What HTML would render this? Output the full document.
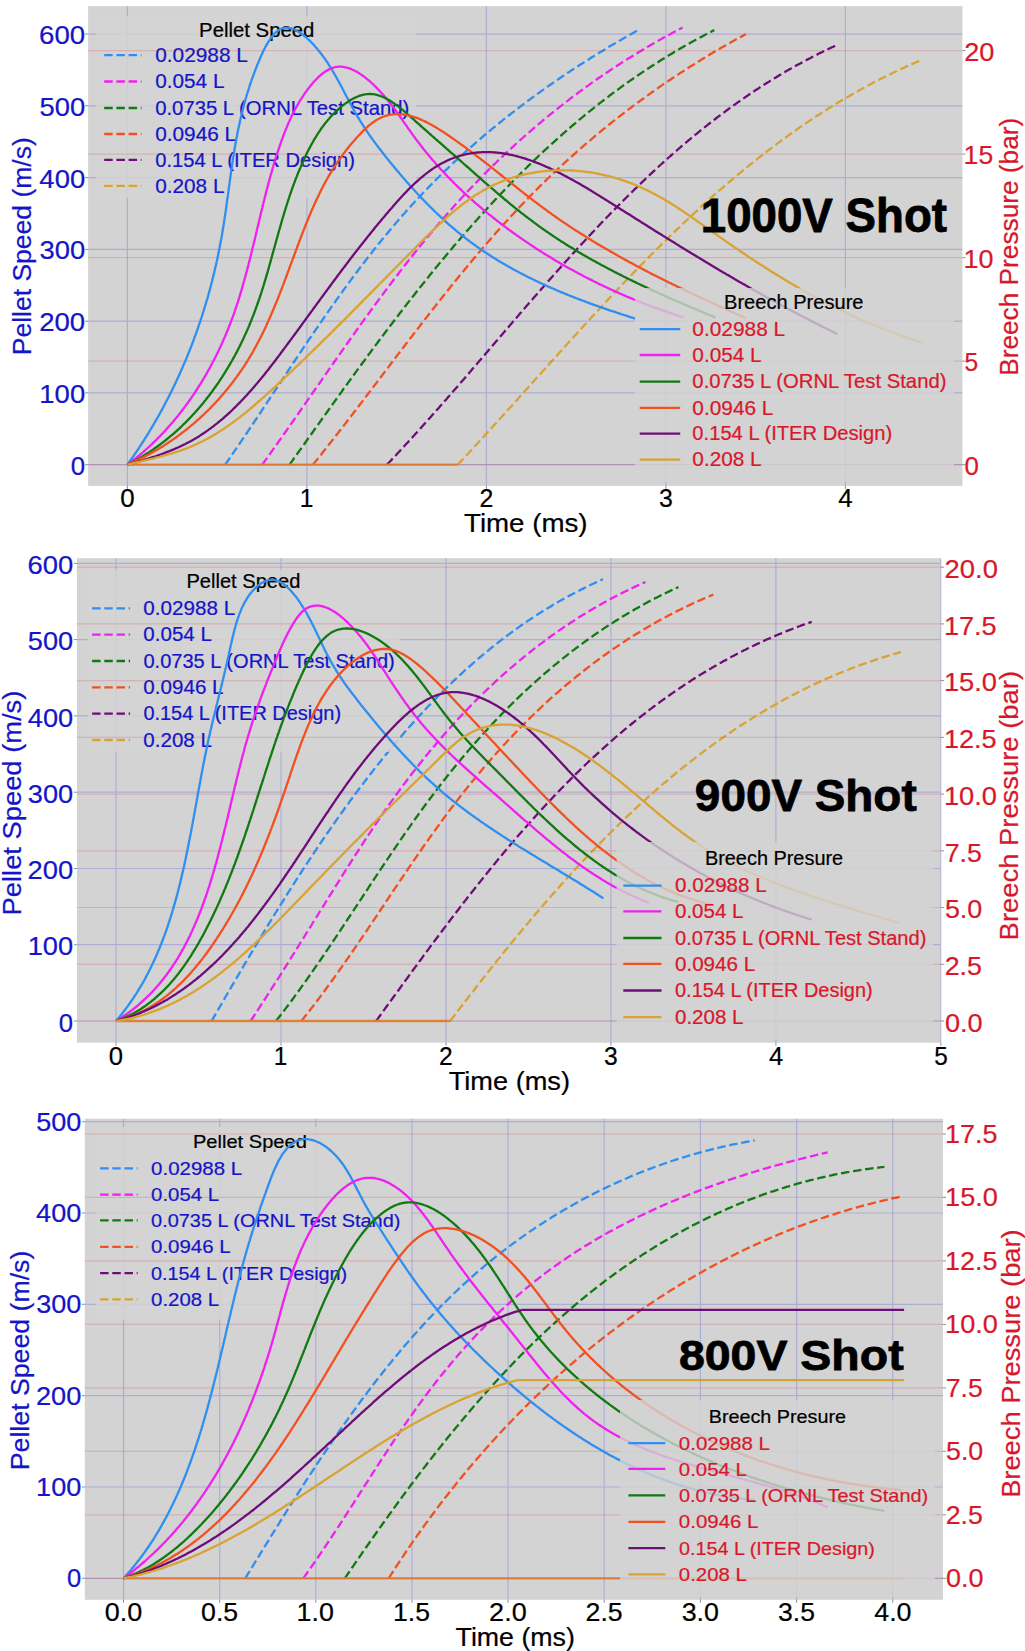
<!DOCTYPE html>
<html><head><meta charset="utf-8"><style>
html,body{margin:0;padding:0;background:#fff;}
svg{display:block;}
text{font-family:"Liberation Sans", sans-serif;}
</style></head><body>
<svg width="1025" height="1651" viewBox="0 0 1025 1651">
<rect x="0" y="0" width="1025" height="1651" fill="#ffffff"/>
<rect x="88.1" y="6.1" width="874.3" height="479.79999999999995" fill="#d3d3d3"/>
<path d="M127.4,6.1 V485.9 M306.9,6.1 V485.9 M486.4,6.1 V485.9 M665.9,6.1 V485.9 M845.4,6.1 V485.9 M88.1,464.7 H962.4 M88.1,392.9 H962.4 M88.1,321.2 H962.4 M88.1,249.4 H962.4 M88.1,177.6 H962.4 M88.1,105.8 H962.4 M88.1,34.1 H962.4" stroke="#2020e0" stroke-opacity="0.2" stroke-width="1.2" fill="none"/>
<path d="M225.1,464.7 226.0,463.5 226.8,462.2 227.7,461.0 228.5,459.8 229.4,458.5 230.2,457.3 231.1,456.1 231.9,454.8 232.8,453.6 233.6,452.4 234.5,451.1 235.3,449.9 236.2,448.6 237.0,447.4 237.9,446.2 238.7,444.9 239.6,443.7 240.4,442.4 241.3,441.2 242.1,439.9 242.9,438.7 243.8,437.5 244.6,436.2 245.5,435.0 246.3,433.7 247.2,432.5 248.0,431.2 248.8,430.0 249.7,428.7 250.5,427.5 251.3,426.2 252.2,425.0 253.0,423.7 253.9,422.5 254.7,421.2 255.5,420.0 256.4,418.7 257.2,417.5 258.0,416.2 258.9,415.0 259.7,413.7 260.5,412.5 261.4,411.2 262.2,409.9 263.0,408.7 263.9,407.4 264.7,406.2 265.5,404.9 266.4,403.7 267.2,402.4 268.0,401.2 268.9,399.9 269.7,398.6 270.5,397.4 271.4,396.1 272.2,394.9 273.0,393.6 273.8,392.4 274.7,391.1 275.5,389.9 276.3,388.6 277.2,387.3 278.0,386.1 278.8,384.8 279.7,383.6 280.5,382.3 281.3,381.1 282.2,379.8 283.0,378.5 283.8,377.3 284.7,376.0 285.5,374.8 286.3,373.5 287.2,372.3 288.0,371.0 288.8,369.8 289.7,368.5 290.5,367.2 291.3,366.0 292.2,364.7 293.0,363.5 293.8,362.2 294.7,361.0 295.5,359.7 296.3,358.5 297.2,357.2 298.0,356.0 298.8,354.7 299.7,353.5 300.5,352.2 301.4,351.0 302.2,349.7 303.0,348.4 303.9,347.2 304.7,345.9 305.6,344.7 306.4,343.5 307.2,342.2 308.1,341.0 308.9,339.7 309.8,338.5 310.6,337.2 311.5,336.0 312.3,334.7 313.2,333.5 314.0,332.2 314.9,331.0 315.7,329.7 316.6,328.5 317.4,327.3 318.3,326.0 319.1,324.8 320.0,323.5 320.8,322.3 321.7,321.1 322.5,319.8 323.4,318.6 324.2,317.3 325.1,316.1 325.9,314.9 326.8,313.6 327.7,312.4 328.5,311.2 329.4,309.9 330.3,308.7 331.1,307.5 332.0,306.3 332.9,305.0 333.7,303.8 334.6,302.6 335.5,301.3 336.3,300.1 337.2,298.9 338.1,297.7 338.9,296.4 339.8,295.2 340.7,294.0 341.6,292.8 342.5,291.6 343.3,290.3 344.2,289.1 345.1,287.9 346.0,286.7 346.9,285.5 347.7,284.3 348.6,283.1 349.5,281.9 350.4,280.6 351.3,279.4 352.2,278.2 353.1,277.0 354.0,275.8 354.9,274.6 355.8,273.4 356.7,272.2 357.6,271.0 358.5,269.8 359.4,268.6 360.3,267.4 361.2,266.2 362.1,265.0 363.0,263.8 363.9,262.7 364.8,261.5 365.8,260.3 366.7,259.1 367.6,257.9 368.5,256.7 369.4,255.5 370.3,254.4 371.3,253.2 372.2,252.0 373.1,250.8 374.1,249.6 375.0,248.5 375.9,247.3 376.9,246.1 377.8,245.0 378.7,243.8 379.7,242.6 380.6,241.5 381.5,240.3 382.5,239.1 383.4,238.0 384.4,236.8 385.3,235.7 386.3,234.5 387.2,233.4 388.2,232.2 389.2,231.0 390.1,229.9 391.1,228.8 392.0,227.6 393.0,226.5 394.0,225.3 395.0,224.2 395.9,223.0 396.9,221.9 397.9,220.8 398.9,219.6 399.8,218.5 400.8,217.4 401.8,216.3 402.8,215.1 403.8,214.0 404.8,212.9 405.8,211.8 406.8,210.6 407.8,209.5 408.8,208.4 409.8,207.3 410.8,206.2 411.8,205.1 412.8,204.0 413.8,202.9 414.8,201.8 415.8,200.7 416.8,199.6 417.9,198.5 418.9,197.4 419.9,196.3 420.9,195.2 422.0,194.1 423.0,193.0 424.0,191.9 425.1,190.9 426.1,189.8 427.2,188.7 428.2,187.6 429.3,186.6 430.3,185.5 431.4,184.4 432.4,183.3 433.5,182.3 434.5,181.2 435.6,180.2 436.6,179.1 437.7,178.0 438.8,177.0 439.8,175.9 440.9,174.9 442.0,173.8 443.1,172.8 444.1,171.7 445.2,170.7 446.3,169.7 447.4,168.6 448.5,167.6 449.5,166.5 450.6,165.5 451.7,164.5 452.8,163.4 453.9,162.4 455.0,161.4 456.1,160.4 457.2,159.3 458.3,158.3 459.4,157.3 460.5,156.3 461.6,155.3 462.8,154.3 463.9,153.3 465.0,152.3 466.1,151.3 467.2,150.2 468.3,149.2 469.5,148.2 470.6,147.2 471.7,146.3 472.9,145.3 474.0,144.3 475.1,143.3 476.2,142.3 477.4,141.3 478.5,140.3 479.7,139.3 480.8,138.4 482.0,137.4 483.1,136.4 484.2,135.4 485.4,134.5 486.5,133.5 487.7,132.5 488.9,131.6 490.0,130.6 491.2,129.6 492.3,128.7 493.5,127.7 494.7,126.8 495.8,125.8 497.0,124.9 498.2,123.9 499.3,123.0 500.5,122.0 501.7,121.1 502.9,120.1 504.0,119.2 505.2,118.3 506.4,117.3 507.6,116.4 508.8,115.5 510.0,114.5 511.1,113.6 512.3,112.7 513.5,111.8 514.7,110.8 515.9,109.9 517.1,109.0 518.3,108.1 519.5,107.2 520.7,106.3 521.9,105.3 523.1,104.4 524.3,103.5 525.5,102.6 526.7,101.7 527.9,100.8 529.2,99.9 530.4,99.0 531.6,98.1 532.8,97.3 534.0,96.4 535.2,95.5 536.5,94.6 537.7,93.7 538.9,92.8 540.1,91.9 541.4,91.1 542.6,90.2 543.8,89.3 545.0,88.4 546.3,87.6 547.5,86.7 548.7,85.8 550.0,85.0 551.2,84.1 552.5,83.3 553.7,82.4 554.9,81.5 556.2,80.7 557.4,79.8 558.7,79.0 559.9,78.1 561.2,77.3 562.4,76.4 563.7,75.6 564.9,74.8 566.2,73.9 567.4,73.1 568.7,72.3 569.9,71.4 571.2,70.6 572.5,69.8 573.7,68.9 575.0,68.1 576.3,67.3 577.5,66.5 578.8,65.6 580.1,64.8 581.3,64.0 582.6,63.2 583.9,62.4 585.1,61.6 586.4,60.8 587.7,60.0 589.0,59.2 590.2,58.4 591.5,57.6 592.8,56.8 594.1,56.0 595.4,55.2 596.6,54.4 597.9,53.6 599.2,52.8 600.5,52.0 601.8,51.2 603.1,50.5 604.4,49.7 605.6,48.9 606.9,48.1 608.2,47.4 609.5,46.6 610.8,45.8 612.1,45.0 613.4,44.3 614.7,43.5 616.0,42.8 617.3,42.0 618.6,41.2 619.9,40.5 621.2,39.7 622.5,39.0 623.8,38.2 625.1,37.5 626.4,36.7 627.7,36.0 629.0,35.2 630.3,34.5 631.6,33.8 633.0,33.0 634.3,32.3 635.6,31.6 636.9,30.8 638.2,30.1" fill="none" stroke="#2f8ff0" stroke-width="2.3" stroke-dasharray="8.5 3.7" stroke-linecap="butt" stroke-linejoin="round"/>
<path d="M262.2,464.7 263.1,463.5 264.0,462.3 264.8,461.1 265.7,459.8 266.6,458.6 267.4,457.4 268.3,456.2 269.2,455.0 270.1,453.8 270.9,452.5 271.8,451.3 272.7,450.1 273.5,448.9 274.4,447.7 275.3,446.4 276.1,445.2 277.0,444.0 277.9,442.8 278.7,441.5 279.6,440.3 280.5,439.1 281.3,437.9 282.2,436.6 283.1,435.4 283.9,434.2 284.8,433.0 285.6,431.7 286.5,430.5 287.4,429.3 288.2,428.0 289.1,426.8 290.0,425.6 290.8,424.3 291.7,423.1 292.5,421.9 293.4,420.6 294.3,419.4 295.1,418.2 296.0,416.9 296.8,415.7 297.7,414.5 298.6,413.2 299.4,412.0 300.3,410.8 301.1,409.5 302.0,408.3 302.9,407.1 303.7,405.8 304.6,404.6 305.4,403.4 306.3,402.1 307.2,400.9 308.0,399.7 308.9,398.4 309.7,397.2 310.6,395.9 311.5,394.7 312.3,393.5 313.2,392.2 314.0,391.0 314.9,389.8 315.8,388.5 316.6,387.3 317.5,386.0 318.3,384.8 319.2,383.6 320.1,382.3 320.9,381.1 321.8,379.9 322.6,378.6 323.5,377.4 324.4,376.1 325.2,374.9 326.1,373.7 326.9,372.4 327.8,371.2 328.7,370.0 329.5,368.7 330.4,367.5 331.2,366.2 332.1,365.0 333.0,363.8 333.8,362.5 334.7,361.3 335.6,360.1 336.4,358.8 337.3,357.6 338.2,356.4 339.0,355.1 339.9,353.9 340.8,352.6 341.6,351.4 342.5,350.2 343.4,348.9 344.2,347.7 345.1,346.5 346.0,345.2 346.8,344.0 347.7,342.8 348.6,341.5 349.5,340.3 350.3,339.1 351.2,337.9 352.1,336.6 352.9,335.4 353.8,334.2 354.7,332.9 355.6,331.7 356.4,330.5 357.3,329.3 358.2,328.0 359.1,326.8 360.0,325.6 360.8,324.3 361.7,323.1 362.6,321.9 363.5,320.7 364.4,319.4 365.2,318.2 366.1,317.0 367.0,315.8 367.9,314.6 368.8,313.3 369.7,312.1 370.5,310.9 371.4,309.7 372.3,308.5 373.2,307.2 374.1,306.0 375.0,304.8 375.9,303.6 376.8,302.4 377.7,301.2 378.6,300.0 379.5,298.7 380.4,297.5 381.3,296.3 382.2,295.1 383.1,293.9 384.0,292.7 384.9,291.5 385.8,290.3 386.7,289.1 387.6,287.9 388.5,286.7 389.4,285.5 390.3,284.3 391.2,283.1 392.1,281.9 393.0,280.7 393.9,279.5 394.8,278.3 395.8,277.1 396.7,275.9 397.6,274.7 398.5,273.5 399.4,272.3 400.3,271.1 401.3,269.9 402.2,268.7 403.1,267.5 404.0,266.3 405.0,265.1 405.9,264.0 406.8,262.8 407.7,261.6 408.7,260.4 409.6,259.2 410.5,258.0 411.5,256.9 412.4,255.7 413.3,254.5 414.3,253.3 415.2,252.2 416.2,251.0 417.1,249.8 418.0,248.7 419.0,247.5 419.9,246.3 420.9,245.1 421.8,244.0 422.8,242.8 423.7,241.7 424.7,240.5 425.6,239.3 426.6,238.2 427.5,237.0 428.5,235.9 429.5,234.7 430.4,233.5 431.4,232.4 432.4,231.2 433.3,230.1 434.3,228.9 435.3,227.8 436.2,226.7 437.2,225.5 438.2,224.4 439.2,223.2 440.1,222.1 441.1,221.0 442.1,219.8 443.1,218.7 444.1,217.5 445.1,216.4 446.0,215.3 447.0,214.2 448.0,213.0 449.0,211.9 450.0,210.8 451.0,209.7 452.0,208.5 453.0,207.4 454.0,206.3 455.0,205.2 456.0,204.1 457.0,203.0 458.0,201.8 459.0,200.7 460.1,199.6 461.1,198.5 462.1,197.4 463.1,196.3 464.1,195.2 465.1,194.1 466.2,193.0 467.2,191.9 468.2,190.8 469.3,189.7 470.3,188.6 471.3,187.6 472.4,186.5 473.4,185.4 474.4,184.3 475.5,183.2 476.5,182.1 477.6,181.1 478.6,180.0 479.7,178.9 480.7,177.8 481.8,176.8 482.8,175.7 483.9,174.6 484.9,173.6 486.0,172.5 487.0,171.5 488.1,170.4 489.2,169.3 490.2,168.3 491.3,167.2 492.4,166.2 493.4,165.1 494.5,164.1 495.6,163.0 496.7,162.0 497.8,160.9 498.8,159.9 499.9,158.9 501.0,157.8 502.1,156.8 503.2,155.8 504.3,154.7 505.4,153.7 506.5,152.7 507.6,151.7 508.7,150.6 509.8,149.6 510.9,148.6 512.0,147.6 513.1,146.6 514.2,145.5 515.3,144.5 516.4,143.5 517.5,142.5 518.6,141.5 519.7,140.5 520.9,139.5 522.0,138.5 523.1,137.5 524.2,136.5 525.3,135.5 526.5,134.5 527.6,133.5 528.7,132.6 529.9,131.6 531.0,130.6 532.1,129.6 533.3,128.6 534.4,127.7 535.6,126.7 536.7,125.7 537.9,124.7 539.0,123.8 540.1,122.8 541.3,121.8 542.5,120.9 543.6,119.9 544.8,119.0 545.9,118.0 547.1,117.1 548.2,116.1 549.4,115.2 550.6,114.2 551.7,113.3 552.9,112.3 554.1,111.4 555.2,110.4 556.4,109.5 557.6,108.6 558.8,107.6 560.0,106.7 561.1,105.8 562.3,104.9 563.5,103.9 564.7,103.0 565.9,102.1 567.1,101.2 568.3,100.3 569.5,99.3 570.7,98.4 571.8,97.5 573.0,96.6 574.2,95.7 575.4,94.8 576.7,93.9 577.9,93.0 579.1,92.1 580.3,91.2 581.5,90.3 582.7,89.5 583.9,88.6 585.1,87.7 586.4,86.8 587.6,85.9 588.8,85.1 590.0,84.2 591.2,83.3 592.5,82.4 593.7,81.6 594.9,80.7 596.2,79.8 597.4,79.0 598.6,78.1 599.9,77.3 601.1,76.4 602.3,75.6 603.6,74.7 604.8,73.9 606.1,73.0 607.3,72.2 608.6,71.4 609.8,70.5 611.1,69.7 612.3,68.8 613.6,68.0 614.8,67.2 616.1,66.4 617.4,65.5 618.6,64.7 619.9,63.9 621.2,63.1 622.4,62.3 623.7,61.5 625.0,60.7 626.2,59.9 627.5,59.1 628.8,58.3 630.1,57.5 631.4,56.7 632.6,55.9 633.9,55.1 635.2,54.3 636.5,53.5 637.8,52.7 639.1,51.9 640.4,51.2 641.7,50.4 643.0,49.6 644.3,48.8 645.6,48.1 646.9,47.3 648.2,46.5 649.5,45.8 650.8,45.0 652.1,44.3 653.4,43.5 654.7,42.8 656.0,42.0 657.3,41.3 658.6,40.5 660.0,39.8 661.3,39.1 662.6,38.3 663.9,37.6 665.2,36.9 666.6,36.1 667.9,35.4 669.2,34.7 670.6,34.0 671.9,33.2 673.2,32.5 674.6,31.8 675.9,31.1 677.2,30.4 678.6,29.7 679.9,29.0 681.3,28.3 682.6,27.6" fill="none" stroke="#f020f0" stroke-width="2.3" stroke-dasharray="8.5 3.7" stroke-linecap="butt" stroke-linejoin="round"/>
<path d="M289.5,464.7 290.4,463.5 291.2,462.3 292.1,461.1 293.0,459.8 293.8,458.6 294.7,457.4 295.6,456.2 296.4,455.0 297.3,453.7 298.2,452.5 299.0,451.3 299.9,450.1 300.8,448.9 301.7,447.6 302.5,446.4 303.4,445.2 304.3,444.0 305.1,442.8 306.0,441.5 306.9,440.3 307.7,439.1 308.6,437.9 309.5,436.7 310.3,435.4 311.2,434.2 312.1,433.0 313.0,431.8 313.8,430.5 314.7,429.3 315.6,428.1 316.4,426.9 317.3,425.6 318.2,424.4 319.1,423.2 319.9,422.0 320.8,420.8 321.7,419.5 322.6,418.3 323.4,417.1 324.3,415.9 325.2,414.6 326.1,413.4 326.9,412.2 327.8,411.0 328.7,409.7 329.6,408.5 330.4,407.3 331.3,406.1 332.2,404.8 333.1,403.6 333.9,402.4 334.8,401.2 335.7,400.0 336.6,398.7 337.5,397.5 338.3,396.3 339.2,395.1 340.1,393.8 341.0,392.6 341.9,391.4 342.7,390.2 343.6,388.9 344.5,387.7 345.4,386.5 346.3,385.3 347.2,384.1 348.0,382.8 348.9,381.6 349.8,380.4 350.7,379.2 351.6,378.0 352.5,376.7 353.4,375.5 354.3,374.3 355.1,373.1 356.0,371.9 356.9,370.6 357.8,369.4 358.7,368.2 359.6,367.0 360.5,365.8 361.4,364.5 362.3,363.3 363.2,362.1 364.1,360.9 365.0,359.7 365.8,358.5 366.7,357.2 367.6,356.0 368.5,354.8 369.4,353.6 370.3,352.4 371.2,351.2 372.1,349.9 373.0,348.7 373.9,347.5 374.8,346.3 375.7,345.1 376.6,343.9 377.5,342.7 378.4,341.5 379.3,340.3 380.2,339.0 381.2,337.8 382.1,336.6 383.0,335.4 383.9,334.2 384.8,333.0 385.7,331.8 386.6,330.6 387.5,329.4 388.4,328.2 389.3,327.0 390.2,325.8 391.2,324.6 392.1,323.4 393.0,322.2 393.9,321.0 394.8,319.8 395.7,318.6 396.7,317.4 397.6,316.2 398.5,315.0 399.4,313.8 400.3,312.6 401.3,311.4 402.2,310.2 403.1,309.0 404.0,307.8 405.0,306.6 405.9,305.4 406.8,304.2 407.7,303.0 408.7,301.8 409.6,300.6 410.5,299.4 411.5,298.2 412.4,297.1 413.3,295.9 414.3,294.7 415.2,293.5 416.1,292.3 417.1,291.1 418.0,289.9 418.9,288.8 419.9,287.6 420.8,286.4 421.8,285.2 422.7,284.0 423.6,282.9 424.6,281.7 425.5,280.5 426.5,279.3 427.4,278.2 428.4,277.0 429.3,275.8 430.3,274.6 431.2,273.5 432.2,272.3 433.1,271.1 434.1,269.9 435.0,268.8 436.0,267.6 436.9,266.4 437.9,265.3 438.8,264.1 439.8,263.0 440.8,261.8 441.7,260.6 442.7,259.5 443.7,258.3 444.6,257.2 445.6,256.0 446.6,254.8 447.5,253.7 448.5,252.5 449.5,251.4 450.4,250.2 451.4,249.1 452.4,247.9 453.3,246.8 454.3,245.6 455.3,244.5 456.3,243.3 457.3,242.2 458.2,241.1 459.2,239.9 460.2,238.8 461.2,237.6 462.2,236.5 463.2,235.4 464.1,234.2 465.1,233.1 466.1,231.9 467.1,230.8 468.1,229.7 469.1,228.6 470.1,227.4 471.1,226.3 472.1,225.2 473.1,224.0 474.1,222.9 475.1,221.8 476.1,220.7 477.1,219.6 478.1,218.4 479.1,217.3 480.1,216.2 481.1,215.1 482.1,214.0 483.1,212.9 484.1,211.8 485.1,210.6 486.2,209.5 487.2,208.4 488.2,207.3 489.2,206.2 490.2,205.1 491.2,204.0 492.3,202.9 493.3,201.8 494.3,200.7 495.3,199.6 496.4,198.5 497.4,197.4 498.4,196.3 499.5,195.3 500.5,194.2 501.5,193.1 502.6,192.0 503.6,190.9 504.6,189.8 505.7,188.8 506.7,187.7 507.8,186.6 508.8,185.5 509.8,184.4 510.9,183.4 511.9,182.3 513.0,181.2 514.0,180.2 515.1,179.1 516.1,178.0 517.2,177.0 518.3,175.9 519.3,174.8 520.4,173.8 521.4,172.7 522.5,171.7 523.6,170.6 524.6,169.6 525.7,168.5 526.8,167.5 527.8,166.4 528.9,165.4 530.0,164.3 531.0,163.3 532.1,162.2 533.2,161.2 534.3,160.2 535.4,159.1 536.4,158.1 537.5,157.1 538.6,156.0 539.7,155.0 540.8,154.0 541.9,153.0 543.0,151.9 544.1,150.9 545.2,149.9 546.3,148.9 547.4,147.9 548.5,146.8 549.6,145.8 550.7,144.8 551.8,143.8 552.9,142.8 554.0,141.8 555.1,140.8 556.2,139.8 557.3,138.8 558.4,137.8 559.6,136.8 560.7,135.8 561.8,134.8 562.9,133.8 564.0,132.8 565.2,131.9 566.3,130.9 567.4,129.9 568.5,128.9 569.7,127.9 570.8,127.0 571.9,126.0 573.1,125.0 574.2,124.1 575.4,123.1 576.5,122.1 577.7,121.2 578.8,120.2 579.9,119.2 581.1,118.3 582.2,117.3 583.4,116.4 584.6,115.4 585.7,114.5 586.9,113.5 588.0,112.6 589.2,111.6 590.4,110.7 591.5,109.8 592.7,108.8 593.9,107.9 595.0,106.9 596.2,106.0 597.4,105.1 598.6,104.2 599.7,103.2 600.9,102.3 602.1,101.4 603.3,100.5 604.5,99.6 605.7,98.7 606.9,97.7 608.1,96.8 609.2,95.9 610.4,95.0 611.6,94.1 612.8,93.2 614.0,92.3 615.2,91.4 616.5,90.5 617.7,89.7 618.9,88.8 620.1,87.9 621.3,87.0 622.5,86.1 623.7,85.2 625.0,84.4 626.2,83.5 627.4,82.6 628.6,81.8 629.9,80.9 631.1,80.0 632.3,79.2 633.6,78.3 634.8,77.5 636.0,76.6 637.3,75.7 638.5,74.9 639.8,74.1 641.0,73.2 642.2,72.4 643.5,71.5 644.8,70.7 646.0,69.9 647.3,69.0 648.5,68.2 649.8,67.4 651.0,66.5 652.3,65.7 653.6,64.9 654.9,64.1 656.1,63.3 657.4,62.5 658.7,61.7 660.0,60.8 661.2,60.0 662.5,59.2 663.8,58.4 665.1,57.6 666.4,56.9 667.7,56.1 669.0,55.3 670.3,54.5 671.6,53.7 672.9,52.9 674.2,52.1 675.5,51.4 676.8,50.6 678.1,49.8 679.4,49.1 680.7,48.3 682.0,47.5 683.3,46.8 684.7,46.0 686.0,45.3 687.3,44.5 688.6,43.8 690.0,43.0 691.3,42.3 692.6,41.5 694.0,40.8 695.3,40.1 696.7,39.3 698.0,38.6 699.3,37.9 700.7,37.2 702.0,36.5 703.4,35.7 704.8,35.0 706.1,34.3 707.5,33.6 708.8,32.9 710.2,32.2 711.6,31.5 712.9,30.8 714.3,30.1" fill="none" stroke="#107a10" stroke-width="2.3" stroke-dasharray="8.5 3.7" stroke-linecap="butt" stroke-linejoin="round"/>
<path d="M312.9,464.7 313.8,463.5 314.8,462.4 315.7,461.2 316.7,460.0 317.6,458.9 318.5,457.7 319.5,456.5 320.4,455.3 321.4,454.2 322.3,453.0 323.2,451.8 324.2,450.6 325.1,449.5 326.0,448.3 327.0,447.1 327.9,445.9 328.8,444.8 329.7,443.6 330.7,442.4 331.6,441.2 332.5,440.0 333.5,438.9 334.4,437.7 335.3,436.5 336.2,435.3 337.2,434.1 338.1,432.9 339.0,431.7 339.9,430.6 340.9,429.4 341.8,428.2 342.7,427.0 343.6,425.8 344.5,424.6 345.5,423.4 346.4,422.2 347.3,421.0 348.2,419.8 349.1,418.7 350.1,417.5 351.0,416.3 351.9,415.1 352.8,413.9 353.7,412.7 354.6,411.5 355.6,410.3 356.5,409.1 357.4,407.9 358.3,406.7 359.2,405.5 360.1,404.3 361.0,403.1 362.0,401.9 362.9,400.7 363.8,399.5 364.7,398.3 365.6,397.1 366.5,395.9 367.4,394.7 368.3,393.5 369.3,392.3 370.2,391.1 371.1,389.9 372.0,388.7 372.9,387.5 373.8,386.3 374.7,385.1 375.6,383.9 376.6,382.7 377.5,381.5 378.4,380.3 379.3,379.1 380.2,377.9 381.1,376.7 382.0,375.5 382.9,374.3 383.8,373.1 384.8,371.9 385.7,370.7 386.6,369.5 387.5,368.3 388.4,367.1 389.3,365.9 390.2,364.7 391.1,363.5 392.0,362.3 393.0,361.1 393.9,359.9 394.8,358.7 395.7,357.5 396.6,356.3 397.5,355.1 398.4,353.9 399.3,352.7 400.3,351.5 401.2,350.3 402.1,349.1 403.0,347.9 403.9,346.7 404.8,345.5 405.7,344.3 406.7,343.1 407.6,341.9 408.5,340.7 409.4,339.5 410.3,338.3 411.2,337.1 412.2,335.9 413.1,334.7 414.0,333.6 414.9,332.4 415.8,331.2 416.7,330.0 417.7,328.8 418.6,327.6 419.5,326.4 420.4,325.2 421.3,324.0 422.3,322.8 423.2,321.6 424.1,320.4 425.0,319.2 426.0,318.0 426.9,316.9 427.8,315.7 428.7,314.5 429.7,313.3 430.6,312.1 431.5,310.9 432.4,309.7 433.4,308.5 434.3,307.4 435.2,306.2 436.2,305.0 437.1,303.8 438.0,302.6 439.0,301.4 439.9,300.3 440.8,299.1 441.8,297.9 442.7,296.7 443.6,295.5 444.6,294.4 445.5,293.2 446.5,292.0 447.4,290.8 448.3,289.7 449.3,288.5 450.2,287.3 451.2,286.1 452.1,285.0 453.0,283.8 454.0,282.6 454.9,281.5 455.9,280.3 456.8,279.1 457.8,278.0 458.7,276.8 459.7,275.6 460.6,274.5 461.6,273.3 462.5,272.1 463.5,271.0 464.5,269.8 465.4,268.7 466.4,267.5 467.3,266.3 468.3,265.2 469.2,264.0 470.2,262.9 471.2,261.7 472.1,260.6 473.1,259.4 474.1,258.3 475.0,257.1 476.0,256.0 477.0,254.8 477.9,253.7 478.9,252.5 479.9,251.4 480.9,250.3 481.8,249.1 482.8,248.0 483.8,246.8 484.8,245.7 485.8,244.6 486.7,243.4 487.7,242.3 488.7,241.2 489.7,240.0 490.7,238.9 491.7,237.8 492.7,236.6 493.6,235.5 494.6,234.4 495.6,233.3 496.6,232.1 497.6,231.0 498.6,229.9 499.6,228.8 500.6,227.7 501.6,226.6 502.6,225.4 503.6,224.3 504.6,223.2 505.7,222.1 506.7,221.0 507.7,219.9 508.7,218.8 509.7,217.7 510.7,216.6 511.7,215.5 512.8,214.4 513.8,213.3 514.8,212.2 515.8,211.1 516.8,210.0 517.9,208.9 518.9,207.8 519.9,206.7 521.0,205.6 522.0,204.6 523.0,203.5 524.1,202.4 525.1,201.3 526.1,200.2 527.2,199.2 528.2,198.1 529.3,197.0 530.3,195.9 531.4,194.9 532.4,193.8 533.5,192.7 534.5,191.7 535.6,190.6 536.6,189.6 537.7,188.5 538.8,187.4 539.8,186.4 540.9,185.3 542.0,184.3 543.0,183.2 544.1,182.2 545.2,181.1 546.2,180.1 547.3,179.0 548.4,178.0 549.5,177.0 550.6,175.9 551.6,174.9 552.7,173.8 553.8,172.8 554.9,171.8 556.0,170.8 557.1,169.7 558.2,168.7 559.3,167.7 560.4,166.7 561.5,165.6 562.6,164.6 563.7,163.6 564.8,162.6 565.9,161.6 567.0,160.6 568.1,159.6 569.2,158.6 570.3,157.6 571.4,156.6 572.6,155.6 573.7,154.6 574.8,153.6 575.9,152.6 577.0,151.6 578.2,150.6 579.3,149.6 580.4,148.6 581.6,147.6 582.7,146.6 583.8,145.6 585.0,144.7 586.1,143.7 587.2,142.7 588.4,141.7 589.5,140.8 590.7,139.8 591.8,138.8 593.0,137.9 594.1,136.9 595.3,135.9 596.4,135.0 597.6,134.0 598.7,133.0 599.9,132.1 601.0,131.1 602.2,130.2 603.4,129.2 604.5,128.3 605.7,127.3 606.9,126.4 608.0,125.5 609.2,124.5 610.4,123.6 611.5,122.6 612.7,121.7 613.9,120.8 615.1,119.8 616.3,118.9 617.4,118.0 618.6,117.1 619.8,116.1 621.0,115.2 622.2,114.3 623.4,113.4 624.6,112.5 625.8,111.6 627.0,110.6 628.2,109.7 629.4,108.8 630.6,107.9 631.8,107.0 633.0,106.1 634.2,105.2 635.4,104.3 636.6,103.4 637.8,102.5 639.0,101.6 640.2,100.8 641.4,99.9 642.6,99.0 643.9,98.1 645.1,97.2 646.3,96.3 647.5,95.5 648.7,94.6 650.0,93.7 651.2,92.8 652.4,92.0 653.7,91.1 654.9,90.2 656.1,89.4 657.4,88.5 658.6,87.6 659.8,86.8 661.1,85.9 662.3,85.1 663.5,84.2 664.8,83.4 666.0,82.5 667.3,81.7 668.5,80.8 669.8,80.0 671.0,79.2 672.3,78.3 673.5,77.5 674.8,76.7 676.0,75.8 677.3,75.0 678.6,74.2 679.8,73.3 681.1,72.5 682.4,71.7 683.6,70.9 684.9,70.1 686.2,69.2 687.4,68.4 688.7,67.6 690.0,66.8 691.2,66.0 692.5,65.2 693.8,64.4 695.1,63.6 696.3,62.8 697.6,62.0 698.9,61.2 700.2,60.4 701.5,59.6 702.8,58.8 704.1,58.0 705.3,57.3 706.6,56.5 707.9,55.7 709.2,54.9 710.5,54.1 711.8,53.4 713.1,52.6 714.4,51.8 715.7,51.1 717.0,50.3 718.3,49.5 719.6,48.8 720.9,48.0 722.2,47.3 723.5,46.5 724.9,45.8 726.2,45.0 727.5,44.3 728.8,43.5 730.1,42.8 731.4,42.0 732.7,41.3 734.1,40.5 735.4,39.8 736.7,39.1 738.0,38.3 739.4,37.6 740.7,36.9 742.0,36.2 743.3,35.4 744.7,34.7 746.0,34.0" fill="none" stroke="#f25020" stroke-width="2.3" stroke-dasharray="8.5 3.7" stroke-linecap="butt" stroke-linejoin="round"/>
<path d="M386.9,464.7 387.9,463.6 389.0,462.5 390.0,461.5 391.0,460.4 392.0,459.3 393.0,458.2 394.1,457.1 395.1,456.0 396.1,455.0 397.1,453.9 398.1,452.8 399.2,451.7 400.2,450.6 401.2,449.5 402.2,448.4 403.2,447.3 404.2,446.2 405.2,445.1 406.2,444.0 407.3,442.9 408.3,441.8 409.3,440.7 410.3,439.6 411.3,438.5 412.3,437.4 413.3,436.3 414.3,435.2 415.3,434.1 416.3,433.0 417.3,431.9 418.3,430.8 419.3,429.7 420.3,428.5 421.3,427.4 422.3,426.3 423.3,425.2 424.3,424.1 425.3,423.0 426.3,421.9 427.3,420.7 428.3,419.6 429.3,418.5 430.3,417.4 431.3,416.3 432.3,415.1 433.3,414.0 434.3,412.9 435.3,411.8 436.3,410.6 437.3,409.5 438.3,408.4 439.3,407.3 440.3,406.1 441.3,405.0 442.2,403.9 443.2,402.8 444.2,401.6 445.2,400.5 446.2,399.4 447.2,398.2 448.2,397.1 449.2,396.0 450.2,394.8 451.2,393.7 452.1,392.6 453.1,391.4 454.1,390.3 455.1,389.2 456.1,388.0 457.1,386.9 458.1,385.7 459.0,384.6 460.0,383.5 461.0,382.3 462.0,381.2 463.0,380.1 464.0,378.9 465.0,377.8 465.9,376.6 466.9,375.5 467.9,374.3 468.9,373.2 469.9,372.1 470.9,370.9 471.8,369.8 472.8,368.6 473.8,367.5 474.8,366.3 475.8,365.2 476.8,364.1 477.7,362.9 478.7,361.8 479.7,360.6 480.7,359.5 481.7,358.3 482.6,357.2 483.6,356.0 484.6,354.9 485.6,353.8 486.6,352.6 487.6,351.5 488.5,350.3 489.5,349.2 490.5,348.0 491.5,346.9 492.5,345.7 493.4,344.6 494.4,343.4 495.4,342.3 496.4,341.1 497.4,340.0 498.4,338.8 499.3,337.7 500.3,336.5 501.3,335.4 502.3,334.3 503.3,333.1 504.3,332.0 505.2,330.8 506.2,329.7 507.2,328.5 508.2,327.4 509.2,326.2 510.2,325.1 511.1,323.9 512.1,322.8 513.1,321.6 514.1,320.5 515.1,319.3 516.1,318.2 517.1,317.1 518.0,315.9 519.0,314.8 520.0,313.6 521.0,312.5 522.0,311.3 523.0,310.2 524.0,309.0 524.9,307.9 525.9,306.8 526.9,305.6 527.9,304.5 528.9,303.3 529.9,302.2 530.9,301.1 531.9,299.9 532.9,298.8 533.9,297.6 534.8,296.5 535.8,295.4 536.8,294.2 537.8,293.1 538.8,291.9 539.8,290.8 540.8,289.7 541.8,288.5 542.8,287.4 543.8,286.3 544.8,285.1 545.8,284.0 546.8,282.9 547.8,281.7 548.8,280.6 549.8,279.5 550.8,278.3 551.8,277.2 552.8,276.1 553.8,274.9 554.8,273.8 555.8,272.7 556.8,271.5 557.8,270.4 558.8,269.3 559.8,268.2 560.8,267.0 561.8,265.9 562.8,264.8 563.8,263.7 564.8,262.5 565.8,261.4 566.8,260.3 567.9,259.2 568.9,258.1 569.9,256.9 570.9,255.8 571.9,254.7 572.9,253.6 573.9,252.5 574.9,251.4 576.0,250.3 577.0,249.1 578.0,248.0 579.0,246.9 580.0,245.8 581.0,244.7 582.1,243.6 583.1,242.5 584.1,241.4 585.1,240.3 586.2,239.2 587.2,238.1 588.2,237.0 589.2,235.9 590.3,234.8 591.3,233.7 592.3,232.6 593.4,231.5 594.4,230.4 595.4,229.3 596.4,228.2 597.5,227.1 598.5,226.0 599.5,224.9 600.6,223.8 601.6,222.7 602.7,221.7 603.7,220.6 604.7,219.5 605.8,218.4 606.8,217.3 607.9,216.2 608.9,215.2 610.0,214.1 611.0,213.0 612.1,211.9 613.1,210.9 614.2,209.8 615.2,208.7 616.3,207.6 617.3,206.6 618.4,205.5 619.4,204.4 620.5,203.4 621.5,202.3 622.6,201.2 623.6,200.2 624.7,199.1 625.8,198.1 626.8,197.0 627.9,196.0 629.0,194.9 630.0,193.8 631.1,192.8 632.2,191.7 633.2,190.7 634.3,189.6 635.4,188.6 636.5,187.6 637.5,186.5 638.6,185.5 639.7,184.4 640.8,183.4 641.9,182.4 642.9,181.3 644.0,180.3 645.1,179.3 646.2,178.2 647.3,177.2 648.4,176.2 649.5,175.2 650.5,174.1 651.6,173.1 652.7,172.1 653.8,171.1 654.9,170.1 656.0,169.0 657.1,168.0 658.2,167.0 659.3,166.0 660.4,165.0 661.5,164.0 662.6,163.0 663.8,162.0 664.9,161.0 666.0,160.0 667.1,159.0 668.2,158.0 669.3,157.0 670.4,156.0 671.6,155.0 672.7,154.0 673.8,153.1 674.9,152.1 676.0,151.1 677.2,150.1 678.3,149.1 679.4,148.2 680.6,147.2 681.7,146.2 682.8,145.2 684.0,144.3 685.1,143.3 686.2,142.4 687.4,141.4 688.5,140.4 689.7,139.5 690.8,138.5 692.0,137.6 693.1,136.6 694.3,135.7 695.4,134.7 696.6,133.8 697.7,132.8 698.9,131.9 700.1,130.9 701.2,130.0 702.4,129.1 703.5,128.1 704.7,127.2 705.9,126.3 707.1,125.4 708.2,124.4 709.4,123.5 710.6,122.6 711.8,121.7 712.9,120.8 714.1,119.9 715.3,119.0 716.5,118.0 717.7,117.1 718.9,116.2 720.1,115.3 721.2,114.4 722.4,113.5 723.6,112.7 724.8,111.8 726.0,110.9 727.2,110.0 728.4,109.1 729.7,108.2 730.9,107.3 732.1,106.5 733.3,105.6 734.5,104.7 735.7,103.9 736.9,103.0 738.2,102.1 739.4,101.3 740.6,100.4 741.8,99.6 743.1,98.7 744.3,97.9 745.5,97.0 746.8,96.2 748.0,95.3 749.2,94.5 750.5,93.6 751.7,92.8 753.0,92.0 754.2,91.1 755.5,90.3 756.7,89.5 758.0,88.7 759.2,87.9 760.5,87.0 761.7,86.2 763.0,85.4 764.3,84.6 765.5,83.8 766.8,83.0 768.1,82.2 769.4,81.4 770.6,80.6 771.9,79.8 773.2,79.0 774.5,78.2 775.8,77.5 777.0,76.7 778.3,75.9 779.6,75.1 780.9,74.4 782.2,73.6 783.5,72.8 784.8,72.1 786.1,71.3 787.4,70.6 788.7,69.8 790.1,69.0 791.4,68.3 792.7,67.6 794.0,66.8 795.3,66.1 796.6,65.3 798.0,64.6 799.3,63.9 800.6,63.2 802.0,62.4 803.3,61.7 804.6,61.0 806.0,60.3 807.3,59.6 808.7,58.9 810.0,58.2 811.4,57.5 812.7,56.8 814.1,56.1 815.4,55.4 816.8,54.7 818.1,54.0 819.5,53.3 820.9,52.6 822.3,52.0 823.6,51.3 825.0,50.6 826.4,50.0 827.8,49.3 829.1,48.6 830.5,48.0 831.9,47.3 833.3,46.7 834.7,46.0 836.1,45.4" fill="none" stroke="#6e0c78" stroke-width="2.3" stroke-dasharray="8.5 3.7" stroke-linecap="butt" stroke-linejoin="round"/>
<path d="M457.8,464.7 458.8,463.6 459.8,462.5 460.9,461.4 461.9,460.4 462.9,459.3 463.9,458.2 464.9,457.1 465.9,456.0 466.9,454.9 468.0,453.8 469.0,452.7 470.0,451.6 471.0,450.5 472.0,449.4 473.0,448.3 474.0,447.2 475.0,446.1 476.0,445.0 477.1,443.9 478.1,442.8 479.1,441.7 480.1,440.6 481.1,439.5 482.1,438.4 483.1,437.3 484.1,436.2 485.1,435.1 486.1,434.0 487.1,432.9 488.2,431.8 489.2,430.7 490.2,429.6 491.2,428.4 492.2,427.3 493.2,426.2 494.2,425.1 495.2,424.0 496.2,422.9 497.2,421.8 498.2,420.7 499.2,419.6 500.2,418.4 501.3,417.3 502.3,416.2 503.3,415.1 504.3,414.0 505.3,412.9 506.3,411.8 507.3,410.6 508.3,409.5 509.3,408.4 510.3,407.3 511.3,406.2 512.3,405.0 513.3,403.9 514.3,402.8 515.3,401.7 516.4,400.6 517.4,399.5 518.4,398.3 519.4,397.2 520.4,396.1 521.4,395.0 522.4,393.9 523.4,392.7 524.4,391.6 525.4,390.5 526.4,389.4 527.4,388.2 528.4,387.1 529.4,386.0 530.4,384.9 531.5,383.8 532.5,382.6 533.5,381.5 534.5,380.4 535.5,379.3 536.5,378.1 537.5,377.0 538.5,375.9 539.5,374.8 540.5,373.7 541.5,372.5 542.5,371.4 543.5,370.3 544.6,369.2 545.6,368.0 546.6,366.9 547.6,365.8 548.6,364.7 549.6,363.5 550.6,362.4 551.6,361.3 552.6,360.2 553.7,359.0 554.7,357.9 555.7,356.8 556.7,355.7 557.7,354.6 558.7,353.4 559.7,352.3 560.7,351.2 561.8,350.1 562.8,348.9 563.8,347.8 564.8,346.7 565.8,345.6 566.8,344.5 567.8,343.3 568.9,342.2 569.9,341.1 570.9,340.0 571.9,338.9 572.9,337.7 573.9,336.6 575.0,335.5 576.0,334.4 577.0,333.3 578.0,332.1 579.0,331.0 580.1,329.9 581.1,328.8 582.1,327.7 583.1,326.6 584.1,325.4 585.2,324.3 586.2,323.2 587.2,322.1 588.2,321.0 589.3,319.9 590.3,318.8 591.3,317.6 592.3,316.5 593.4,315.4 594.4,314.3 595.4,313.2 596.4,312.1 597.5,311.0 598.5,309.9 599.5,308.8 600.5,307.6 601.6,306.5 602.6,305.4 603.6,304.3 604.7,303.2 605.7,302.1 606.7,301.0 607.8,299.9 608.8,298.8 609.8,297.7 610.9,296.6 611.9,295.5 612.9,294.4 614.0,293.3 615.0,292.2 616.1,291.1 617.1,290.0 618.1,288.9 619.2,287.8 620.2,286.7 621.3,285.6 622.3,284.5 623.3,283.4 624.4,282.3 625.4,281.2 626.5,280.1 627.5,279.0 628.6,278.0 629.6,276.9 630.7,275.8 631.7,274.7 632.8,273.6 633.8,272.5 634.9,271.4 635.9,270.3 637.0,269.3 638.0,268.2 639.1,267.1 640.1,266.0 641.2,264.9 642.2,263.9 643.3,262.8 644.4,261.7 645.4,260.6 646.5,259.5 647.5,258.5 648.6,257.4 649.7,256.3 650.7,255.3 651.8,254.2 652.9,253.1 653.9,252.0 655.0,251.0 656.1,249.9 657.1,248.8 658.2,247.8 659.3,246.7 660.3,245.7 661.4,244.6 662.5,243.5 663.5,242.5 664.6,241.4 665.7,240.4 666.8,239.3 667.9,238.3 668.9,237.2 670.0,236.2 671.1,235.1 672.2,234.1 673.3,233.0 674.3,232.0 675.4,230.9 676.5,229.9 677.6,228.8 678.7,227.8 679.8,226.8 680.9,225.7 681.9,224.7 683.0,223.6 684.1,222.6 685.2,221.6 686.3,220.5 687.4,219.5 688.5,218.5 689.6,217.4 690.7,216.4 691.8,215.4 692.9,214.4 694.0,213.3 695.1,212.3 696.2,211.3 697.3,210.3 698.4,209.3 699.5,208.3 700.6,207.2 701.7,206.2 702.9,205.2 704.0,204.2 705.1,203.2 706.2,202.2 707.3,201.2 708.4,200.2 709.5,199.2 710.7,198.2 711.8,197.2 712.9,196.2 714.0,195.2 715.2,194.2 716.3,193.2 717.4,192.2 718.5,191.2 719.7,190.2 720.8,189.3 721.9,188.3 723.1,187.3 724.2,186.3 725.3,185.3 726.5,184.4 727.6,183.4 728.7,182.4 729.9,181.4 731.0,180.5 732.2,179.5 733.3,178.5 734.5,177.6 735.6,176.6 736.7,175.6 737.9,174.7 739.0,173.7 740.2,172.8 741.4,171.8 742.5,170.9 743.7,169.9 744.8,169.0 746.0,168.0 747.1,167.1 748.3,166.1 749.5,165.2 750.6,164.2 751.8,163.3 753.0,162.4 754.1,161.4 755.3,160.5 756.5,159.6 757.7,158.6 758.8,157.7 760.0,156.8 761.2,155.9 762.4,155.0 763.5,154.0 764.7,153.1 765.9,152.2 767.1,151.3 768.3,150.4 769.5,149.5 770.7,148.6 771.8,147.7 773.0,146.8 774.2,145.9 775.4,145.0 776.6,144.1 777.8,143.2 779.0,142.3 780.2,141.4 781.4,140.5 782.6,139.6 783.8,138.8 785.1,137.9 786.3,137.0 787.5,136.1 788.7,135.2 789.9,134.4 791.1,133.5 792.3,132.6 793.6,131.8 794.8,130.9 796.0,130.1 797.2,129.2 798.5,128.3 799.7,127.5 800.9,126.6 802.1,125.8 803.4,124.9 804.6,124.1 805.9,123.3 807.1,122.4 808.3,121.6 809.6,120.8 810.8,119.9 812.1,119.1 813.3,118.3 814.6,117.4 815.8,116.6 817.1,115.8 818.3,115.0 819.6,114.2 820.8,113.4 822.1,112.5 823.3,111.7 824.6,110.9 825.9,110.1 827.1,109.3 828.4,108.5 829.7,107.7 831.0,107.0 832.2,106.2 833.5,105.4 834.8,104.6 836.1,103.8 837.3,103.0 838.6,102.3 839.9,101.5 841.2,100.7 842.5,100.0 843.8,99.2 845.1,98.4 846.4,97.7 847.7,96.9 849.0,96.2 850.3,95.4 851.6,94.6 852.9,93.9 854.2,93.2 855.5,92.4 856.8,91.7 858.1,90.9 859.4,90.2 860.7,89.5 862.0,88.8 863.4,88.0 864.7,87.3 866.0,86.6 867.3,85.9 868.7,85.2 870.0,84.5 871.3,83.7 872.7,83.0 874.0,82.3 875.3,81.6 876.7,80.9 878.0,80.3 879.4,79.6 880.7,78.9 882.1,78.2 883.4,77.5 884.8,76.8 886.1,76.2 887.5,75.5 888.8,74.8 890.2,74.2 891.6,73.5 892.9,72.8 894.3,72.2 895.7,71.5 897.0,70.9 898.4,70.2 899.8,69.6 901.2,68.9 902.5,68.3 903.9,67.7 905.3,67.0 906.7,66.4 908.1,65.8 909.5,65.2 910.9,64.5 912.3,63.9 913.7,63.3 915.1,62.7 916.5,62.1 917.9,61.5 919.3,60.9 920.7,60.3 922.1,59.7" fill="none" stroke="#d8a332" stroke-width="2.3" stroke-dasharray="8.5 3.7" stroke-linecap="butt" stroke-linejoin="round"/>
<path d="M127.4,464.7 H457.8" stroke="#e08a3a" stroke-width="2.3" stroke-opacity="0.95" fill="none"/>
<rect x="96" y="15.7" width="320" height="182.3" rx="4" fill="#d3d3d3" fill-opacity="0.85"/>
<text x="199.07" y="36.80" font-size="19.61" fill="#000000" textLength="115.37" lengthAdjust="spacingAndGlyphs" stroke="#000000" stroke-width="0.22" >Pellet Speed</text>
<path d="M104.2,55.2 H141.5" stroke="#2f8ff0" stroke-width="2.3" stroke-dasharray="8.5 3.7" fill="none"/>
<text x="155.17" y="61.94" font-size="19.61" fill="#1414c8" textLength="92.83" lengthAdjust="spacingAndGlyphs" stroke="#1414c8" stroke-width="0.22" >0.02988 L</text>
<path d="M104.2,81.5 H141.5" stroke="#f020f0" stroke-width="2.3" stroke-dasharray="8.5 3.7" fill="none"/>
<text x="155.17" y="88.24" font-size="19.61" fill="#1414c8" textLength="69.29" lengthAdjust="spacingAndGlyphs" stroke="#1414c8" stroke-width="0.22" >0.054 L</text>
<path d="M104.2,108.0 H141.5" stroke="#107a10" stroke-width="2.3" stroke-dasharray="8.5 3.7" fill="none"/>
<text x="155.19" y="114.74" font-size="19.61" fill="#1414c8" textLength="254.10" lengthAdjust="spacingAndGlyphs" stroke="#1414c8" stroke-width="0.22" >0.0735 L (ORNL Test Stand)</text>
<path d="M104.2,134.0 H141.5" stroke="#f25020" stroke-width="2.3" stroke-dasharray="8.5 3.7" fill="none"/>
<text x="155.17" y="140.74" font-size="19.61" fill="#1414c8" textLength="81.06" lengthAdjust="spacingAndGlyphs" stroke="#1414c8" stroke-width="0.22" >0.0946 L</text>
<path d="M104.2,159.9 H141.5" stroke="#6e0c78" stroke-width="2.3" stroke-dasharray="8.5 3.7" fill="none"/>
<text x="155.19" y="166.64" font-size="19.61" fill="#1414c8" textLength="199.82" lengthAdjust="spacingAndGlyphs" stroke="#1414c8" stroke-width="0.22" >0.154 L (ITER Design)</text>
<path d="M104.2,185.8 H141.5" stroke="#d8a332" stroke-width="2.3" stroke-dasharray="8.5 3.7" fill="none"/>
<text x="155.17" y="192.54" font-size="19.61" fill="#1414c8" textLength="69.29" lengthAdjust="spacingAndGlyphs" stroke="#1414c8" stroke-width="0.22" >0.208 L</text>
<path d="M88.1,464.7 H962.4 M88.1,361.2 H962.4 M88.1,257.6 H962.4 M88.1,154.1 H962.4 M88.1,50.6 H962.4" stroke="#d01010" stroke-opacity="0.17" stroke-width="1.2" fill="none"/>
<path d="M127.4,464.7 128.3,463.5 129.1,462.2 130.0,461.0 130.9,459.8 131.8,458.5 132.6,457.3 133.5,456.1 134.3,454.8 135.2,453.6 136.0,452.3 136.9,451.1 137.7,449.8 138.5,448.6 139.4,447.3 140.2,446.0 141.0,444.8 141.8,443.5 142.7,442.2 143.5,441.0 144.3,439.7 145.1,438.4 145.9,437.2 146.7,435.9 147.5,434.6 148.3,433.3 149.0,432.0 149.8,430.8 150.6,429.5 151.4,428.2 152.1,426.9 152.9,425.6 153.7,424.3 154.4,423.0 155.2,421.7 155.9,420.4 156.7,419.1 157.4,417.8 158.2,416.5 158.9,415.2 159.6,413.9 160.4,412.5 161.1,411.2 161.8,409.9 162.5,408.6 163.2,407.3 163.9,405.9 164.6,404.6 165.3,403.3 166.0,402.0 166.7,400.6 167.4,399.3 168.1,398.0 168.8,396.6 169.5,395.3 170.1,393.9 170.8,392.6 171.5,391.3 172.1,389.9 172.8,388.6 173.5,387.2 174.1,385.9 174.8,384.5 175.4,383.2 176.0,381.8 176.7,380.4 177.3,379.1 177.9,377.7 178.6,376.4 179.2,375.0 179.8,373.6 180.4,372.3 181.0,370.9 181.6,369.5 182.2,368.1 182.8,366.8 183.4,365.4 184.0,364.0 184.6,362.6 185.2,361.2 185.8,359.9 186.3,358.5 186.9,357.1 187.5,355.7 188.0,354.3 188.6,352.9 189.2,351.5 189.7,350.1 190.3,348.7 190.8,347.4 191.4,346.0 191.9,344.6 192.4,343.2 193.0,341.8 193.5,340.3 194.0,338.9 194.5,337.5 195.0,336.1 195.6,334.7 196.1,333.3 196.6,331.9 197.1,330.5 197.6,329.1 198.1,327.7 198.6,326.2 199.0,324.8 199.5,323.4 200.0,322.0 200.5,320.6 200.9,319.1 201.4,317.7 201.9,316.3 202.3,314.9 202.8,313.4 203.2,312.0 203.7,310.6 204.1,309.1 204.6,307.7 205.0,306.3 205.5,304.8 205.9,303.4 206.3,302.0 206.7,300.5 207.2,299.1 207.6,297.6 208.0,296.2 208.4,294.7 208.8,293.3 209.2,291.9 209.6,290.4 210.0,289.0 210.4,287.5 210.8,286.1 211.1,284.6 211.5,283.2 211.9,281.7 212.3,280.3 212.6,278.8 213.0,277.3 213.4,275.9 213.7,274.4 214.1,273.0 214.4,271.5 214.8,270.1 215.1,268.6 215.4,267.1 215.8,265.7 216.1,264.2 216.4,262.7 216.8,261.3 217.1,259.8 217.4,258.3 217.7,256.9 218.0,255.4 218.3,253.9 218.6,252.5 218.9,251.0 219.2,249.5 219.5,248.0 219.8,246.6 220.1,245.1 220.4,243.6 220.6,242.1 220.9,240.7 221.2,239.2 221.4,237.7 221.7,236.2 222.0,234.7 222.2,233.3 222.5,231.8 222.7,230.3 223.0,228.8 223.2,227.3 223.4,225.9 223.7,224.4 223.9,222.9 224.1,221.4 224.4,219.9 224.6,218.4 224.8,216.9 225.0,215.5 225.2,214.0 225.5,212.5 225.7,211.0 225.9,209.5 226.1,208.0 226.3,206.5 226.5,205.0 226.7,203.6 226.9,202.1 227.1,200.6 227.3,199.1 227.6,197.6 227.8,196.1 228.0,194.6 228.2,193.1 228.4,191.7 228.6,190.2 228.8,188.7 229.0,187.2 229.2,185.7 229.4,184.2 229.6,182.7 229.8,181.2 230.0,179.7 230.2,178.3 230.4,176.8 230.6,175.3 230.8,173.8 231.0,172.3 231.2,170.8 231.5,169.3 231.7,167.8 231.9,166.4 232.1,164.9 232.3,163.4 232.5,161.9 232.8,160.4 233.0,158.9 233.2,157.5 233.5,156.0 233.7,154.5 233.9,153.0 234.2,151.5 234.4,150.1 234.7,148.6 234.9,147.1 235.2,145.6 235.4,144.1 235.7,142.7 236.0,141.2 236.2,139.7 236.5,138.2 236.8,136.8 237.1,135.3 237.4,133.8 237.6,132.3 237.9,130.9 238.2,129.4 238.5,127.9 238.9,126.4 239.2,125.0 239.5,123.5 239.8,122.0 240.1,120.5 240.5,119.0 240.8,117.6 241.2,116.1 241.5,114.6 241.9,113.1 242.3,111.6 242.6,110.2 243.0,108.7 243.4,107.2 243.8,105.7 244.2,104.2 244.6,102.7 245.0,101.2 245.4,99.7 245.8,98.2 246.3,96.8 246.7,95.3 247.2,93.8 247.6,92.3 248.1,90.8 248.6,89.3 249.1,87.8 249.5,86.3 250.0,84.7 250.5,83.2 251.1,81.7 251.6,80.2 252.1,78.7 252.7,77.2 253.2,75.7 253.8,74.1 254.3,72.6 254.9,71.1 255.5,69.6 256.1,68.0 256.7,66.5 257.3,64.9 257.9,63.4 258.6,61.9 259.2,60.3 259.9,58.8 260.5,57.2 261.2,55.7 261.9,54.2 262.6,52.6 263.3,51.1 264.0,49.7 264.8,48.2 265.5,46.8 266.3,45.4 267.1,44.0 267.9,42.6 268.7,41.3 269.5,40.1 270.3,38.8 271.1,37.7 272.0,36.5 272.9,35.5 273.8,34.4 274.7,33.5 275.6,32.6 276.5,31.8 277.5,31.0 278.4,30.3 279.4,29.7 280.4,29.1 281.4,28.7 282.5,28.3 283.5,28.0 284.6,27.8 285.7,27.7 286.8,27.7 287.9,27.8 289.1,27.9 290.2,28.2 291.4,28.5 292.5,28.8 293.7,29.3 294.9,29.8 296.1,30.4 297.3,31.0 298.4,31.7 299.6,32.5 300.8,33.3 302.0,34.1 303.2,35.0 304.4,36.0 305.6,36.9 306.8,38.0 307.9,39.0 309.1,40.1 310.3,41.2 311.4,42.4 312.5,43.5 313.6,44.7 314.7,45.9 315.8,47.2 316.9,48.4 317.9,49.7 318.9,50.9 319.9,52.2 320.9,53.5 321.9,54.8 322.9,56.1 323.8,57.4 324.8,58.7 325.7,60.0 326.6,61.3 327.5,62.7 328.4,64.0 329.2,65.4 330.1,66.7 330.9,68.1 331.8,69.5 332.6,70.8 333.4,72.2 334.2,73.6 335.0,75.0 335.8,76.4 336.6,77.8 337.4,79.2 338.1,80.6 338.9,82.0 339.7,83.4 340.4,84.8 341.2,86.2 341.9,87.6 342.6,89.0 343.4,90.4 344.1,91.8 344.8,93.2 345.6,94.6 346.3,96.0 347.0,97.3 347.8,98.7 348.5,100.1 349.2,101.5 349.9,102.9 350.7,104.2 351.4,105.6 352.1,107.0 352.9,108.3 353.6,109.7 354.4,111.0 355.1,112.3 355.9,113.7 356.6,115.0 357.4,116.3 358.2,117.6 359.0,118.9 359.7,120.2 360.5,121.4 361.3,122.7 362.1,124.0 362.9,125.2 363.7,126.5 364.5,127.7 365.4,129.0 366.2,130.2 367.0,131.4 367.8,132.7 368.7,133.9 369.5,135.1 370.4,136.3 371.2,137.5 372.1,138.7 372.9,139.9 373.8,141.1 374.7,142.3 375.6,143.5 376.4,144.6 377.3,145.8 378.2,147.0 379.1,148.1 380.0,149.3 380.9,150.5 381.8,151.6 382.7,152.8 383.6,154.0 384.5,155.1 385.4,156.3 386.3,157.4 387.2,158.6 388.2,159.7 389.1,160.9 390.0,162.0 391.0,163.2 391.9,164.3 392.8,165.5 393.8,166.6 394.7,167.7 395.7,168.9 396.6,170.0 397.6,171.2 398.6,172.3 399.5,173.5 400.5,174.6 401.5,175.7 402.4,176.9 403.4,178.0 404.4,179.1 405.4,180.3 406.4,181.4 407.3,182.5 408.3,183.6 409.3,184.8 410.3,185.9 411.3,187.0 412.3,188.1 413.4,189.2 414.4,190.3 415.4,191.5 416.4,192.6 417.4,193.7 418.5,194.8 419.5,195.9 420.5,197.0 421.6,198.1 422.6,199.1 423.7,200.2 424.7,201.3 425.8,202.4 426.8,203.5 427.9,204.5 428.9,205.6 430.0,206.7 431.1,207.8 432.1,208.8 433.2,209.9 434.3,210.9 435.4,212.0 436.5,213.0 437.6,214.1 438.7,215.1 439.8,216.1 440.9,217.2 442.0,218.2 443.1,219.2 444.2,220.2 445.3,221.2 446.5,222.3 447.6,223.3 448.7,224.3 449.8,225.3 451.0,226.2 452.1,227.2 453.3,228.2 454.4,229.2 455.6,230.2 456.7,231.1 457.9,232.1 459.1,233.0 460.2,234.0 461.4,234.9 462.6,235.9 463.8,236.8 465.0,237.7 466.1,238.7 467.3,239.6 468.5,240.5 469.7,241.4 470.9,242.3 472.2,243.2 473.4,244.1 474.6,245.0 475.8,245.8 477.0,246.7 478.3,247.6 479.5,248.4 480.7,249.3 482.0,250.1 483.2,251.0 484.5,251.8 485.7,252.7 487.0,253.5 488.2,254.3 489.5,255.1 490.8,255.9 492.0,256.7 493.3,257.5 494.6,258.3 495.8,259.1 497.1,259.9 498.4,260.7 499.7,261.5 501.0,262.2 502.3,263.0 503.6,263.8 504.9,264.5 506.2,265.3 507.5,266.0 508.8,266.8 510.1,267.5 511.4,268.2 512.7,269.0 514.1,269.7 515.4,270.4 516.7,271.1 518.0,271.8 519.4,272.5 520.7,273.2 522.0,273.9 523.4,274.6 524.7,275.3 526.1,276.0 527.4,276.7 528.7,277.4 530.1,278.0 531.5,278.7 532.8,279.3 534.2,280.0 535.5,280.7 536.9,281.3 538.2,282.0 539.6,282.6 541.0,283.2 542.3,283.9 543.7,284.5 545.1,285.1 546.5,285.7 547.8,286.4 549.2,287.0 550.6,287.6 552.0,288.2 553.4,288.8 554.8,289.4 556.1,290.0 557.5,290.6 558.9,291.2 560.3,291.8 561.7,292.3 563.1,292.9 564.5,293.5 565.9,294.1 567.3,294.6 568.7,295.2 570.1,295.8 571.5,296.3 572.9,296.9 574.3,297.4 575.7,298.0 577.1,298.5 578.5,299.1 579.9,299.6 581.4,300.1 582.8,300.7 584.2,301.2 585.6,301.7 587.0,302.3 588.4,302.8 589.8,303.3 591.2,303.8 592.7,304.3 594.1,304.8 595.5,305.3 596.9,305.8 598.3,306.4 599.8,306.9 601.2,307.3 602.6,307.8 604.0,308.3 605.4,308.8 606.9,309.3 608.3,309.8 609.7,310.3 611.1,310.8 612.5,311.2 614.0,311.7 615.4,312.2 616.8,312.7 618.2,313.1 619.7,313.6 621.1,314.1 622.5,314.5 623.9,315.0 625.4,315.4 626.8,315.9 628.2,316.4 629.6,316.8 631.0,317.3 632.5,317.7 633.9,318.2 635.3,318.6" fill="none" stroke="#2f8ff0" stroke-width="2.3" stroke-linecap="butt" stroke-linejoin="round"/>
<path d="M127.4,464.7 128.6,463.8 129.8,462.9 131.0,462.0 132.2,461.1 133.4,460.1 134.5,459.2 135.7,458.3 136.9,457.3 138.0,456.4 139.2,455.4 140.3,454.5 141.5,453.5 142.6,452.5 143.7,451.5 144.9,450.5 146.0,449.5 147.1,448.5 148.2,447.5 149.3,446.5 150.4,445.5 151.5,444.5 152.6,443.4 153.7,442.4 154.8,441.3 155.8,440.3 156.9,439.2 158.0,438.2 159.0,437.1 160.1,436.0 161.1,434.9 162.1,433.8 163.2,432.8 164.2,431.7 165.2,430.6 166.2,429.4 167.2,428.3 168.2,427.2 169.2,426.1 170.2,424.9 171.2,423.8 172.2,422.7 173.2,421.5 174.1,420.4 175.1,419.2 176.1,418.1 177.0,416.9 178.0,415.7 178.9,414.5 179.8,413.4 180.8,412.2 181.7,411.0 182.6,409.8 183.5,408.6 184.4,407.4 185.3,406.2 186.2,404.9 187.1,403.7 188.0,402.5 188.9,401.3 189.7,400.0 190.6,398.8 191.5,397.6 192.3,396.3 193.2,395.1 194.0,393.8 194.9,392.6 195.7,391.3 196.5,390.0 197.3,388.8 198.1,387.5 199.0,386.2 199.8,384.9 200.6,383.7 201.4,382.4 202.1,381.1 202.9,379.8 203.7,378.5 204.5,377.2 205.2,375.9 206.0,374.6 206.7,373.3 207.5,372.0 208.2,370.6 209.0,369.3 209.7,368.0 210.4,366.7 211.1,365.3 211.8,364.0 212.5,362.7 213.2,361.3 213.9,360.0 214.6,358.7 215.3,357.3 216.0,356.0 216.7,354.6 217.3,353.3 218.0,351.9 218.6,350.6 219.3,349.2 219.9,347.8 220.6,346.5 221.2,345.1 221.8,343.7 222.4,342.4 223.0,341.0 223.6,339.6 224.2,338.2 224.8,336.9 225.4,335.5 226.0,334.1 226.6,332.7 227.2,331.3 227.7,329.9 228.3,328.5 228.8,327.2 229.4,325.8 229.9,324.4 230.5,323.0 231.0,321.6 231.5,320.2 232.0,318.8 232.6,317.4 233.1,316.0 233.6,314.6 234.1,313.2 234.6,311.8 235.0,310.4 235.5,308.9 236.0,307.5 236.5,306.1 236.9,304.7 237.4,303.3 237.9,301.9 238.3,300.5 238.8,299.1 239.2,297.6 239.7,296.2 240.1,294.8 240.5,293.4 241.0,292.0 241.4,290.5 241.8,289.1 242.2,287.7 242.6,286.3 243.0,284.8 243.4,283.4 243.8,282.0 244.3,280.5 244.6,279.1 245.0,277.7 245.4,276.2 245.8,274.8 246.2,273.4 246.6,271.9 247.0,270.5 247.3,269.1 247.7,267.6 248.1,266.2 248.5,264.7 248.8,263.3 249.2,261.9 249.6,260.4 249.9,259.0 250.3,257.5 250.7,256.1 251.0,254.6 251.4,253.2 251.7,251.7 252.1,250.3 252.4,248.8 252.8,247.4 253.1,245.9 253.5,244.5 253.8,243.0 254.2,241.6 254.5,240.1 254.9,238.7 255.2,237.2 255.6,235.8 255.9,234.3 256.3,232.9 256.6,231.4 256.9,230.0 257.3,228.5 257.6,227.0 258.0,225.6 258.3,224.1 258.7,222.7 259.0,221.2 259.4,219.7 259.7,218.3 260.1,216.8 260.4,215.4 260.8,213.9 261.1,212.4 261.5,211.0 261.8,209.5 262.2,208.0 262.5,206.6 262.9,205.1 263.3,203.7 263.6,202.2 264.0,200.7 264.4,199.3 264.7,197.8 265.1,196.3 265.5,194.9 265.8,193.4 266.2,191.9 266.6,190.5 267.0,189.0 267.4,187.5 267.7,186.1 268.1,184.6 268.5,183.1 268.9,181.7 269.3,180.2 269.7,178.7 270.1,177.3 270.5,175.8 270.9,174.3 271.4,172.9 271.8,171.4 272.2,169.9 272.6,168.5 273.1,167.0 273.5,165.5 273.9,164.0 274.4,162.6 274.8,161.1 275.3,159.6 275.7,158.2 276.2,156.7 276.7,155.2 277.1,153.8 277.6,152.3 278.1,150.8 278.6,149.4 279.1,147.9 279.6,146.4 280.1,145.0 280.6,143.5 281.1,142.1 281.6,140.6 282.1,139.1 282.7,137.7 283.2,136.2 283.7,134.8 284.3,133.3 284.9,131.9 285.4,130.4 286.0,129.0 286.6,127.6 287.2,126.1 287.8,124.7 288.4,123.3 289.0,121.8 289.7,120.4 290.3,119.0 291.0,117.6 291.6,116.2 292.3,114.8 293.0,113.4 293.7,112.0 294.4,110.7 295.1,109.3 295.9,107.9 296.6,106.6 297.4,105.2 298.2,103.9 298.9,102.5 299.7,101.2 300.5,99.9 301.4,98.6 302.2,97.3 303.1,96.0 303.9,94.7 304.8,93.4 305.7,92.1 306.6,90.9 307.5,89.6 308.5,88.4 309.4,87.1 310.4,85.9 311.4,84.7 312.4,83.5 313.4,82.3 314.4,81.2 315.5,80.1 316.6,79.0 317.6,77.9 318.7,76.8 319.8,75.8 320.9,74.9 322.1,73.9 323.2,73.0 324.4,72.2 325.5,71.4 326.7,70.7 327.9,70.0 329.1,69.4 330.3,68.8 331.5,68.3 332.8,67.8 334.0,67.5 335.2,67.1 336.5,66.9 337.8,66.8 339.0,66.7 340.3,66.7 341.6,66.7 342.9,66.9 344.2,67.1 345.5,67.3 346.8,67.6 348.1,68.0 349.4,68.4 350.7,68.9 352.0,69.5 353.4,70.1 354.7,70.7 356.0,71.4 357.3,72.1 358.6,72.9 359.9,73.7 361.1,74.6 362.4,75.5 363.7,76.4 365.0,77.3 366.2,78.3 367.4,79.3 368.7,80.3 369.9,81.4 371.1,82.5 372.3,83.6 373.5,84.7 374.6,85.8 375.8,86.9 376.9,88.1 378.0,89.2 379.1,90.4 380.2,91.5 381.3,92.7 382.4,93.9 383.4,95.1 384.4,96.3 385.5,97.5 386.5,98.7 387.5,99.9 388.4,101.1 389.4,102.3 390.4,103.6 391.3,104.8 392.3,106.0 393.2,107.3 394.2,108.5 395.1,109.8 396.0,111.0 396.9,112.3 397.8,113.5 398.7,114.8 399.6,116.1 400.5,117.3 401.4,118.6 402.3,119.8 403.1,121.1 404.0,122.4 404.9,123.6 405.8,124.9 406.7,126.1 407.5,127.4 408.4,128.7 409.3,129.9 410.2,131.2 411.1,132.4 411.9,133.6 412.8,134.9 413.7,136.1 414.6,137.3 415.5,138.6 416.4,139.8 417.3,141.0 418.3,142.2 419.2,143.4 420.1,144.6 421.0,145.8 422.0,147.0 422.9,148.2 423.8,149.4 424.8,150.6 425.7,151.7 426.7,152.9 427.7,154.1 428.6,155.3 429.6,156.4 430.5,157.6 431.5,158.7 432.5,159.9 433.5,161.0 434.5,162.1 435.5,163.3 436.5,164.4 437.5,165.5 438.5,166.6 439.5,167.8 440.5,168.9 441.5,170.0 442.5,171.1 443.5,172.2 444.6,173.3 445.6,174.4 446.6,175.4 447.6,176.5 448.7,177.6 449.7,178.7 450.8,179.7 451.8,180.8 452.9,181.9 453.9,182.9 455.0,184.0 456.1,185.0 457.1,186.1 458.2,187.1 459.3,188.2 460.4,189.2 461.5,190.2 462.5,191.3 463.6,192.3 464.7,193.3 465.8,194.3 466.9,195.3 468.0,196.3 469.1,197.3 470.2,198.3 471.3,199.3 472.5,200.3 473.6,201.3 474.7,202.3 475.8,203.3 477.0,204.3 478.1,205.2 479.2,206.2 480.4,207.2 481.5,208.1 482.6,209.1 483.8,210.1 484.9,211.0 486.1,212.0 487.2,212.9 488.4,213.8 489.6,214.8 490.7,215.7 491.9,216.7 493.1,217.6 494.2,218.5 495.4,219.4 496.6,220.3 497.8,221.3 498.9,222.2 500.1,223.1 501.3,224.0 502.5,224.9 503.7,225.8 504.9,226.7 506.1,227.6 507.3,228.5 508.5,229.4 509.7,230.2 510.9,231.1 512.1,232.0 513.3,232.9 514.6,233.7 515.8,234.6 517.0,235.5 518.2,236.3 519.4,237.2 520.7,238.0 521.9,238.9 523.1,239.7 524.4,240.6 525.6,241.4 526.8,242.3 528.1,243.1 529.3,243.9 530.6,244.8 531.8,245.6 533.1,246.4 534.3,247.2 535.6,248.1 536.8,248.9 538.1,249.7 539.3,250.5 540.6,251.3 541.9,252.1 543.1,252.9 544.4,253.7 545.7,254.5 546.9,255.3 548.2,256.0 549.5,256.8 550.8,257.6 552.1,258.4 553.3,259.2 554.6,259.9 555.9,260.7 557.2,261.4 558.5,262.2 559.8,263.0 561.1,263.7 562.4,264.5 563.7,265.2 565.0,266.0 566.3,266.7 567.6,267.4 568.9,268.2 570.2,268.9 571.5,269.6 572.9,270.3 574.2,271.1 575.5,271.8 576.8,272.5 578.1,273.2 579.5,273.9 580.8,274.6 582.1,275.3 583.4,276.0 584.8,276.7 586.1,277.4 587.4,278.1 588.8,278.8 590.1,279.4 591.5,280.1 592.8,280.8 594.1,281.5 595.5,282.1 596.8,282.8 598.2,283.5 599.5,284.1 600.9,284.8 602.3,285.4 603.6,286.1 605.0,286.7 606.3,287.3 607.7,288.0 609.1,288.6 610.4,289.3 611.8,289.9 613.2,290.5 614.5,291.1 615.9,291.7 617.3,292.4 618.6,293.0 620.0,293.6 621.4,294.2 622.8,294.8 624.2,295.4 625.5,296.0 626.9,296.6 628.3,297.1 629.7,297.7 631.1,298.3 632.5,298.9 633.9,299.5 635.3,300.0 636.7,300.6 638.1,301.2 639.5,301.7 640.9,302.3 642.3,302.8 643.7,303.4 645.1,303.9 646.5,304.5 647.9,305.0 649.3,305.5 650.7,306.1 652.1,306.6 653.5,307.1 654.9,307.7 656.4,308.2 657.8,308.7 659.2,309.2 660.6,309.7 662.0,310.2 663.5,310.7 664.9,311.2 666.3,311.7 667.7,312.2 669.2,312.7 670.6,313.2 672.0,313.7 673.4,314.1 674.9,314.6 676.3,315.1 677.7,315.6 679.2,316.0 680.6,316.5 682.1,316.9 683.5,317.4" fill="none" stroke="#f020f0" stroke-width="2.3" stroke-linecap="butt" stroke-linejoin="round"/>
<path d="M127.4,464.7 128.7,464.0 130.1,463.3 131.4,462.6 132.8,461.9 134.1,461.2 135.4,460.4 136.7,459.7 138.0,459.0 139.3,458.2 140.6,457.4 141.9,456.7 143.2,455.9 144.5,455.1 145.8,454.3 147.0,453.5 148.3,452.7 149.6,451.9 150.8,451.0 152.1,450.2 153.3,449.4 154.5,448.5 155.7,447.6 157.0,446.8 158.2,445.9 159.4,445.0 160.6,444.1 161.8,443.2 162.9,442.3 164.1,441.4 165.3,440.5 166.5,439.5 167.6,438.6 168.8,437.6 169.9,436.7 171.1,435.7 172.2,434.8 173.3,433.8 174.5,432.8 175.6,431.8 176.7,430.8 177.8,429.8 178.9,428.8 180.0,427.8 181.1,426.8 182.1,425.8 183.2,424.7 184.3,423.7 185.4,422.6 186.4,421.6 187.5,420.5 188.5,419.4 189.5,418.4 190.6,417.3 191.6,416.2 192.6,415.1 193.6,414.0 194.6,412.9 195.6,411.8 196.6,410.7 197.6,409.6 198.6,408.4 199.6,407.3 200.5,406.2 201.5,405.0 202.4,403.9 203.4,402.7 204.3,401.5 205.3,400.4 206.2,399.2 207.1,398.0 208.1,396.8 209.0,395.7 209.9,394.5 210.8,393.3 211.7,392.1 212.6,390.9 213.4,389.6 214.3,388.4 215.2,387.2 216.1,386.0 216.9,384.7 217.8,383.5 218.6,382.3 219.4,381.0 220.3,379.8 221.1,378.5 221.9,377.3 222.7,376.0 223.6,374.7 224.4,373.5 225.2,372.2 225.9,370.9 226.7,369.6 227.5,368.3 228.3,367.0 229.1,365.7 229.8,364.4 230.6,363.1 231.3,361.8 232.1,360.5 232.8,359.2 233.5,357.9 234.3,356.6 235.0,355.3 235.7,353.9 236.4,352.6 237.1,351.3 237.8,349.9 238.5,348.6 239.2,347.2 239.8,345.9 240.5,344.6 241.2,343.2 241.8,341.8 242.5,340.5 243.1,339.1 243.8,337.8 244.4,336.4 245.0,335.0 245.6,333.7 246.3,332.3 246.9,330.9 247.5,329.5 248.1,328.2 248.7,326.8 249.3,325.4 249.8,324.0 250.4,322.6 251.0,321.2 251.5,319.8 252.1,318.4 252.6,317.0 253.2,315.6 253.7,314.2 254.3,312.8 254.8,311.4 255.3,310.0 255.8,308.6 256.3,307.2 256.8,305.8 257.3,304.4 257.8,303.0 258.3,301.6 258.8,300.2 259.3,298.8 259.8,297.3 260.2,295.9 260.7,294.5 261.2,293.1 261.6,291.7 262.1,290.2 262.5,288.8 263.0,287.4 263.4,286.0 263.9,284.5 264.3,283.1 264.7,281.7 265.2,280.2 265.6,278.8 266.0,277.4 266.4,275.9 266.9,274.5 267.3,273.1 267.7,271.6 268.1,270.2 268.5,268.8 268.9,267.3 269.3,265.9 269.7,264.4 270.1,263.0 270.5,261.6 270.9,260.1 271.3,258.7 271.7,257.2 272.1,255.8 272.5,254.4 272.9,252.9 273.3,251.5 273.7,250.0 274.1,248.6 274.5,247.1 274.9,245.7 275.3,244.2 275.7,242.8 276.1,241.3 276.5,239.9 276.9,238.5 277.3,237.0 277.7,235.6 278.1,234.1 278.5,232.7 278.9,231.2 279.3,229.8 279.8,228.3 280.2,226.9 280.6,225.4 281.0,224.0 281.4,222.5 281.8,221.1 282.2,219.7 282.7,218.2 283.1,216.8 283.5,215.3 284.0,213.9 284.4,212.4 284.8,211.0 285.3,209.6 285.7,208.1 286.2,206.7 286.6,205.2 287.1,203.8 287.5,202.3 288.0,200.9 288.5,199.5 289.0,198.0 289.4,196.6 289.9,195.2 290.4,193.7 290.9,192.3 291.4,190.9 291.9,189.4 292.4,188.0 292.9,186.6 293.4,185.1 294.0,183.7 294.5,182.3 295.0,180.8 295.6,179.4 296.1,178.0 296.7,176.6 297.2,175.1 297.8,173.7 298.4,172.3 299.0,170.9 299.6,169.5 300.2,168.1 300.8,166.6 301.4,165.2 302.0,163.8 302.6,162.4 303.3,161.0 303.9,159.6 304.5,158.2 305.2,156.8 305.9,155.4 306.5,154.0 307.2,152.6 307.9,151.2 308.6,149.8 309.3,148.4 310.1,147.1 310.8,145.7 311.5,144.3 312.3,143.0 313.1,141.6 313.8,140.3 314.6,138.9 315.4,137.6 316.2,136.3 317.0,135.0 317.9,133.7 318.7,132.4 319.6,131.1 320.4,129.8 321.3,128.5 322.2,127.3 323.1,126.1 324.1,124.8 325.0,123.6 325.9,122.4 326.9,121.2 327.9,120.0 328.9,118.9 329.9,117.7 330.9,116.6 331.9,115.5 333.0,114.4 334.1,113.3 335.1,112.2 336.2,111.1 337.4,110.1 338.5,109.1 339.6,108.1 340.8,107.1 342.0,106.1 343.2,105.2 344.4,104.3 345.6,103.4 346.9,102.5 348.1,101.6 349.4,100.8 350.7,100.0 352.0,99.3 353.3,98.6 354.6,97.9 355.9,97.3 357.2,96.7 358.5,96.2 359.9,95.7 361.2,95.3 362.5,94.9 363.9,94.6 365.2,94.4 366.5,94.2 367.9,94.1 369.2,94.0 370.5,94.0 371.9,94.1 373.2,94.2 374.5,94.4 375.8,94.7 377.1,95.0 378.4,95.4 379.7,95.8 381.0,96.3 382.3,96.8 383.6,97.3 384.9,97.9 386.2,98.6 387.5,99.3 388.8,100.0 390.0,100.7 391.3,101.5 392.6,102.4 393.9,103.2 395.1,104.1 396.4,105.0 397.6,106.0 398.9,106.9 400.1,107.9 401.4,108.9 402.6,109.9 403.8,110.9 405.1,112.0 406.3,113.0 407.5,114.1 408.7,115.1 409.9,116.2 411.2,117.3 412.4,118.3 413.6,119.4 414.8,120.5 415.9,121.6 417.1,122.6 418.3,123.7 419.5,124.7 420.7,125.8 421.8,126.8 423.0,127.8 424.2,128.9 425.3,129.9 426.5,130.9 427.6,131.9 428.8,133.0 429.9,134.0 431.1,135.0 432.2,136.0 433.3,137.0 434.5,138.0 435.6,139.0 436.7,140.0 437.9,141.0 439.0,142.0 440.1,142.9 441.2,143.9 442.4,144.9 443.5,145.9 444.6,146.9 445.7,147.9 446.8,148.8 448.0,149.8 449.1,150.8 450.2,151.8 451.3,152.8 452.4,153.7 453.5,154.7 454.6,155.7 455.7,156.7 456.8,157.6 458.0,158.6 459.1,159.6 460.2,160.6 461.3,161.5 462.4,162.5 463.5,163.5 464.6,164.5 465.7,165.5 466.9,166.5 468.0,167.4 469.1,168.4 470.2,169.4 471.3,170.4 472.5,171.4 473.6,172.4 474.7,173.4 475.8,174.4 476.9,175.4 478.1,176.3 479.2,177.3 480.3,178.3 481.5,179.3 482.6,180.3 483.7,181.3 484.8,182.3 486.0,183.3 487.1,184.3 488.3,185.3 489.4,186.2 490.5,187.2 491.7,188.2 492.8,189.2 494.0,190.2 495.1,191.2 496.2,192.2 497.4,193.1 498.5,194.1 499.7,195.1 500.8,196.1 502.0,197.0 503.2,198.0 504.3,199.0 505.5,200.0 506.6,200.9 507.8,201.9 509.0,202.9 510.1,203.8 511.3,204.8 512.5,205.7 513.6,206.7 514.8,207.6 516.0,208.6 517.2,209.5 518.4,210.5 519.5,211.4 520.7,212.3 521.9,213.3 523.1,214.2 524.3,215.1 525.5,216.1 526.7,217.0 527.9,217.9 529.1,218.8 530.3,219.7 531.5,220.6 532.7,221.5 533.9,222.4 535.1,223.3 536.3,224.2 537.5,225.1 538.7,226.0 540.0,226.9 541.2,227.7 542.4,228.6 543.6,229.5 544.9,230.3 546.1,231.2 547.3,232.0 548.6,232.9 549.8,233.7 551.0,234.6 552.3,235.4 553.5,236.2 554.8,237.1 556.0,237.9 557.3,238.7 558.5,239.5 559.8,240.4 561.0,241.2 562.3,242.0 563.6,242.8 564.8,243.6 566.1,244.4 567.4,245.2 568.6,246.0 569.9,246.8 571.2,247.5 572.5,248.3 573.7,249.1 575.0,249.9 576.3,250.6 577.6,251.4 578.9,252.2 580.1,252.9 581.4,253.7 582.7,254.5 584.0,255.2 585.3,256.0 586.6,256.7 587.9,257.4 589.2,258.2 590.5,258.9 591.8,259.7 593.1,260.4 594.4,261.1 595.7,261.8 597.0,262.6 598.4,263.3 599.7,264.0 601.0,264.7 602.3,265.4 603.6,266.1 604.9,266.8 606.3,267.5 607.6,268.2 608.9,268.9 610.2,269.6 611.6,270.3 612.9,271.0 614.2,271.7 615.5,272.4 616.9,273.1 618.2,273.8 619.5,274.4 620.9,275.1 622.2,275.8 623.6,276.5 624.9,277.1 626.2,277.8 627.6,278.5 628.9,279.1 630.3,279.8 631.6,280.4 633.0,281.1 634.3,281.7 635.7,282.4 637.0,283.0 638.4,283.7 639.7,284.3 641.1,285.0 642.4,285.6 643.8,286.3 645.2,286.9 646.5,287.5 647.9,288.2 649.2,288.8 650.6,289.4 652.0,290.1 653.3,290.7 654.7,291.3 656.1,291.9 657.4,292.6 658.8,293.2 660.2,293.8 661.6,294.4 662.9,295.0 664.3,295.7 665.7,296.3 667.1,296.9 668.4,297.5 669.8,298.1 671.2,298.7 672.6,299.3 673.9,299.9 675.3,300.5 676.7,301.1 678.1,301.7 679.5,302.3 680.8,302.9 682.2,303.5 683.6,304.1 685.0,304.7 686.4,305.3 687.8,305.9 689.2,306.5 690.5,307.1 691.9,307.7 693.3,308.3 694.7,308.9 696.1,309.4 697.5,310.0 698.9,310.6 700.3,311.2 701.7,311.8 703.1,312.4 704.4,313.0 705.8,313.5 707.2,314.1 708.6,314.7 710.0,315.3 711.4,315.9 712.8,316.4 714.2,317.0 715.6,317.6" fill="none" stroke="#107a10" stroke-width="2.3" stroke-linecap="butt" stroke-linejoin="round"/>
<path d="M127.4,464.7 128.8,464.1 130.2,463.5 131.6,462.9 132.9,462.2 134.3,461.6 135.7,461.0 137.0,460.3 138.4,459.7 139.8,459.0 141.1,458.4 142.5,457.7 143.8,457.0 145.1,456.3 146.5,455.6 147.8,454.9 149.1,454.2 150.5,453.5 151.8,452.7 153.1,452.0 154.4,451.3 155.7,450.5 157.0,449.8 158.3,449.0 159.5,448.2 160.8,447.5 162.1,446.7 163.4,445.9 164.6,445.1 165.9,444.3 167.1,443.5 168.4,442.6 169.6,441.8 170.9,441.0 172.1,440.1 173.3,439.3 174.5,438.4 175.8,437.6 177.0,436.7 178.2,435.8 179.4,434.9 180.6,434.0 181.8,433.2 182.9,432.2 184.1,431.3 185.3,430.4 186.5,429.5 187.6,428.6 188.8,427.6 189.9,426.7 191.1,425.7 192.2,424.8 193.4,423.8 194.5,422.9 195.6,421.9 196.7,420.9 197.8,419.9 199.0,418.9 200.1,417.9 201.2,416.9 202.2,415.9 203.3,414.9 204.4,413.9 205.5,412.8 206.5,411.8 207.6,410.8 208.7,409.7 209.7,408.7 210.8,407.6 211.8,406.5 212.8,405.5 213.8,404.4 214.9,403.3 215.9,402.2 216.9,401.1 217.9,400.0 218.9,398.9 219.9,397.8 220.9,396.7 221.8,395.6 222.8,394.5 223.8,393.3 224.7,392.2 225.7,391.0 226.6,389.9 227.6,388.7 228.5,387.6 229.4,386.4 230.4,385.2 231.3,384.1 232.2,382.9 233.1,381.7 234.0,380.5 234.9,379.3 235.8,378.1 236.7,376.9 237.5,375.7 238.4,374.5 239.3,373.3 240.1,372.0 241.0,370.8 241.8,369.6 242.6,368.3 243.5,367.1 244.3,365.8 245.1,364.6 245.9,363.3 246.7,362.0 247.5,360.8 248.3,359.5 249.1,358.2 249.8,356.9 250.6,355.7 251.4,354.4 252.1,353.1 252.9,351.8 253.6,350.5 254.4,349.2 255.1,347.8 255.8,346.5 256.5,345.2 257.2,343.9 257.9,342.5 258.6,341.2 259.3,339.9 260.0,338.5 260.7,337.2 261.4,335.8 262.0,334.5 262.7,333.1 263.4,331.8 264.0,330.4 264.7,329.0 265.3,327.7 266.0,326.3 266.6,324.9 267.2,323.5 267.8,322.2 268.5,320.8 269.1,319.4 269.7,318.0 270.3,316.6 270.9,315.2 271.5,313.8 272.1,312.4 272.7,311.0 273.3,309.6 273.9,308.2 274.5,306.8 275.0,305.4 275.6,304.0 276.2,302.6 276.8,301.2 277.3,299.8 277.9,298.4 278.5,296.9 279.0,295.5 279.6,294.1 280.1,292.7 280.7,291.3 281.2,289.8 281.8,288.4 282.3,287.0 282.9,285.6 283.4,284.1 284.0,282.7 284.5,281.3 285.0,279.9 285.6,278.4 286.1,277.0 286.6,275.6 287.2,274.2 287.7,272.7 288.2,271.3 288.8,269.9 289.3,268.4 289.8,267.0 290.3,265.6 290.9,264.2 291.4,262.7 291.9,261.3 292.5,259.9 293.0,258.4 293.5,257.0 294.0,255.6 294.6,254.2 295.1,252.8 295.6,251.3 296.1,249.9 296.7,248.5 297.2,247.1 297.7,245.7 298.3,244.2 298.8,242.8 299.3,241.4 299.9,240.0 300.4,238.6 300.9,237.2 301.5,235.8 302.0,234.4 302.5,233.0 303.1,231.6 303.6,230.2 304.2,228.8 304.7,227.4 305.3,226.0 305.8,224.6 306.4,223.2 307.0,221.9 307.5,220.5 308.1,219.1 308.7,217.7 309.2,216.4 309.8,215.0 310.4,213.6 310.9,212.3 311.5,210.9 312.1,209.5 312.7,208.2 313.3,206.8 313.9,205.5 314.5,204.2 315.1,202.8 315.7,201.5 316.3,200.2 316.9,198.8 317.6,197.5 318.2,196.2 318.8,194.9 319.5,193.5 320.1,192.2 320.8,190.9 321.4,189.6 322.1,188.3 322.8,187.0 323.4,185.7 324.1,184.4 324.8,183.1 325.5,181.8 326.2,180.5 327.0,179.2 327.7,178.0 328.4,176.7 329.2,175.4 329.9,174.1 330.7,172.8 331.5,171.6 332.2,170.3 333.0,169.0 333.8,167.7 334.7,166.5 335.5,165.2 336.3,163.9 337.2,162.7 338.0,161.4 338.9,160.1 339.8,158.9 340.7,157.6 341.6,156.4 342.5,155.1 343.4,153.8 344.4,152.6 345.4,151.3 346.3,150.1 347.3,148.8 348.3,147.5 349.3,146.3 350.4,145.0 351.4,143.8 352.5,142.5 353.6,141.3 354.7,140.0 355.8,138.7 356.9,137.5 358.0,136.2 359.2,135.0 360.4,133.8 361.5,132.5 362.7,131.3 363.9,130.1 365.2,129.0 366.4,127.8 367.6,126.7 368.9,125.6 370.1,124.6 371.4,123.6 372.7,122.6 374.0,121.7 375.3,120.8 376.6,120.0 377.9,119.2 379.2,118.5 380.5,117.9 381.8,117.3 383.1,116.7 384.4,116.3 385.7,115.8 387.1,115.4 388.4,115.1 389.7,114.8 391.1,114.6 392.4,114.4 393.7,114.3 395.1,114.2 396.4,114.1 397.8,114.1 399.1,114.1 400.5,114.2 401.8,114.3 403.2,114.5 404.5,114.7 405.9,114.9 407.3,115.1 408.6,115.4 410.0,115.8 411.3,116.1 412.7,116.5 414.1,117.0 415.4,117.4 416.8,117.9 418.1,118.4 419.5,119.0 420.9,119.6 422.2,120.2 423.6,120.8 424.9,121.4 426.3,122.1 427.6,122.8 429.0,123.5 430.3,124.2 431.7,124.9 433.0,125.7 434.4,126.5 435.7,127.3 437.0,128.1 438.4,128.9 439.7,129.7 441.0,130.6 442.4,131.4 443.7,132.3 445.0,133.1 446.3,134.0 447.6,134.9 448.9,135.8 450.2,136.7 451.5,137.6 452.8,138.5 454.1,139.4 455.4,140.3 456.6,141.2 457.9,142.1 459.2,143.0 460.4,143.9 461.7,144.8 463.0,145.7 464.2,146.6 465.5,147.5 466.7,148.5 467.9,149.4 469.2,150.3 470.4,151.2 471.6,152.1 472.9,153.1 474.1,154.0 475.3,154.9 476.5,155.8 477.7,156.8 479.0,157.7 480.2,158.6 481.4,159.6 482.6,160.5 483.8,161.4 485.0,162.4 486.2,163.3 487.4,164.2 488.6,165.2 489.8,166.1 490.9,167.0 492.1,168.0 493.3,168.9 494.5,169.8 495.7,170.8 496.9,171.7 498.0,172.7 499.2,173.6 500.4,174.5 501.6,175.5 502.7,176.4 503.9,177.3 505.1,178.3 506.3,179.2 507.4,180.1 508.6,181.1 509.8,182.0 511.0,182.9 512.1,183.9 513.3,184.8 514.5,185.7 515.6,186.7 516.8,187.6 518.0,188.5 519.1,189.4 520.3,190.4 521.5,191.3 522.7,192.2 523.8,193.1 525.0,194.0 526.2,195.0 527.4,195.9 528.5,196.8 529.7,197.7 530.9,198.6 532.1,199.5 533.3,200.4 534.4,201.3 535.6,202.2 536.8,203.1 538.0,204.0 539.2,204.9 540.4,205.8 541.6,206.7 542.8,207.6 544.0,208.5 545.2,209.3 546.4,210.2 547.6,211.1 548.8,212.0 550.0,212.8 551.2,213.7 552.4,214.6 553.6,215.4 554.8,216.3 556.1,217.2 557.3,218.0 558.5,218.9 559.7,219.7 561.0,220.6 562.2,221.4 563.4,222.2 564.7,223.1 565.9,223.9 567.2,224.8 568.4,225.6 569.7,226.4 570.9,227.2 572.2,228.1 573.4,228.9 574.7,229.7 575.9,230.5 577.2,231.3 578.5,232.1 579.7,232.9 581.0,233.7 582.3,234.5 583.5,235.3 584.8,236.1 586.1,236.9 587.4,237.7 588.6,238.5 589.9,239.3 591.2,240.1 592.5,240.9 593.8,241.7 595.1,242.4 596.3,243.2 597.6,244.0 598.9,244.8 600.2,245.5 601.5,246.3 602.8,247.1 604.1,247.8 605.4,248.6 606.7,249.3 608.0,250.1 609.3,250.8 610.6,251.6 612.0,252.3 613.3,253.1 614.6,253.8 615.9,254.6 617.2,255.3 618.5,256.1 619.8,256.8 621.2,257.5 622.5,258.3 623.8,259.0 625.1,259.7 626.5,260.4 627.8,261.2 629.1,261.9 630.4,262.6 631.8,263.3 633.1,264.0 634.4,264.8 635.8,265.5 637.1,266.2 638.4,266.9 639.8,267.6 641.1,268.3 642.5,269.0 643.8,269.7 645.1,270.4 646.5,271.1 647.8,271.8 649.2,272.5 650.5,273.2 651.8,273.9 653.2,274.6 654.5,275.2 655.9,275.9 657.2,276.6 658.6,277.3 659.9,278.0 661.3,278.6 662.6,279.3 664.0,280.0 665.3,280.7 666.7,281.3 668.0,282.0 669.4,282.7 670.8,283.3 672.1,284.0 673.5,284.7 674.8,285.3 676.2,286.0 677.5,286.7 678.9,287.3 680.3,288.0 681.6,288.6 683.0,289.3 684.3,289.9 685.7,290.6 687.1,291.2 688.4,291.9 689.8,292.5 691.1,293.2 692.5,293.8 693.9,294.5 695.2,295.1 696.6,295.7 697.9,296.4 699.3,297.0 700.7,297.6 702.0,298.3 703.4,298.9 704.7,299.5 706.1,300.2 707.5,300.8 708.8,301.4 710.2,302.1 711.6,302.7 712.9,303.3 714.3,303.9 715.6,304.6 717.0,305.2 718.4,305.8 719.7,306.4 721.1,307.0 722.4,307.7 723.8,308.3 725.2,308.9 726.5,309.5 727.9,310.1 729.2,310.7 730.6,311.3 732.0,311.9 733.3,312.6 734.7,313.2 736.0,313.8 737.4,314.4 738.7,315.0 740.1,315.6 741.4,316.2 742.8,316.8 744.1,317.4 745.5,318.0" fill="none" stroke="#f25020" stroke-width="2.3" stroke-linecap="butt" stroke-linejoin="round"/>
<path d="M127.4,464.7 128.8,464.3 130.3,463.9 131.7,463.5 133.2,463.1 134.6,462.7 136.0,462.3 137.5,461.8 138.9,461.4 140.4,461.0 141.8,460.6 143.3,460.1 144.7,459.7 146.2,459.2 147.6,458.8 149.0,458.3 150.5,457.9 151.9,457.4 153.3,456.9 154.8,456.5 156.2,456.0 157.6,455.5 159.1,455.0 160.5,454.5 161.9,454.0 163.3,453.5 164.7,452.9 166.1,452.4 167.5,451.8 168.9,451.3 170.3,450.7 171.7,450.2 173.1,449.6 174.5,449.0 175.9,448.4 177.3,447.8 178.6,447.2 180.0,446.6 181.3,445.9 182.7,445.3 184.0,444.6 185.4,444.0 186.7,443.3 188.0,442.6 189.3,441.9 190.6,441.2 191.9,440.5 193.2,439.7 194.5,439.0 195.8,438.2 197.1,437.5 198.3,436.7 199.6,435.9 200.8,435.1 202.1,434.3 203.3,433.5 204.6,432.6 205.8,431.8 207.0,430.9 208.2,430.1 209.4,429.2 210.6,428.3 211.8,427.4 213.0,426.6 214.2,425.6 215.3,424.7 216.5,423.8 217.7,422.9 218.8,421.9 220.0,421.0 221.1,420.0 222.3,419.1 223.4,418.1 224.5,417.1 225.6,416.1 226.8,415.1 227.9,414.1 229.0,413.1 230.1,412.1 231.2,411.0 232.3,410.0 233.3,409.0 234.4,407.9 235.5,406.9 236.6,405.8 237.6,404.7 238.7,403.7 239.7,402.6 240.8,401.5 241.8,400.4 242.9,399.3 243.9,398.2 244.9,397.1 246.0,396.0 247.0,394.9 248.0,393.7 249.0,392.6 250.0,391.5 251.1,390.3 252.1,389.2 253.1,388.1 254.0,386.9 255.0,385.7 256.0,384.6 257.0,383.4 258.0,382.3 259.0,381.1 259.9,379.9 260.9,378.7 261.9,377.6 262.8,376.4 263.8,375.2 264.8,374.0 265.7,372.8 266.7,371.6 267.6,370.4 268.6,369.2 269.5,368.0 270.4,366.8 271.4,365.6 272.3,364.4 273.2,363.2 274.2,362.0 275.1,360.8 276.0,359.5 276.9,358.3 277.9,357.1 278.8,355.9 279.7,354.7 280.6,353.5 281.5,352.2 282.4,351.0 283.3,349.8 284.2,348.6 285.1,347.4 286.0,346.2 286.9,344.9 287.8,343.7 288.7,342.5 289.6,341.3 290.5,340.1 291.4,338.9 292.3,337.6 293.2,336.4 294.1,335.2 295.0,334.0 295.9,332.8 296.8,331.6 297.6,330.4 298.5,329.2 299.4,328.0 300.3,326.7 301.2,325.5 302.0,324.3 302.9,323.1 303.8,321.9 304.7,320.7 305.6,319.5 306.4,318.3 307.3,317.1 308.2,315.9 309.1,314.7 309.9,313.5 310.8,312.3 311.7,311.1 312.6,309.9 313.4,308.7 314.3,307.5 315.2,306.3 316.1,305.1 316.9,303.9 317.8,302.7 318.7,301.5 319.6,300.3 320.4,299.1 321.3,297.9 322.2,296.7 323.1,295.5 323.9,294.3 324.8,293.1 325.7,291.9 326.6,290.8 327.4,289.6 328.3,288.4 329.2,287.2 330.1,286.0 331.0,284.8 331.8,283.6 332.7,282.4 333.6,281.2 334.5,280.0 335.4,278.8 336.3,277.7 337.1,276.5 338.0,275.3 338.9,274.1 339.8,272.9 340.7,271.7 341.6,270.5 342.5,269.3 343.4,268.1 344.3,267.0 345.2,265.8 346.1,264.6 347.0,263.4 347.9,262.2 348.8,261.0 349.7,259.8 350.6,258.6 351.5,257.5 352.4,256.3 353.3,255.1 354.2,253.9 355.1,252.7 356.1,251.5 357.0,250.3 357.9,249.2 358.8,248.0 359.8,246.8 360.7,245.6 361.6,244.4 362.6,243.2 363.5,242.0 364.4,240.9 365.4,239.7 366.3,238.5 367.3,237.3 368.2,236.1 369.2,234.9 370.1,233.8 371.1,232.6 372.0,231.4 373.0,230.2 374.0,229.0 374.9,227.8 375.9,226.6 376.9,225.5 377.8,224.3 378.8,223.1 379.8,221.9 380.8,220.7 381.8,219.5 382.8,218.3 383.8,217.2 384.8,216.0 385.8,214.8 386.8,213.6 387.8,212.4 388.8,211.2 389.8,210.0 390.8,208.9 391.9,207.7 392.9,206.5 393.9,205.3 395.0,204.1 396.0,202.9 397.0,201.8 398.1,200.6 399.1,199.4 400.2,198.3 401.3,197.1 402.3,195.9 403.4,194.8 404.5,193.6 405.6,192.5 406.7,191.4 407.7,190.3 408.8,189.1 409.9,188.0 411.1,186.9 412.2,185.9 413.3,184.8 414.4,183.7 415.6,182.7 416.7,181.6 417.8,180.6 419.0,179.6 420.2,178.5 421.3,177.6 422.5,176.6 423.7,175.6 424.9,174.6 426.1,173.7 427.3,172.8 428.5,171.9 429.7,171.0 430.9,170.1 432.1,169.3 433.4,168.4 434.6,167.6 435.9,166.8 437.1,166.0 438.4,165.3 439.7,164.5 441.0,163.8 442.3,163.1 443.6,162.4 444.9,161.7 446.2,161.1 447.5,160.5 448.8,159.9 450.2,159.3 451.5,158.8 452.9,158.2 454.2,157.7 455.6,157.2 456.9,156.8 458.3,156.3 459.7,155.9 461.1,155.5 462.4,155.1 463.8,154.8 465.2,154.5 466.6,154.2 467.9,153.9 469.3,153.6 470.7,153.4 472.1,153.1 473.5,152.9 474.9,152.8 476.2,152.6 477.6,152.5 479.0,152.4 480.4,152.3 481.8,152.2 483.2,152.1 484.6,152.1 486.0,152.1 487.4,152.1 488.8,152.1 490.2,152.1 491.6,152.2 493.0,152.3 494.4,152.4 495.8,152.5 497.2,152.6 498.6,152.8 500.0,152.9 501.4,153.1 502.8,153.3 504.2,153.5 505.6,153.8 507.0,154.0 508.4,154.3 509.8,154.6 511.2,154.9 512.6,155.2 514.0,155.5 515.4,155.9 516.8,156.2 518.2,156.6 519.6,157.0 521.0,157.4 522.4,157.8 523.8,158.2 525.2,158.6 526.6,159.1 528.0,159.6 529.4,160.0 530.8,160.5 532.2,161.0 533.6,161.6 535.0,162.1 536.4,162.6 537.8,163.2 539.2,163.7 540.6,164.3 542.0,164.9 543.4,165.5 544.8,166.1 546.2,166.7 547.6,167.3 549.0,167.9 550.4,168.6 551.8,169.2 553.2,169.9 554.6,170.6 556.0,171.2 557.4,171.9 558.7,172.6 560.1,173.3 561.5,174.0 562.9,174.7 564.3,175.5 565.7,176.2 567.1,176.9 568.4,177.7 569.8,178.4 571.2,179.2 572.6,179.9 574.0,180.7 575.3,181.5 576.7,182.3 578.1,183.0 579.5,183.8 580.8,184.6 582.2,185.4 583.6,186.2 584.9,187.0 586.3,187.8 587.6,188.6 589.0,189.5 590.4,190.3 591.7,191.1 593.1,191.9 594.4,192.7 595.8,193.6 597.1,194.4 598.5,195.2 599.8,196.1 601.2,196.9 602.5,197.7 603.8,198.6 605.2,199.4 606.5,200.2 607.9,201.1 609.2,201.9 610.5,202.7 611.8,203.6 613.2,204.4 614.5,205.2 615.8,206.1 617.1,206.9 618.4,207.7 619.7,208.6 621.1,209.4 622.4,210.2 623.7,211.0 625.0,211.9 626.3,212.7 627.6,213.5 628.9,214.3 630.2,215.1 631.5,215.9 632.7,216.8 634.0,217.6 635.3,218.4 636.6,219.2 637.9,220.0 639.2,220.8 640.4,221.6 641.7,222.4 643.0,223.2 644.3,224.0 645.5,224.8 646.8,225.6 648.1,226.4 649.4,227.2 650.6,228.0 651.9,228.8 653.1,229.6 654.4,230.4 655.7,231.2 656.9,231.9 658.2,232.7 659.4,233.5 660.7,234.3 662.0,235.1 663.2,235.9 664.5,236.6 665.7,237.4 667.0,238.2 668.2,239.0 669.5,239.8 670.7,240.5 672.0,241.3 673.2,242.1 674.5,242.8 675.7,243.6 676.9,244.4 678.2,245.1 679.4,245.9 680.7,246.7 681.9,247.4 683.2,248.2 684.4,249.0 685.6,249.7 686.9,250.5 688.1,251.3 689.4,252.0 690.6,252.8 691.8,253.5 693.1,254.3 694.3,255.0 695.6,255.8 696.8,256.5 698.0,257.3 699.3,258.0 700.5,258.8 701.8,259.5 703.0,260.3 704.2,261.0 705.5,261.8 706.7,262.5 708.0,263.3 709.2,264.0 710.5,264.8 711.7,265.5 712.9,266.3 714.2,267.0 715.4,267.7 716.7,268.5 717.9,269.2 719.2,270.0 720.4,270.7 721.7,271.4 722.9,272.2 724.1,272.9 725.4,273.6 726.6,274.4 727.9,275.1 729.1,275.8 730.4,276.6 731.7,277.3 732.9,278.0 734.2,278.8 735.4,279.5 736.7,280.2 737.9,280.9 739.2,281.7 740.5,282.4 741.7,283.1 743.0,283.9 744.3,284.6 745.5,285.3 746.8,286.0 748.1,286.8 749.3,287.5 750.6,288.2 751.9,288.9 753.2,289.7 754.5,290.4 755.7,291.1 757.0,291.8 758.3,292.5 759.6,293.3 760.9,294.0 762.2,294.7 763.5,295.4 764.8,296.1 766.1,296.9 767.4,297.6 768.7,298.3 770.0,299.0 771.3,299.7 772.6,300.4 773.9,301.2 775.2,301.9 776.5,302.6 777.8,303.3 779.1,304.0 780.5,304.7 781.8,305.5 783.1,306.2 784.4,306.9 785.8,307.6 787.1,308.3 788.5,309.0 789.8,309.7 791.1,310.5 792.5,311.2 793.8,311.9 795.2,312.6 796.5,313.3 797.9,314.0 799.3,314.7 800.6,315.5 802.0,316.2 803.4,316.9 804.7,317.6 806.1,318.3 807.5,319.0 808.9,319.7 810.3,320.4 811.7,321.2 813.0,321.9 814.4,322.6 815.8,323.3 817.3,324.0 818.7,324.7 820.1,325.4 821.5,326.1 822.9,326.9 824.3,327.6 825.8,328.3 827.2,329.0 828.6,329.7 830.1,330.4 831.5,331.1 832.9,331.9 834.4,332.6 835.8,333.3 837.3,334.0" fill="none" stroke="#6e0c78" stroke-width="2.3" stroke-linecap="butt" stroke-linejoin="round"/>
<path d="M127.4,464.7 128.8,464.3 130.3,464.0 131.8,463.6 133.2,463.2 134.7,462.9 136.1,462.5 137.6,462.2 139.1,461.8 140.5,461.5 142.0,461.1 143.5,460.7 144.9,460.4 146.4,460.0 147.9,459.7 149.3,459.3 150.8,459.0 152.3,458.6 153.7,458.3 155.2,457.9 156.6,457.5 158.1,457.1 159.6,456.8 161.0,456.4 162.5,456.0 163.9,455.6 165.4,455.2 166.8,454.8 168.3,454.4 169.7,454.0 171.2,453.6 172.6,453.1 174.0,452.7 175.5,452.2 176.9,451.8 178.3,451.3 179.7,450.8 181.1,450.3 182.6,449.9 184.0,449.3 185.4,448.8 186.8,448.3 188.1,447.8 189.5,447.2 190.9,446.6 192.3,446.1 193.6,445.5 195.0,444.9 196.4,444.3 197.7,443.6 199.0,443.0 200.4,442.3 201.7,441.7 203.0,441.0 204.4,440.3 205.7,439.6 207.0,438.9 208.3,438.2 209.6,437.5 210.9,436.8 212.2,436.0 213.5,435.3 214.8,434.5 216.0,433.7 217.3,432.9 218.6,432.1 219.8,431.3 221.1,430.5 222.3,429.7 223.6,428.9 224.8,428.1 226.1,427.2 227.3,426.4 228.6,425.5 229.8,424.6 231.0,423.8 232.2,422.9 233.4,422.0 234.6,421.1 235.9,420.2 237.1,419.3 238.3,418.4 239.5,417.5 240.7,416.5 241.8,415.6 243.0,414.7 244.2,413.7 245.4,412.8 246.6,411.8 247.7,410.9 248.9,409.9 250.1,408.9 251.2,408.0 252.4,407.0 253.5,406.0 254.7,405.0 255.9,404.0 257.0,403.0 258.1,402.0 259.3,401.0 260.4,400.0 261.6,399.0 262.7,398.0 263.8,397.0 265.0,396.0 266.1,395.0 267.2,394.0 268.3,392.9 269.5,391.9 270.6,390.9 271.7,389.9 272.8,388.8 273.9,387.8 275.0,386.8 276.1,385.8 277.2,384.7 278.3,383.7 279.4,382.7 280.5,381.6 281.6,380.6 282.7,379.6 283.8,378.6 284.9,377.5 286.0,376.5 287.1,375.5 288.2,374.4 289.3,373.4 290.4,372.4 291.5,371.3 292.6,370.3 293.6,369.3 294.7,368.2 295.8,367.2 296.9,366.2 298.0,365.1 299.0,364.1 300.1,363.1 301.2,362.1 302.3,361.0 303.3,360.0 304.4,359.0 305.5,357.9 306.5,356.9 307.6,355.9 308.7,354.8 309.7,353.8 310.8,352.7 311.9,351.7 312.9,350.7 314.0,349.6 315.0,348.6 316.1,347.6 317.2,346.5 318.2,345.5 319.3,344.5 320.3,343.4 321.4,342.4 322.4,341.3 323.5,340.3 324.5,339.3 325.6,338.2 326.7,337.2 327.7,336.2 328.8,335.1 329.8,334.1 330.9,333.0 331.9,332.0 333.0,330.9 334.0,329.9 335.0,328.9 336.1,327.8 337.1,326.8 338.2,325.7 339.2,324.7 340.3,323.6 341.3,322.6 342.4,321.6 343.4,320.5 344.5,319.5 345.5,318.4 346.6,317.4 347.6,316.3 348.6,315.3 349.7,314.2 350.7,313.2 351.8,312.1 352.8,311.1 353.9,310.0 354.9,309.0 356.0,307.9 357.0,306.9 358.0,305.8 359.1,304.8 360.1,303.7 361.2,302.6 362.2,301.6 363.3,300.5 364.3,299.5 365.4,298.4 366.4,297.4 367.5,296.3 368.5,295.2 369.5,294.2 370.6,293.1 371.6,292.1 372.7,291.0 373.7,289.9 374.8,288.9 375.8,287.8 376.9,286.7 377.9,285.7 379.0,284.6 380.0,283.5 381.1,282.5 382.2,281.4 383.2,280.3 384.3,279.3 385.3,278.2 386.4,277.1 387.4,276.1 388.5,275.0 389.5,273.9 390.6,272.8 391.7,271.8 392.7,270.7 393.8,269.6 394.9,268.5 395.9,267.5 397.0,266.4 398.1,265.3 399.1,264.2 400.2,263.1 401.3,262.1 402.3,261.0 403.4,259.9 404.5,258.8 405.5,257.7 406.6,256.6 407.7,255.5 408.8,254.4 409.9,253.4 410.9,252.3 412.0,251.2 413.1,250.1 414.2,249.0 415.3,247.9 416.4,246.8 417.4,245.7 418.5,244.6 419.6,243.5 420.7,242.4 421.8,241.3 422.9,240.2 424.0,239.1 425.1,238.0 426.2,236.9 427.3,235.8 428.4,234.8 429.5,233.7 430.6,232.6 431.8,231.5 432.9,230.4 434.0,229.3 435.1,228.3 436.2,227.2 437.4,226.1 438.5,225.1 439.6,224.0 440.8,222.9 441.9,221.9 443.1,220.8 444.2,219.8 445.4,218.8 446.5,217.7 447.7,216.7 448.8,215.7 450.0,214.7 451.1,213.7 452.3,212.7 453.5,211.7 454.7,210.7 455.9,209.7 457.0,208.7 458.2,207.8 459.4,206.8 460.6,205.9 461.8,204.9 463.0,204.0 464.2,203.1 465.5,202.2 466.7,201.3 467.9,200.4 469.1,199.5 470.4,198.7 471.6,197.8 472.9,197.0 474.1,196.1 475.4,195.3 476.6,194.5 477.9,193.7 479.2,192.9 480.4,192.1 481.7,191.4 483.0,190.6 484.3,189.9 485.6,189.2 486.9,188.4 488.2,187.8 489.5,187.1 490.8,186.4 492.2,185.7 493.5,185.1 494.8,184.5 496.2,183.9 497.5,183.3 498.9,182.7 500.2,182.1 501.6,181.6 503.0,181.0 504.3,180.5 505.7,180.0 507.1,179.5 508.5,179.0 509.9,178.5 511.3,178.1 512.7,177.6 514.1,177.2 515.5,176.8 516.9,176.4 518.3,176.0 519.7,175.6 521.2,175.2 522.6,174.9 524.0,174.5 525.5,174.2 526.9,173.9 528.3,173.6 529.8,173.3 531.2,173.0 532.7,172.8 534.1,172.5 535.6,172.3 537.0,172.1 538.5,171.9 539.9,171.7 541.4,171.5 542.9,171.3 544.3,171.2 545.8,171.0 547.3,170.9 548.8,170.8 550.2,170.7 551.7,170.6 553.2,170.5 554.7,170.4 556.1,170.3 557.6,170.3 559.1,170.3 560.6,170.3 562.1,170.2 563.5,170.3 565.0,170.3 566.5,170.3 568.0,170.3 569.5,170.4 571.0,170.5 572.5,170.5 573.9,170.6 575.4,170.7 576.9,170.9 578.4,171.0 579.9,171.1 581.4,171.3 582.9,171.4 584.3,171.6 585.8,171.8 587.3,172.0 588.8,172.2 590.3,172.4 591.7,172.6 593.2,172.9 594.7,173.1 596.2,173.4 597.6,173.7 599.1,174.0 600.6,174.3 602.1,174.6 603.5,174.9 605.0,175.3 606.4,175.6 607.9,176.0 609.4,176.3 610.8,176.7 612.3,177.1 613.7,177.5 615.2,177.9 616.6,178.4 618.0,178.8 619.5,179.2 620.9,179.7 622.3,180.2 623.8,180.6 625.2,181.1 626.6,181.6 628.0,182.1 629.4,182.7 630.9,183.2 632.3,183.7 633.7,184.3 635.1,184.9 636.4,185.4 637.8,186.0 639.2,186.6 640.6,187.2 642.0,187.9 643.3,188.5 644.7,189.1 646.1,189.8 647.4,190.4 648.8,191.1 650.1,191.8 651.5,192.5 652.8,193.2 654.1,193.9 655.5,194.6 656.8,195.3 658.1,196.0 659.4,196.8 660.8,197.5 662.1,198.2 663.4,199.0 664.7,199.8 666.0,200.5 667.3,201.3 668.6,202.1 669.9,202.9 671.2,203.7 672.5,204.5 673.7,205.3 675.0,206.1 676.3,206.9 677.6,207.8 678.8,208.6 680.1,209.4 681.4,210.3 682.7,211.1 683.9,212.0 685.2,212.8 686.4,213.7 687.7,214.5 689.0,215.4 690.2,216.2 691.5,217.1 692.7,218.0 694.0,218.8 695.2,219.7 696.5,220.6 697.7,221.5 699.0,222.3 700.2,223.2 701.5,224.1 702.7,225.0 703.9,225.8 705.2,226.7 706.4,227.6 707.7,228.5 708.9,229.4 710.2,230.3 711.4,231.1 712.6,232.0 713.9,232.9 715.1,233.8 716.4,234.6 717.6,235.5 718.8,236.4 720.1,237.3 721.3,238.1 722.6,239.0 723.8,239.9 725.0,240.7 726.3,241.6 727.5,242.4 728.8,243.3 730.0,244.2 731.2,245.0 732.5,245.9 733.7,246.7 735.0,247.6 736.2,248.4 737.5,249.3 738.7,250.1 739.9,251.0 741.2,251.8 742.4,252.6 743.7,253.5 744.9,254.3 746.2,255.1 747.4,256.0 748.7,256.8 749.9,257.6 751.2,258.5 752.4,259.3 753.7,260.1 754.9,260.9 756.2,261.7 757.4,262.5 758.7,263.4 759.9,264.2 761.2,265.0 762.5,265.8 763.7,266.6 765.0,267.4 766.2,268.2 767.5,269.0 768.8,269.8 770.0,270.6 771.3,271.4 772.5,272.2 773.8,273.0 775.1,273.7 776.3,274.5 777.6,275.3 778.9,276.1 780.1,276.9 781.4,277.6 782.7,278.4 784.0,279.2 785.2,279.9 786.5,280.7 787.8,281.5 789.1,282.2 790.3,283.0 791.6,283.7 792.9,284.5 794.2,285.2 795.5,286.0 796.8,286.7 798.1,287.5 799.3,288.2 800.6,289.0 801.9,289.7 803.2,290.4 804.5,291.2 805.8,291.9 807.1,292.6 808.4,293.3 809.7,294.0 811.0,294.8 812.3,295.5 813.6,296.2 814.9,296.9 816.2,297.6 817.5,298.3 818.8,299.0 820.2,299.7 821.5,300.4 822.8,301.1 824.1,301.8 825.4,302.5 826.7,303.2 828.1,303.8 829.4,304.5 830.7,305.2 832.0,305.9 833.4,306.5 834.7,307.2 836.0,307.9 837.4,308.5 838.7,309.2 840.0,309.9 841.4,310.5 842.7,311.2 844.1,311.8 845.4,312.5 846.8,313.1 848.1,313.7 849.5,314.4 850.8,315.0 852.2,315.6 853.6,316.3 854.9,316.9 856.3,317.5 857.6,318.1 859.0,318.7 860.4,319.4 861.8,320.0 863.1,320.6 864.5,321.2 865.9,321.8 867.3,322.4 868.7,323.0 870.0,323.5 871.4,324.1 872.8,324.7 874.2,325.3 875.6,325.9 877.0,326.4 878.4,327.0 879.8,327.6 881.2,328.1 882.6,328.7 884.1,329.3 885.5,329.8 886.9,330.4 888.3,330.9 889.7,331.5 891.2,332.0 892.6,332.5 894.0,333.1 895.4,333.6 896.9,334.1 898.3,334.7 899.8,335.2 901.2,335.7 902.6,336.2 904.1,336.7 905.5,337.2 907.0,337.7 908.5,338.2 909.9,338.7 911.4,339.2 912.9,339.7 914.3,340.2 915.8,340.7 917.3,341.1 918.7,341.6 920.2,342.1 921.7,342.5 923.2,343.0" fill="none" stroke="#d8a332" stroke-width="2.3" stroke-linecap="butt" stroke-linejoin="round"/>
<rect x="635" y="288" width="319" height="194" rx="4" fill="#d3d3d3" fill-opacity="0.8"/>
<text x="723.99" y="309.00" font-size="19.61" fill="#000000" textLength="139.57" lengthAdjust="spacingAndGlyphs" stroke="#000000" stroke-width="0.22" >Breech Presure</text>
<path d="M639.7,329.1 H680.2" stroke="#2f8ff0" stroke-width="2.3" fill="none"/>
<text x="692.37" y="335.84" font-size="19.61" fill="#d8182a" textLength="92.83" lengthAdjust="spacingAndGlyphs" stroke="#d8182a" stroke-width="0.22" >0.02988 L</text>
<path d="M639.7,355.0 H680.2" stroke="#f020f0" stroke-width="2.3" fill="none"/>
<text x="692.37" y="361.74" font-size="19.61" fill="#d8182a" textLength="69.29" lengthAdjust="spacingAndGlyphs" stroke="#d8182a" stroke-width="0.22" >0.054 L</text>
<path d="M639.7,381.6 H680.2" stroke="#107a10" stroke-width="2.3" fill="none"/>
<text x="692.39" y="388.34" font-size="19.61" fill="#d8182a" textLength="254.10" lengthAdjust="spacingAndGlyphs" stroke="#d8182a" stroke-width="0.22" >0.0735 L (ORNL Test Stand)</text>
<path d="M639.7,407.8 H680.2" stroke="#f25020" stroke-width="2.3" fill="none"/>
<text x="692.37" y="414.54" font-size="19.61" fill="#d8182a" textLength="81.06" lengthAdjust="spacingAndGlyphs" stroke="#d8182a" stroke-width="0.22" >0.0946 L</text>
<path d="M639.7,433.7 H680.2" stroke="#6e0c78" stroke-width="2.3" fill="none"/>
<text x="692.39" y="440.44" font-size="19.61" fill="#d8182a" textLength="199.82" lengthAdjust="spacingAndGlyphs" stroke="#d8182a" stroke-width="0.22" >0.154 L (ITER Design)</text>
<path d="M639.7,459.6 H680.2" stroke="#d8a332" stroke-width="2.3" fill="none"/>
<text x="692.37" y="466.34" font-size="19.61" fill="#d8182a" textLength="69.29" lengthAdjust="spacingAndGlyphs" stroke="#d8182a" stroke-width="0.22" >0.208 L</text>
<text x="700.76" y="232.10" font-size="47.20" fill="#000000" textLength="246.26" lengthAdjust="spacingAndGlyphs" stroke="#000000" stroke-width="0.8" font-weight="bold" >1000V Shot</text>
<path d="M127.4,485.9 v3 M306.9,485.9 v3 M486.4,485.9 v3 M665.9,485.9 v3 M845.4,485.9 v3 M88.1,464.7 h-3 M88.1,392.9 h-3 M88.1,321.2 h-3 M88.1,249.4 h-3 M88.1,177.6 h-3 M88.1,105.8 h-3 M88.1,34.1 h-3 M962.4,464.7 h3 M962.4,361.2 h3 M962.4,257.6 h3 M962.4,154.1 h3 M962.4,50.6 h3" stroke="#8c8c9c" stroke-width="1" fill="none"/>
<text x="120.15" y="507.20" font-size="26.08" fill="#000000" textLength="14.39" lengthAdjust="spacingAndGlyphs" stroke="#000000" stroke-width="0.22" >0</text>
<text x="299.70" y="507.20" font-size="26.08" fill="#000000" textLength="13.68" lengthAdjust="spacingAndGlyphs" stroke="#000000" stroke-width="0.22" >1</text>
<text x="479.50" y="507.20" font-size="26.08" fill="#000000" textLength="13.83" lengthAdjust="spacingAndGlyphs" stroke="#000000" stroke-width="0.22" >2</text>
<text x="659.00" y="507.20" font-size="26.08" fill="#000000" textLength="13.83" lengthAdjust="spacingAndGlyphs" stroke="#000000" stroke-width="0.22" >3</text>
<text x="838.36" y="507.20" font-size="26.08" fill="#000000" textLength="14.36" lengthAdjust="spacingAndGlyphs" stroke="#000000" stroke-width="0.22" >4</text>
<text x="70.64" y="474.67" font-size="26.08" fill="#1414c8" textLength="14.39" lengthAdjust="spacingAndGlyphs" stroke="#1414c8" stroke-width="0.22" >0</text>
<text x="39.36" y="402.90" font-size="26.08" fill="#1414c8" textLength="45.80" lengthAdjust="spacingAndGlyphs" stroke="#1414c8" stroke-width="0.22" >100</text>
<text x="39.18" y="331.13" font-size="26.08" fill="#1414c8" textLength="45.98" lengthAdjust="spacingAndGlyphs" stroke="#1414c8" stroke-width="0.22" >200</text>
<text x="39.46" y="259.36" font-size="26.08" fill="#1414c8" textLength="45.69" lengthAdjust="spacingAndGlyphs" stroke="#1414c8" stroke-width="0.22" >300</text>
<text x="39.39" y="187.59" font-size="26.08" fill="#1414c8" textLength="45.76" lengthAdjust="spacingAndGlyphs" stroke="#1414c8" stroke-width="0.22" >400</text>
<text x="39.46" y="115.82" font-size="26.08" fill="#1414c8" textLength="45.69" lengthAdjust="spacingAndGlyphs" stroke="#1414c8" stroke-width="0.22" >500</text>
<text x="39.05" y="44.05" font-size="26.08" fill="#1414c8" textLength="46.11" lengthAdjust="spacingAndGlyphs" stroke="#1414c8" stroke-width="0.22" >600</text>
<text x="964.56" y="474.67" font-size="26.08" fill="#d8182a" textLength="14.39" lengthAdjust="spacingAndGlyphs" stroke="#d8182a" stroke-width="0.22" >0</text>
<text x="964.62" y="371.14" font-size="26.08" fill="#d8182a" textLength="13.68" lengthAdjust="spacingAndGlyphs" stroke="#d8182a" stroke-width="0.22" >5</text>
<text x="963.58" y="267.62" font-size="26.08" fill="#d8182a" textLength="29.96" lengthAdjust="spacingAndGlyphs" stroke="#d8182a" stroke-width="0.22" >10</text>
<text x="963.61" y="164.09" font-size="26.08" fill="#d8182a" textLength="29.56" lengthAdjust="spacingAndGlyphs" stroke="#d8182a" stroke-width="0.22" >15</text>
<text x="964.24" y="60.57" font-size="26.08" fill="#d8182a" textLength="30.17" lengthAdjust="spacingAndGlyphs" stroke="#d8182a" stroke-width="0.22" >20</text>
<text x="464.05" y="532.00" font-size="25.86" fill="#000000" textLength="123.47" lengthAdjust="spacingAndGlyphs" stroke="#000000" stroke-width="0.22" >Time (ms)</text>
<text transform="translate(31.00,353.20) rotate(-90)" x="-2.12" y="0" font-size="25.86" fill="#1414c8" textLength="218.14" lengthAdjust="spacingAndGlyphs" stroke="#1414c8" stroke-width="0.22">Pellet Speed (m/s)</text>
<text transform="translate(1017.50,373.70) rotate(-90)" x="-2.10" y="0" font-size="25.86" fill="#d8182a" textLength="258.03" lengthAdjust="spacingAndGlyphs" stroke="#d8182a" stroke-width="0.22">Breech Pressure (bar)</text>
<rect x="76.9" y="558.2" width="864.0" height="484.5" fill="#d3d3d3"/>
<path d="M116.0,558.2 V1042.7 M281.0,558.2 V1042.7 M446.0,558.2 V1042.7 M610.9,558.2 V1042.7 M775.9,558.2 V1042.7 M940.9,558.2 V1042.7 M76.9,1021.0 H940.9 M76.9,944.7 H940.9 M76.9,868.5 H940.9 M76.9,792.2 H940.9 M76.9,715.9 H940.9 M76.9,639.6 H940.9 M76.9,563.4 H940.9" stroke="#2020e0" stroke-opacity="0.2" stroke-width="1.2" fill="none"/>
<path d="M211.6,1021.0 212.3,1019.7 213.1,1018.4 213.8,1017.1 214.6,1015.9 215.3,1014.6 216.0,1013.3 216.8,1012.0 217.5,1010.7 218.3,1009.4 219.0,1008.1 219.8,1006.8 220.5,1005.6 221.3,1004.3 222.0,1003.0 222.8,1001.7 223.5,1000.4 224.3,999.1 225.0,997.8 225.7,996.5 226.5,995.2 227.2,994.0 228.0,992.7 228.7,991.4 229.5,990.1 230.3,988.8 231.0,987.5 231.8,986.2 232.5,984.9 233.3,983.6 234.0,982.3 234.8,981.0 235.5,979.8 236.3,978.5 237.0,977.2 237.8,975.9 238.6,974.6 239.3,973.3 240.1,972.0 240.8,970.7 241.6,969.4 242.4,968.1 243.1,966.8 243.9,965.5 244.6,964.2 245.4,963.0 246.2,961.7 246.9,960.4 247.7,959.1 248.5,957.8 249.2,956.5 250.0,955.2 250.8,953.9 251.5,952.6 252.3,951.3 253.1,950.0 253.8,948.7 254.6,947.4 255.4,946.2 256.2,944.9 256.9,943.6 257.7,942.3 258.5,941.0 259.3,939.7 260.0,938.4 260.8,937.1 261.6,935.8 262.4,934.5 263.1,933.2 263.9,932.0 264.7,930.7 265.5,929.4 266.3,928.1 267.1,926.8 267.8,925.5 268.6,924.2 269.4,922.9 270.2,921.7 271.0,920.4 271.8,919.1 272.6,917.8 273.3,916.5 274.1,915.2 274.9,913.9 275.7,912.6 276.5,911.4 277.3,910.1 278.1,908.8 278.9,907.5 279.7,906.2 280.5,904.9 281.3,903.7 282.1,902.4 282.9,901.1 283.7,899.8 284.5,898.5 285.3,897.3 286.1,896.0 286.9,894.7 287.7,893.4 288.5,892.1 289.3,890.9 290.1,889.6 290.9,888.3 291.8,887.0 292.6,885.8 293.4,884.5 294.2,883.2 295.0,881.9 295.8,880.7 296.6,879.4 297.5,878.1 298.3,876.8 299.1,875.6 299.9,874.3 300.7,873.0 301.6,871.8 302.4,870.5 303.2,869.2 304.0,868.0 304.9,866.7 305.7,865.4 306.5,864.2 307.3,862.9 308.2,861.6 309.0,860.4 309.8,859.1 310.7,857.8 311.5,856.6 312.3,855.3 313.2,854.1 314.0,852.8 314.9,851.5 315.7,850.3 316.5,849.0 317.4,847.8 318.2,846.5 319.1,845.3 319.9,844.0 320.8,842.8 321.6,841.5 322.5,840.2 323.3,839.0 324.2,837.7 325.0,836.5 325.9,835.3 326.7,834.0 327.6,832.8 328.5,831.5 329.3,830.3 330.2,829.0 331.0,827.8 331.9,826.5 332.8,825.3 333.6,824.1 334.5,822.8 335.4,821.6 336.2,820.4 337.1,819.1 338.0,817.9 338.9,816.7 339.7,815.4 340.6,814.2 341.5,813.0 342.4,811.7 343.3,810.5 344.1,809.3 345.0,808.0 345.9,806.8 346.8,805.6 347.7,804.4 348.6,803.2 349.5,801.9 350.3,800.7 351.2,799.5 352.1,798.3 353.0,797.1 353.9,795.9 354.8,794.6 355.7,793.4 356.6,792.2 357.5,791.0 358.4,789.8 359.3,788.6 360.2,787.4 361.1,786.2 362.1,785.0 363.0,783.8 363.9,782.6 364.8,781.4 365.7,780.2 366.6,779.0 367.5,777.8 368.5,776.6 369.4,775.4 370.3,774.2 371.2,773.0 372.2,771.8 373.1,770.6 374.0,769.4 374.9,768.3 375.9,767.1 376.8,765.9 377.8,764.7 378.7,763.5 379.6,762.4 380.6,761.2 381.5,760.0 382.5,758.8 383.4,757.7 384.3,756.5 385.3,755.3 386.2,754.2 387.2,753.0 388.2,751.8 389.1,750.7 390.1,749.5 391.0,748.4 392.0,747.2 392.9,746.0 393.9,744.9 394.9,743.7 395.8,742.6 396.8,741.4 397.8,740.3 398.8,739.2 399.7,738.0 400.7,736.9 401.7,735.7 402.7,734.6 403.6,733.5 404.6,732.3 405.6,731.2 406.6,730.1 407.6,728.9 408.6,727.8 409.6,726.7 410.6,725.6 411.6,724.4 412.6,723.3 413.6,722.2 414.6,721.1 415.6,720.0 416.6,718.9 417.6,717.8 418.6,716.7 419.6,715.6 420.6,714.5 421.7,713.4 422.7,712.3 423.7,711.2 424.7,710.1 425.7,709.0 426.8,707.9 427.8,706.8 428.8,705.7 429.9,704.6 430.9,703.6 431.9,702.5 433.0,701.4 434.0,700.3 435.1,699.3 436.1,698.2 437.1,697.1 438.2,696.1 439.2,695.0 440.3,693.9 441.4,692.9 442.4,691.8 443.5,690.8 444.5,689.7 445.6,688.7 446.7,687.6 447.7,686.6 448.8,685.6 449.9,684.5 451.0,683.5 452.0,682.4 453.1,681.4 454.2,680.4 455.3,679.4 456.4,678.3 457.5,677.3 458.6,676.3 459.6,675.3 460.7,674.3 461.8,673.3 462.9,672.3 464.0,671.2 465.1,670.2 466.3,669.2 467.4,668.3 468.5,667.3 469.6,666.3 470.7,665.3 471.8,664.3 473.0,663.3 474.1,662.3 475.2,661.3 476.3,660.4 477.5,659.4 478.6,658.4 479.7,657.5 480.9,656.5 482.0,655.5 483.2,654.6 484.3,653.6 485.5,652.7 486.6,651.7 487.8,650.8 488.9,649.8 490.1,648.9 491.2,648.0 492.4,647.0 493.6,646.1 494.7,645.2 495.9,644.2 497.1,643.3 498.3,642.4 499.4,641.5 500.6,640.6 501.8,639.7 503.0,638.7 504.2,637.8 505.4,636.9 506.6,636.0 507.8,635.1 509.0,634.3 510.2,633.4 511.4,632.5 512.6,631.6 513.8,630.7 515.0,629.8 516.2,629.0 517.5,628.1 518.7,627.2 519.9,626.4 521.1,625.5 522.4,624.7 523.6,623.8 524.8,623.0 526.1,622.1 527.3,621.3 528.6,620.4 529.8,619.6 531.1,618.8 532.3,617.9 533.6,617.1 534.8,616.3 536.1,615.5 537.4,614.6 538.6,613.8 539.9,613.0 541.2,612.2 542.4,611.4 543.7,610.6 545.0,609.8 546.3,609.0 547.6,608.2 548.9,607.5 550.2,606.7 551.5,605.9 552.8,605.1 554.1,604.4 555.4,603.6 556.7,602.8 558.0,602.1 559.3,601.3 560.6,600.6 561.9,599.8 563.3,599.1 564.6,598.3 565.9,597.6 567.2,596.9 568.6,596.1 569.9,595.4 571.3,594.7 572.6,594.0 574.0,593.3 575.3,592.6 576.7,591.9 578.0,591.2 579.4,590.5 580.7,589.8 582.1,589.1 583.5,588.4 584.9,587.7 586.2,587.0 587.6,586.3 589.0,585.7 590.4,585.0 591.8,584.3 593.2,583.7 594.6,583.0 596.0,582.4 597.4,581.7 598.8,581.1 600.2,580.5 601.6,579.8 603.0,579.2" fill="none" stroke="#2f8ff0" stroke-width="2.3" stroke-dasharray="8.5 3.7" stroke-linecap="butt" stroke-linejoin="round"/>
<path d="M250.6,1021.0 251.4,1019.7 252.3,1018.5 253.1,1017.2 253.9,1016.0 254.7,1014.7 255.6,1013.5 256.4,1012.2 257.2,1011.0 258.0,1009.7 258.9,1008.4 259.7,1007.2 260.5,1005.9 261.3,1004.7 262.1,1003.4 263.0,1002.1 263.8,1000.9 264.6,999.6 265.4,998.3 266.2,997.1 267.0,995.8 267.8,994.6 268.7,993.3 269.5,992.0 270.3,990.8 271.1,989.5 271.9,988.2 272.7,987.0 273.5,985.7 274.3,984.4 275.1,983.2 275.9,981.9 276.8,980.6 277.6,979.3 278.4,978.1 279.2,976.8 280.0,975.5 280.8,974.3 281.6,973.0 282.4,971.7 283.2,970.5 284.0,969.2 284.8,967.9 285.6,966.6 286.4,965.4 287.2,964.1 288.0,962.8 288.8,961.5 289.6,960.3 290.4,959.0 291.2,957.7 292.0,956.4 292.8,955.2 293.6,953.9 294.4,952.6 295.2,951.3 296.0,950.1 296.8,948.8 297.6,947.5 298.4,946.2 299.1,945.0 299.9,943.7 300.7,942.4 301.5,941.1 302.3,939.9 303.1,938.6 303.9,937.3 304.7,936.0 305.5,934.7 306.3,933.5 307.1,932.2 307.9,930.9 308.7,929.6 309.5,928.4 310.3,927.1 311.1,925.8 311.9,924.5 312.6,923.2 313.4,922.0 314.2,920.7 315.0,919.4 315.8,918.1 316.6,916.8 317.4,915.6 318.2,914.3 319.0,913.0 319.8,911.7 320.6,910.5 321.4,909.2 322.2,907.9 323.0,906.6 323.8,905.3 324.6,904.1 325.3,902.8 326.1,901.5 326.9,900.2 327.7,899.0 328.5,897.7 329.3,896.4 330.1,895.1 330.9,893.8 331.7,892.6 332.5,891.3 333.3,890.0 334.1,888.7 334.9,887.5 335.7,886.2 336.5,884.9 337.3,883.6 338.1,882.3 338.9,881.1 339.7,879.8 340.5,878.5 341.3,877.2 342.1,876.0 342.9,874.7 343.7,873.4 344.5,872.1 345.3,870.9 346.1,869.6 346.9,868.3 347.7,867.1 348.5,865.8 349.3,864.5 350.2,863.2 351.0,862.0 351.8,860.7 352.6,859.4 353.4,858.2 354.2,856.9 355.0,855.6 355.8,854.4 356.6,853.1 357.5,851.8 358.3,850.6 359.1,849.3 359.9,848.0 360.7,846.8 361.6,845.5 362.4,844.2 363.2,843.0 364.0,841.7 364.8,840.5 365.7,839.2 366.5,837.9 367.3,836.7 368.2,835.4 369.0,834.2 369.8,832.9 370.7,831.7 371.5,830.4 372.3,829.1 373.2,827.9 374.0,826.6 374.8,825.4 375.7,824.1 376.5,822.9 377.4,821.7 378.2,820.4 379.1,819.2 379.9,817.9 380.8,816.7 381.6,815.4 382.5,814.2 383.3,813.0 384.2,811.7 385.1,810.5 385.9,809.2 386.8,808.0 387.6,806.8 388.5,805.5 389.4,804.3 390.2,803.1 391.1,801.9 392.0,800.6 392.9,799.4 393.7,798.2 394.6,797.0 395.5,795.7 396.4,794.5 397.3,793.3 398.2,792.1 399.0,790.9 399.9,789.7 400.8,788.4 401.7,787.2 402.6,786.0 403.5,784.8 404.4,783.6 405.3,782.4 406.2,781.2 407.1,780.0 408.1,778.8 409.0,777.6 409.9,776.4 410.8,775.2 411.7,774.0 412.6,772.8 413.6,771.6 414.5,770.4 415.4,769.2 416.3,768.1 417.3,766.9 418.2,765.7 419.1,764.5 420.1,763.3 421.0,762.2 422.0,761.0 422.9,759.8 423.8,758.6 424.8,757.5 425.7,756.3 426.7,755.1 427.6,754.0 428.6,752.8 429.6,751.6 430.5,750.5 431.5,749.3 432.4,748.2 433.4,747.0 434.4,745.9 435.4,744.7 436.3,743.6 437.3,742.4 438.3,741.3 439.3,740.1 440.2,739.0 441.2,737.9 442.2,736.7 443.2,735.6 444.2,734.5 445.2,733.3 446.2,732.2 447.2,731.1 448.2,730.0 449.2,728.8 450.2,727.7 451.2,726.6 452.2,725.5 453.2,724.4 454.2,723.3 455.2,722.1 456.2,721.0 457.3,719.9 458.3,718.8 459.3,717.7 460.3,716.6 461.4,715.5 462.4,714.4 463.4,713.4 464.5,712.3 465.5,711.2 466.5,710.1 467.6,709.0 468.6,707.9 469.7,706.9 470.7,705.8 471.8,704.7 472.8,703.6 473.9,702.6 474.9,701.5 476.0,700.4 477.0,699.4 478.1,698.3 479.2,697.3 480.2,696.2 481.3,695.2 482.4,694.1 483.5,693.1 484.5,692.0 485.6,691.0 486.7,689.9 487.8,688.9 488.9,687.9 490.0,686.8 491.1,685.8 492.2,684.8 493.3,683.8 494.4,682.7 495.5,681.7 496.6,680.7 497.7,679.7 498.8,678.7 499.9,677.7 501.0,676.7 502.1,675.7 503.2,674.7 504.3,673.7 505.5,672.7 506.6,671.7 507.7,670.7 508.9,669.7 510.0,668.7 511.1,667.7 512.3,666.8 513.4,665.8 514.5,664.8 515.7,663.9 516.8,662.9 518.0,661.9 519.1,661.0 520.3,660.0 521.4,659.0 522.6,658.1 523.7,657.1 524.9,656.2 526.1,655.3 527.2,654.3 528.4,653.4 529.6,652.4 530.8,651.5 531.9,650.6 533.1,649.7 534.3,648.7 535.5,647.8 536.7,646.9 537.9,646.0 539.1,645.1 540.3,644.2 541.5,643.3 542.7,642.4 543.9,641.5 545.1,640.6 546.3,639.7 547.5,638.8 548.7,637.9 549.9,637.0 551.1,636.1 552.3,635.3 553.6,634.4 554.8,633.5 556.0,632.7 557.2,631.8 558.5,630.9 559.7,630.1 560.9,629.2 562.2,628.4 563.4,627.5 564.7,626.7 565.9,625.9 567.2,625.0 568.4,624.2 569.7,623.4 570.9,622.5 572.2,621.7 573.5,620.9 574.7,620.1 576.0,619.3 577.3,618.4 578.5,617.6 579.8,616.8 581.1,616.0 582.4,615.2 583.6,614.5 584.9,613.7 586.2,612.9 587.5,612.1 588.8,611.3 590.1,610.5 591.4,609.8 592.7,609.0 594.0,608.2 595.3,607.5 596.6,606.7 597.9,606.0 599.2,605.2 600.6,604.5 601.9,603.7 603.2,603.0 604.5,602.3 605.9,601.5 607.2,600.8 608.5,600.1 609.9,599.4 611.2,598.6 612.5,597.9 613.9,597.2 615.2,596.5 616.6,595.8 617.9,595.1 619.3,594.4 620.6,593.7 622.0,593.1 623.3,592.4 624.7,591.7 626.1,591.0 627.5,590.4 628.8,589.7 630.2,589.0 631.6,588.4 633.0,587.7 634.3,587.1 635.7,586.4 637.1,585.8 638.5,585.1 639.9,584.5 641.3,583.9 642.7,583.2 644.1,582.6 645.5,582.0" fill="none" stroke="#f020f0" stroke-width="2.3" stroke-dasharray="8.5 3.7" stroke-linecap="butt" stroke-linejoin="round"/>
<path d="M276.0,1021.0 276.9,1019.8 277.9,1018.6 278.8,1017.4 279.7,1016.3 280.6,1015.1 281.5,1013.9 282.4,1012.7 283.3,1011.5 284.3,1010.3 285.2,1009.1 286.1,1007.9 287.0,1006.7 287.9,1005.5 288.8,1004.3 289.7,1003.1 290.6,1001.9 291.5,1000.7 292.4,999.5 293.3,998.3 294.1,997.1 295.0,995.9 295.9,994.6 296.8,993.4 297.7,992.2 298.6,991.0 299.5,989.8 300.3,988.6 301.2,987.3 302.1,986.1 303.0,984.9 303.8,983.7 304.7,982.5 305.6,981.2 306.5,980.0 307.3,978.8 308.2,977.5 309.1,976.3 309.9,975.1 310.8,973.9 311.6,972.6 312.5,971.4 313.4,970.2 314.2,968.9 315.1,967.7 315.9,966.4 316.8,965.2 317.6,964.0 318.5,962.7 319.4,961.5 320.2,960.3 321.1,959.0 321.9,957.8 322.8,956.5 323.6,955.3 324.5,954.0 325.3,952.8 326.1,951.5 327.0,950.3 327.8,949.1 328.7,947.8 329.5,946.6 330.4,945.3 331.2,944.1 332.0,942.8 332.9,941.6 333.7,940.3 334.6,939.1 335.4,937.8 336.2,936.6 337.1,935.3 337.9,934.0 338.7,932.8 339.6,931.5 340.4,930.3 341.2,929.0 342.1,927.8 342.9,926.5 343.7,925.3 344.6,924.0 345.4,922.7 346.2,921.5 347.1,920.2 347.9,919.0 348.7,917.7 349.6,916.5 350.4,915.2 351.2,913.9 352.0,912.7 352.9,911.4 353.7,910.2 354.5,908.9 355.4,907.6 356.2,906.4 357.0,905.1 357.8,903.9 358.7,902.6 359.5,901.4 360.3,900.1 361.2,898.8 362.0,897.6 362.8,896.3 363.6,895.1 364.5,893.8 365.3,892.5 366.1,891.3 367.0,890.0 367.8,888.8 368.6,887.5 369.4,886.2 370.3,885.0 371.1,883.7 371.9,882.5 372.8,881.2 373.6,880.0 374.4,878.7 375.3,877.4 376.1,876.2 376.9,874.9 377.8,873.7 378.6,872.4 379.4,871.2 380.3,869.9 381.1,868.6 381.9,867.4 382.8,866.1 383.6,864.9 384.5,863.6 385.3,862.4 386.1,861.1 387.0,859.9 387.8,858.6 388.7,857.4 389.5,856.1 390.3,854.9 391.2,853.6 392.0,852.4 392.9,851.1 393.7,849.9 394.6,848.6 395.4,847.4 396.3,846.1 397.1,844.9 398.0,843.7 398.8,842.4 399.7,841.2 400.5,839.9 401.4,838.7 402.2,837.4 403.1,836.2 403.9,835.0 404.8,833.7 405.7,832.5 406.5,831.3 407.4,830.0 408.2,828.8 409.1,827.6 410.0,826.3 410.8,825.1 411.7,823.9 412.6,822.6 413.5,821.4 414.3,820.2 415.2,818.9 416.1,817.7 417.0,816.5 417.8,815.3 418.7,814.1 419.6,812.8 420.5,811.6 421.4,810.4 422.2,809.2 423.1,808.0 424.0,806.7 424.9,805.5 425.8,804.3 426.7,803.1 427.6,801.9 428.5,800.7 429.4,799.5 430.3,798.3 431.2,797.1 432.1,795.9 433.0,794.7 433.9,793.5 434.8,792.3 435.7,791.1 436.6,789.9 437.5,788.7 438.5,787.5 439.4,786.3 440.3,785.1 441.2,783.9 442.2,782.7 443.1,781.5 444.0,780.3 444.9,779.2 445.9,778.0 446.8,776.8 447.7,775.6 448.7,774.4 449.6,773.3 450.6,772.1 451.5,770.9 452.4,769.7 453.4,768.6 454.3,767.4 455.3,766.2 456.2,765.1 457.2,763.9 458.2,762.8 459.1,761.6 460.1,760.4 461.0,759.3 462.0,758.1 463.0,757.0 463.9,755.8 464.9,754.7 465.9,753.5 466.9,752.4 467.8,751.2 468.8,750.1 469.8,749.0 470.8,747.8 471.8,746.7 472.8,745.5 473.7,744.4 474.7,743.3 475.7,742.2 476.7,741.0 477.7,739.9 478.7,738.8 479.7,737.7 480.7,736.5 481.7,735.4 482.7,734.3 483.8,733.2 484.8,732.1 485.8,731.0 486.8,729.9 487.8,728.8 488.8,727.7 489.9,726.6 490.9,725.5 491.9,724.4 492.9,723.3 494.0,722.2 495.0,721.1 496.0,720.0 497.1,718.9 498.1,717.8 499.2,716.7 500.2,715.7 501.2,714.6 502.3,713.5 503.3,712.4 504.4,711.4 505.5,710.3 506.5,709.2 507.6,708.2 508.6,707.1 509.7,706.0 510.8,705.0 511.8,703.9 512.9,702.9 514.0,701.8 515.0,700.8 516.1,699.7 517.2,698.7 518.3,697.7 519.3,696.6 520.4,695.6 521.5,694.5 522.6,693.5 523.7,692.5 524.8,691.5 525.9,690.4 527.0,689.4 528.1,688.4 529.2,687.4 530.3,686.4 531.4,685.4 532.5,684.3 533.6,683.3 534.7,682.3 535.8,681.3 537.0,680.3 538.1,679.3 539.2,678.4 540.3,677.4 541.5,676.4 542.6,675.4 543.7,674.4 544.8,673.4 546.0,672.4 547.1,671.5 548.3,670.5 549.4,669.5 550.5,668.6 551.7,667.6 552.8,666.6 554.0,665.7 555.1,664.7 556.3,663.8 557.5,662.8 558.6,661.9 559.8,660.9 560.9,660.0 562.1,659.1 563.3,658.1 564.5,657.2 565.6,656.3 566.8,655.3 568.0,654.4 569.2,653.5 570.4,652.6 571.5,651.7 572.7,650.7 573.9,649.8 575.1,648.9 576.3,648.0 577.5,647.1 578.7,646.2 579.9,645.3 581.1,644.4 582.3,643.6 583.5,642.7 584.7,641.8 586.0,640.9 587.2,640.0 588.4,639.2 589.6,638.3 590.8,637.4 592.1,636.6 593.3,635.7 594.5,634.8 595.7,634.0 597.0,633.1 598.2,632.3 599.5,631.4 600.7,630.6 602.0,629.8 603.2,628.9 604.4,628.1 605.7,627.3 607.0,626.4 608.2,625.6 609.5,624.8 610.7,624.0 612.0,623.2 613.3,622.4 614.5,621.6 615.8,620.8 617.1,620.0 618.4,619.2 619.6,618.4 620.9,617.6 622.2,616.8 623.5,616.0 624.8,615.2 626.1,614.5 627.4,613.7 628.7,612.9 630.0,612.2 631.3,611.4 632.6,610.7 633.9,609.9 635.2,609.1 636.5,608.4 637.8,607.7 639.1,606.9 640.4,606.2 641.8,605.5 643.1,604.7 644.4,604.0 645.7,603.3 647.1,602.6 648.4,601.8 649.7,601.1 651.1,600.4 652.4,599.7 653.8,599.0 655.1,598.3 656.5,597.6 657.8,597.0 659.2,596.3 660.5,595.6 661.9,594.9 663.2,594.2 664.6,593.6 666.0,592.9 667.3,592.2 668.7,591.6 670.1,590.9 671.5,590.3 672.9,589.6 674.2,589.0 675.6,588.4 677.0,587.7 678.4,587.1" fill="none" stroke="#107a10" stroke-width="2.3" stroke-dasharray="8.5 3.7" stroke-linecap="butt" stroke-linejoin="round"/>
<path d="M301.4,1021.0 302.3,1019.8 303.3,1018.7 304.2,1017.5 305.1,1016.3 306.0,1015.2 307.0,1014.0 307.9,1012.8 308.8,1011.6 309.7,1010.5 310.6,1009.3 311.5,1008.1 312.5,1006.9 313.4,1005.7 314.3,1004.6 315.2,1003.4 316.1,1002.2 317.0,1001.0 317.9,999.8 318.8,998.6 319.7,997.4 320.6,996.2 321.5,995.0 322.4,993.8 323.3,992.6 324.2,991.4 325.0,990.2 325.9,989.0 326.8,987.8 327.7,986.6 328.6,985.4 329.5,984.2 330.3,982.9 331.2,981.7 332.1,980.5 333.0,979.3 333.8,978.1 334.7,976.9 335.6,975.6 336.5,974.4 337.3,973.2 338.2,972.0 339.1,970.7 339.9,969.5 340.8,968.3 341.7,967.1 342.5,965.8 343.4,964.6 344.3,963.4 345.1,962.1 346.0,960.9 346.8,959.7 347.7,958.4 348.6,957.2 349.4,956.0 350.3,954.7 351.1,953.5 352.0,952.3 352.8,951.0 353.7,949.8 354.5,948.5 355.4,947.3 356.2,946.0 357.1,944.8 357.9,943.6 358.8,942.3 359.6,941.1 360.5,939.8 361.3,938.6 362.2,937.3 363.0,936.1 363.8,934.8 364.7,933.6 365.5,932.3 366.4,931.1 367.2,929.8 368.1,928.6 368.9,927.3 369.7,926.1 370.6,924.8 371.4,923.6 372.3,922.3 373.1,921.1 373.9,919.8 374.8,918.6 375.6,917.3 376.5,916.1 377.3,914.8 378.1,913.5 379.0,912.3 379.8,911.0 380.7,909.8 381.5,908.5 382.3,907.3 383.2,906.0 384.0,904.8 384.9,903.5 385.7,902.2 386.5,901.0 387.4,899.7 388.2,898.5 389.0,897.2 389.9,896.0 390.7,894.7 391.6,893.5 392.4,892.2 393.2,890.9 394.1,889.7 394.9,888.4 395.8,887.2 396.6,885.9 397.5,884.7 398.3,883.4 399.1,882.2 400.0,880.9 400.8,879.7 401.7,878.4 402.5,877.2 403.4,875.9 404.2,874.7 405.1,873.4 405.9,872.2 406.7,870.9 407.6,869.7 408.4,868.4 409.3,867.2 410.1,865.9 411.0,864.7 411.8,863.4 412.7,862.2 413.5,860.9 414.4,859.7 415.3,858.4 416.1,857.2 417.0,856.0 417.8,854.7 418.7,853.5 419.5,852.2 420.4,851.0 421.3,849.7 422.1,848.5 423.0,847.3 423.8,846.0 424.7,844.8 425.6,843.6 426.4,842.3 427.3,841.1 428.2,839.9 429.1,838.6 429.9,837.4 430.8,836.2 431.7,835.0 432.5,833.7 433.4,832.5 434.3,831.3 435.2,830.1 436.1,828.8 436.9,827.6 437.8,826.4 438.7,825.2 439.6,824.0 440.5,822.7 441.4,821.5 442.3,820.3 443.1,819.1 444.0,817.9 444.9,816.7 445.8,815.5 446.7,814.3 447.6,813.1 448.5,811.9 449.4,810.6 450.3,809.4 451.2,808.2 452.1,807.0 453.1,805.9 454.0,804.7 454.9,803.5 455.8,802.3 456.7,801.1 457.6,799.9 458.6,798.7 459.5,797.5 460.4,796.3 461.3,795.2 462.3,794.0 463.2,792.8 464.1,791.6 465.0,790.4 466.0,789.3 466.9,788.1 467.9,786.9 468.8,785.8 469.7,784.6 470.7,783.4 471.6,782.3 472.6,781.1 473.5,779.9 474.5,778.8 475.4,777.6 476.4,776.5 477.3,775.3 478.3,774.2 479.3,773.0 480.2,771.9 481.2,770.7 482.2,769.6 483.1,768.4 484.1,767.3 485.1,766.2 486.1,765.0 487.0,763.9 488.0,762.8 489.0,761.6 490.0,760.5 491.0,759.4 491.9,758.2 492.9,757.1 493.9,756.0 494.9,754.9 495.9,753.8 496.9,752.7 497.9,751.5 498.9,750.4 499.9,749.3 500.9,748.2 501.9,747.1 502.9,746.0 503.9,744.9 505.0,743.8 506.0,742.7 507.0,741.6 508.0,740.5 509.0,739.4 510.1,738.3 511.1,737.3 512.1,736.2 513.1,735.1 514.2,734.0 515.2,732.9 516.2,731.9 517.3,730.8 518.3,729.7 519.4,728.7 520.4,727.6 521.5,726.5 522.5,725.5 523.6,724.4 524.6,723.4 525.7,722.3 526.7,721.2 527.8,720.2 528.8,719.1 529.9,718.1 531.0,717.1 532.0,716.0 533.1,715.0 534.2,713.9 535.2,712.9 536.3,711.9 537.4,710.9 538.5,709.8 539.6,708.8 540.7,707.8 541.7,706.8 542.8,705.7 543.9,704.7 545.0,703.7 546.1,702.7 547.2,701.7 548.3,700.7 549.4,699.7 550.5,698.7 551.6,697.7 552.7,696.7 553.8,695.7 555.0,694.7 556.1,693.7 557.2,692.8 558.3,691.8 559.4,690.8 560.6,689.8 561.7,688.9 562.8,687.9 564.0,686.9 565.1,685.9 566.2,685.0 567.4,684.0 568.5,683.1 569.7,682.1 570.8,681.2 571.9,680.2 573.1,679.3 574.3,678.3 575.4,677.4 576.6,676.4 577.7,675.5 578.9,674.6 580.1,673.6 581.2,672.7 582.4,671.8 583.6,670.9 584.7,670.0 585.9,669.0 587.1,668.1 588.3,667.2 589.5,666.3 590.6,665.4 591.8,664.5 593.0,663.6 594.2,662.7 595.4,661.8 596.6,660.9 597.8,660.0 599.0,659.1 600.2,658.3 601.4,657.4 602.6,656.5 603.8,655.6 605.1,654.8 606.3,653.9 607.5,653.0 608.7,652.2 609.9,651.3 611.2,650.5 612.4,649.6 613.6,648.8 614.9,647.9 616.1,647.1 617.3,646.2 618.6,645.4 619.8,644.6 621.1,643.7 622.3,642.9 623.6,642.1 624.8,641.3 626.1,640.4 627.3,639.6 628.6,638.8 629.9,638.0 631.1,637.2 632.4,636.4 633.7,635.6 635.0,634.8 636.2,634.0 637.5,633.2 638.8,632.4 640.1,631.7 641.4,630.9 642.7,630.1 644.0,629.3 645.3,628.6 646.5,627.8 647.9,627.0 649.2,626.3 650.5,625.5 651.8,624.8 653.1,624.0 654.4,623.3 655.7,622.5 657.0,621.8 658.3,621.1 659.7,620.3 661.0,619.6 662.3,618.9 663.7,618.1 665.0,617.4 666.3,616.7 667.7,616.0 669.0,615.3 670.4,614.6 671.7,613.9 673.1,613.2 674.4,612.5 675.8,611.8 677.1,611.1 678.5,610.4 679.9,609.7 681.2,609.1 682.6,608.4 684.0,607.7 685.3,607.1 686.7,606.4 688.1,605.7 689.5,605.1 690.9,604.4 692.2,603.8 693.6,603.1 695.0,602.5 696.4,601.9 697.8,601.2 699.2,600.6 700.6,600.0 702.0,599.4 703.5,598.7 704.9,598.1 706.3,597.5 707.7,596.9 709.1,596.3 710.6,595.7 712.0,595.1 713.4,594.5" fill="none" stroke="#f25020" stroke-width="2.3" stroke-dasharray="8.5 3.7" stroke-linecap="butt" stroke-linejoin="round"/>
<path d="M376.1,1021.0 377.0,1019.8 377.9,1018.6 378.7,1017.4 379.6,1016.2 380.5,1015.0 381.4,1013.8 382.2,1012.5 383.1,1011.3 384.0,1010.1 384.9,1008.9 385.7,1007.7 386.6,1006.5 387.5,1005.3 388.4,1004.1 389.3,1002.8 390.1,1001.6 391.0,1000.4 391.9,999.2 392.8,998.0 393.7,996.8 394.5,995.6 395.4,994.4 396.3,993.1 397.2,991.9 398.1,990.7 399.0,989.5 399.8,988.3 400.7,987.1 401.6,985.8 402.5,984.6 403.4,983.4 404.3,982.2 405.1,981.0 406.0,979.8 406.9,978.6 407.8,977.3 408.7,976.1 409.6,974.9 410.5,973.7 411.4,972.5 412.2,971.3 413.1,970.0 414.0,968.8 414.9,967.6 415.8,966.4 416.7,965.2 417.6,964.0 418.5,962.7 419.4,961.5 420.3,960.3 421.2,959.1 422.1,957.9 422.9,956.7 423.8,955.4 424.7,954.2 425.6,953.0 426.5,951.8 427.4,950.6 428.3,949.4 429.2,948.2 430.1,946.9 431.0,945.7 431.9,944.5 432.8,943.3 433.7,942.1 434.6,940.9 435.5,939.7 436.4,938.5 437.4,937.2 438.3,936.0 439.2,934.8 440.1,933.6 441.0,932.4 441.9,931.2 442.8,930.0 443.7,928.8 444.6,927.6 445.5,926.4 446.4,925.1 447.4,923.9 448.3,922.7 449.2,921.5 450.1,920.3 451.0,919.1 451.9,917.9 452.8,916.7 453.8,915.5 454.7,914.3 455.6,913.1 456.5,911.9 457.4,910.7 458.4,909.5 459.3,908.3 460.2,907.1 461.1,905.9 462.1,904.7 463.0,903.5 463.9,902.3 464.8,901.1 465.8,899.9 466.7,898.7 467.6,897.5 468.6,896.3 469.5,895.1 470.4,893.9 471.4,892.7 472.3,891.6 473.2,890.4 474.2,889.2 475.1,888.0 476.1,886.8 477.0,885.6 477.9,884.4 478.9,883.2 479.8,882.1 480.8,880.9 481.7,879.7 482.7,878.5 483.6,877.3 484.6,876.1 485.5,875.0 486.5,873.8 487.4,872.6 488.4,871.4 489.3,870.3 490.3,869.1 491.2,867.9 492.2,866.7 493.1,865.6 494.1,864.4 495.1,863.2 496.0,862.0 497.0,860.9 497.9,859.7 498.9,858.5 499.9,857.4 500.8,856.2 501.8,855.1 502.8,853.9 503.7,852.7 504.7,851.6 505.7,850.4 506.7,849.3 507.6,848.1 508.6,847.0 509.6,845.8 510.6,844.6 511.5,843.5 512.5,842.3 513.5,841.2 514.5,840.1 515.5,838.9 516.5,837.8 517.4,836.6 518.4,835.5 519.4,834.3 520.4,833.2 521.4,832.1 522.4,830.9 523.4,829.8 524.4,828.7 525.4,827.5 526.4,826.4 527.4,825.3 528.4,824.1 529.4,823.0 530.4,821.9 531.4,820.8 532.4,819.6 533.4,818.5 534.4,817.4 535.4,816.3 536.4,815.2 537.4,814.0 538.5,812.9 539.5,811.8 540.5,810.7 541.5,809.6 542.5,808.5 543.5,807.4 544.6,806.3 545.6,805.2 546.6,804.1 547.6,803.0 548.7,801.9 549.7,800.8 550.7,799.7 551.8,798.6 552.8,797.5 553.8,796.4 554.9,795.3 555.9,794.2 557.0,793.1 558.0,792.1 559.0,791.0 560.1,789.9 561.1,788.8 562.2,787.7 563.2,786.7 564.3,785.6 565.3,784.5 566.4,783.5 567.4,782.4 568.5,781.3 569.6,780.3 570.6,779.2 571.7,778.1 572.7,777.1 573.8,776.0 574.9,775.0 575.9,773.9 577.0,772.9 578.1,771.8 579.2,770.8 580.2,769.7 581.3,768.7 582.4,767.6 583.5,766.6 584.5,765.6 585.6,764.5 586.7,763.5 587.8,762.5 588.9,761.4 590.0,760.4 591.1,759.4 592.2,758.4 593.3,757.4 594.4,756.3 595.5,755.3 596.6,754.3 597.7,753.3 598.8,752.3 599.9,751.3 601.0,750.3 602.1,749.3 603.2,748.3 604.3,747.3 605.4,746.3 606.5,745.3 607.7,744.3 608.8,743.3 609.9,742.3 611.0,741.3 612.1,740.3 613.3,739.4 614.4,738.4 615.5,737.4 616.7,736.4 617.8,735.5 618.9,734.5 620.1,733.5 621.2,732.6 622.3,731.6 623.5,730.6 624.6,729.7 625.8,728.7 626.9,727.8 628.1,726.8 629.2,725.9 630.4,724.9 631.5,724.0 632.7,723.0 633.9,722.1 635.0,721.2 636.2,720.2 637.4,719.3 638.5,718.4 639.7,717.4 640.9,716.5 642.0,715.6 643.2,714.7 644.4,713.8 645.6,712.8 646.7,711.9 647.9,711.0 649.1,710.1 650.3,709.2 651.5,708.3 652.7,707.4 653.9,706.5 655.1,705.6 656.3,704.7 657.5,703.9 658.7,703.0 659.9,702.1 661.1,701.2 662.3,700.3 663.5,699.5 664.7,698.6 665.9,697.7 667.1,696.9 668.4,696.0 669.6,695.1 670.8,694.3 672.0,693.4 673.2,692.6 674.5,691.7 675.7,690.9 676.9,690.0 678.2,689.2 679.4,688.4 680.6,687.5 681.9,686.7 683.1,685.9 684.4,685.0 685.6,684.2 686.9,683.4 688.1,682.6 689.4,681.8 690.6,680.9 691.9,680.1 693.1,679.3 694.4,678.5 695.7,677.7 696.9,676.9 698.2,676.1 699.5,675.3 700.7,674.6 702.0,673.8 703.3,673.0 704.6,672.2 705.9,671.4 707.1,670.7 708.4,669.9 709.7,669.1 711.0,668.4 712.3,667.6 713.6,666.9 714.9,666.1 716.2,665.4 717.5,664.6 718.8,663.9 720.1,663.1 721.4,662.4 722.7,661.6 724.0,660.9 725.4,660.2 726.7,659.5 728.0,658.7 729.3,658.0 730.7,657.3 732.0,656.6 733.3,655.9 734.6,655.2 736.0,654.5 737.3,653.8 738.7,653.1 740.0,652.4 741.3,651.7 742.7,651.0 744.0,650.3 745.4,649.7 746.7,649.0 748.1,648.3 749.5,647.7 750.8,647.0 752.2,646.3 753.5,645.7 754.9,645.0 756.3,644.4 757.7,643.7 759.0,643.1 760.4,642.4 761.8,641.8 763.2,641.2 764.6,640.5 765.9,639.9 767.3,639.3 768.7,638.7 770.1,638.1 771.5,637.4 772.9,636.8 774.3,636.2 775.7,635.6 777.1,635.0 778.6,634.4 780.0,633.8 781.4,633.3 782.8,632.7 784.2,632.1 785.6,631.5 787.1,630.9 788.5,630.4 789.9,629.8 791.4,629.3 792.8,628.7 794.2,628.1 795.7,627.6 797.1,627.1 798.6,626.5 800.0,626.0 801.5,625.4 802.9,624.9 804.4,624.4 805.8,623.9 807.3,623.3 808.8,622.8 810.2,622.3 811.7,621.8" fill="none" stroke="#6e0c78" stroke-width="2.3" stroke-dasharray="8.5 3.7" stroke-linecap="butt" stroke-linejoin="round"/>
<path d="M450.2,1021.0 451.1,1019.8 452.0,1018.6 452.9,1017.4 453.8,1016.3 454.7,1015.1 455.6,1013.9 456.5,1012.7 457.4,1011.5 458.3,1010.3 459.3,1009.1 460.2,1008.0 461.1,1006.8 462.0,1005.6 462.9,1004.4 463.8,1003.2 464.7,1002.0 465.6,1000.8 466.5,999.7 467.5,998.5 468.4,997.3 469.3,996.1 470.2,994.9 471.1,993.7 472.1,992.5 473.0,991.4 473.9,990.2 474.8,989.0 475.7,987.8 476.7,986.6 477.6,985.4 478.5,984.3 479.4,983.1 480.4,981.9 481.3,980.7 482.2,979.5 483.1,978.3 484.1,977.2 485.0,976.0 485.9,974.8 486.9,973.6 487.8,972.4 488.7,971.2 489.7,970.1 490.6,968.9 491.5,967.7 492.5,966.5 493.4,965.3 494.4,964.2 495.3,963.0 496.2,961.8 497.2,960.6 498.1,959.4 499.1,958.3 500.0,957.1 501.0,955.9 501.9,954.7 502.9,953.6 503.8,952.4 504.7,951.2 505.7,950.0 506.6,948.9 507.6,947.7 508.6,946.5 509.5,945.4 510.5,944.2 511.4,943.0 512.4,941.8 513.3,940.7 514.3,939.5 515.3,938.3 516.2,937.2 517.2,936.0 518.1,934.8 519.1,933.7 520.1,932.5 521.0,931.3 522.0,930.2 523.0,929.0 523.9,927.8 524.9,926.7 525.9,925.5 526.8,924.4 527.8,923.2 528.8,922.0 529.8,920.9 530.7,919.7 531.7,918.6 532.7,917.4 533.7,916.3 534.7,915.1 535.6,914.0 536.6,912.8 537.6,911.7 538.6,910.5 539.6,909.4 540.6,908.2 541.6,907.1 542.5,905.9 543.5,904.8 544.5,903.6 545.5,902.5 546.5,901.3 547.5,900.2 548.5,899.0 549.5,897.9 550.5,896.8 551.5,895.6 552.5,894.5 553.5,893.3 554.5,892.2 555.5,891.1 556.5,889.9 557.5,888.8 558.5,887.7 559.5,886.6 560.5,885.4 561.5,884.3 562.6,883.2 563.6,882.0 564.6,880.9 565.6,879.8 566.6,878.7 567.6,877.5 568.7,876.4 569.7,875.3 570.7,874.2 571.7,873.1 572.7,872.0 573.8,870.8 574.8,869.7 575.8,868.6 576.8,867.5 577.9,866.4 578.9,865.3 579.9,864.2 581.0,863.1 582.0,862.0 583.0,860.9 584.1,859.8 585.1,858.7 586.2,857.6 587.2,856.5 588.2,855.4 589.3,854.3 590.3,853.2 591.4,852.1 592.4,851.0 593.5,849.9 594.5,848.8 595.6,847.8 596.6,846.7 597.7,845.6 598.7,844.5 599.8,843.4 600.8,842.3 601.9,841.3 603.0,840.2 604.0,839.1 605.1,838.0 606.2,837.0 607.2,835.9 608.3,834.8 609.4,833.8 610.4,832.7 611.5,831.6 612.6,830.6 613.6,829.5 614.7,828.5 615.8,827.4 616.9,826.4 618.0,825.3 619.0,824.3 620.1,823.2 621.2,822.2 622.3,821.1 623.4,820.1 624.5,819.0 625.6,818.0 626.6,816.9 627.7,815.9 628.8,814.9 629.9,813.8 631.0,812.8 632.1,811.8 633.2,810.7 634.3,809.7 635.4,808.7 636.5,807.7 637.6,806.6 638.7,805.6 639.8,804.6 641.0,803.6 642.1,802.6 643.2,801.6 644.3,800.6 645.4,799.6 646.5,798.5 647.6,797.5 648.8,796.5 649.9,795.5 651.0,794.5 652.1,793.5 653.3,792.6 654.4,791.6 655.5,790.6 656.6,789.6 657.8,788.6 658.9,787.6 660.0,786.6 661.2,785.7 662.3,784.7 663.5,783.7 664.6,782.7 665.7,781.8 666.9,780.8 668.0,779.8 669.2,778.9 670.3,777.9 671.5,776.9 672.6,776.0 673.8,775.0 675.0,774.1 676.1,773.1 677.3,772.2 678.4,771.2 679.6,770.3 680.8,769.3 681.9,768.4 683.1,767.5 684.3,766.5 685.4,765.6 686.6,764.7 687.8,763.7 688.9,762.8 690.1,761.9 691.3,761.0 692.5,760.0 693.7,759.1 694.8,758.2 696.0,757.3 697.2,756.4 698.4,755.5 699.6,754.6 700.8,753.7 702.0,752.8 703.2,751.9 704.4,751.0 705.6,750.1 706.8,749.2 708.0,748.3 709.2,747.4 710.4,746.5 711.6,745.7 712.8,744.8 714.0,743.9 715.2,743.0 716.4,742.2 717.7,741.3 718.9,740.4 720.1,739.6 721.3,738.7 722.5,737.8 723.8,737.0 725.0,736.1 726.2,735.3 727.4,734.4 728.7,733.6 729.9,732.8 731.1,731.9 732.4,731.1 733.6,730.3 734.9,729.4 736.1,728.6 737.4,727.8 738.6,727.0 739.8,726.1 741.1,725.3 742.3,724.5 743.6,723.7 744.9,722.9 746.1,722.1 747.4,721.3 748.6,720.5 749.9,719.7 751.2,718.9 752.4,718.1 753.7,717.3 755.0,716.5 756.2,715.8 757.5,715.0 758.8,714.2 760.1,713.4 761.3,712.7 762.6,711.9 763.9,711.1 765.2,710.4 766.5,709.6 767.8,708.8 769.1,708.1 770.4,707.3 771.7,706.6 772.9,705.9 774.2,705.1 775.5,704.4 776.8,703.6 778.2,702.9 779.5,702.2 780.8,701.5 782.1,700.7 783.4,700.0 784.7,699.3 786.0,698.6 787.3,697.9 788.7,697.2 790.0,696.5 791.3,695.8 792.6,695.1 794.0,694.4 795.3,693.7 796.6,693.0 798.0,692.3 799.3,691.7 800.6,691.0 802.0,690.3 803.3,689.6 804.7,689.0 806.0,688.3 807.3,687.7 808.7,687.0 810.1,686.3 811.4,685.7 812.8,685.0 814.1,684.4 815.5,683.8 816.8,683.1 818.2,682.5 819.6,681.9 820.9,681.2 822.3,680.6 823.7,680.0 825.1,679.4 826.4,678.8 827.8,678.2 829.2,677.6 830.6,677.0 832.0,676.4 833.4,675.8 834.7,675.2 836.1,674.6 837.5,674.0 838.9,673.4 840.3,672.8 841.7,672.3 843.1,671.7 844.5,671.1 845.9,670.6 847.3,670.0 848.8,669.5 850.2,668.9 851.6,668.4 853.0,667.8 854.4,667.3 855.8,666.7 857.3,666.2 858.7,665.7 860.1,665.2 861.5,664.6 863.0,664.1 864.4,663.6 865.9,663.1 867.3,662.6 868.7,662.1 870.2,661.6 871.6,661.1 873.1,660.6 874.5,660.1 876.0,659.6 877.4,659.1 878.9,658.7 880.3,658.2 881.8,657.7 883.3,657.3 884.7,656.8 886.2,656.3 887.7,655.9 889.1,655.4 890.6,655.0 892.1,654.6 893.6,654.1 895.1,653.7 896.5,653.3 898.0,652.8 899.5,652.4 901.0,652.0" fill="none" stroke="#d8a332" stroke-width="2.3" stroke-dasharray="8.5 3.7" stroke-linecap="butt" stroke-linejoin="round"/>
<path d="M116.0,1021.0 H450.2" stroke="#e08a3a" stroke-width="2.3" stroke-opacity="0.95" fill="none"/>
<rect x="88" y="570" width="311.5" height="182" rx="4" fill="#d3d3d3" fill-opacity="0.85"/>
<text x="186.49" y="588.10" font-size="19.40" fill="#000000" textLength="113.83" lengthAdjust="spacingAndGlyphs" stroke="#000000" stroke-width="0.22" >Pellet Speed</text>
<path d="M92.1,608.3 H130.1" stroke="#2f8ff0" stroke-width="2.3" stroke-dasharray="8.5 3.7" fill="none"/>
<text x="143.37" y="614.97" font-size="19.40" fill="#1414c8" textLength="91.82" lengthAdjust="spacingAndGlyphs" stroke="#1414c8" stroke-width="0.22" >0.02988 L</text>
<path d="M92.1,634.7 H130.1" stroke="#f020f0" stroke-width="2.3" stroke-dasharray="8.5 3.7" fill="none"/>
<text x="143.38" y="641.37" font-size="19.40" fill="#1414c8" textLength="68.54" lengthAdjust="spacingAndGlyphs" stroke="#1414c8" stroke-width="0.22" >0.054 L</text>
<path d="M92.1,661.0 H130.1" stroke="#107a10" stroke-width="2.3" stroke-dasharray="8.5 3.7" fill="none"/>
<text x="143.40" y="667.67" font-size="19.40" fill="#1414c8" textLength="251.36" lengthAdjust="spacingAndGlyphs" stroke="#1414c8" stroke-width="0.22" >0.0735 L (ORNL Test Stand)</text>
<path d="M92.1,687.4 H130.1" stroke="#f25020" stroke-width="2.3" stroke-dasharray="8.5 3.7" fill="none"/>
<text x="143.38" y="694.07" font-size="19.40" fill="#1414c8" textLength="80.19" lengthAdjust="spacingAndGlyphs" stroke="#1414c8" stroke-width="0.22" >0.0946 L</text>
<path d="M92.1,713.7 H130.1" stroke="#6e0c78" stroke-width="2.3" stroke-dasharray="8.5 3.7" fill="none"/>
<text x="143.40" y="720.37" font-size="19.40" fill="#1414c8" textLength="197.66" lengthAdjust="spacingAndGlyphs" stroke="#1414c8" stroke-width="0.22" >0.154 L (ITER Design)</text>
<path d="M92.1,740.0 H130.1" stroke="#d8a332" stroke-width="2.3" stroke-dasharray="8.5 3.7" fill="none"/>
<text x="143.38" y="746.67" font-size="19.40" fill="#1414c8" textLength="68.54" lengthAdjust="spacingAndGlyphs" stroke="#1414c8" stroke-width="0.22" >0.208 L</text>
<path d="M76.9,1021.0 H940.9 M76.9,964.3 H940.9 M76.9,907.5 H940.9 M76.9,850.8 H940.9 M76.9,794.1 H940.9 M76.9,737.4 H940.9 M76.9,680.6 H940.9 M76.9,623.9 H940.9 M76.9,567.2 H940.9" stroke="#d01010" stroke-opacity="0.17" stroke-width="1.2" fill="none"/>
<path d="M116.0,1021.0 117.0,1019.8 118.0,1018.7 118.9,1017.5 119.9,1016.4 120.8,1015.2 121.8,1014.0 122.7,1012.8 123.6,1011.6 124.5,1010.5 125.4,1009.3 126.3,1008.1 127.2,1006.9 128.1,1005.6 129.0,1004.4 129.8,1003.2 130.7,1002.0 131.5,1000.7 132.4,999.5 133.2,998.3 134.0,997.0 134.9,995.8 135.7,994.5 136.5,993.3 137.3,992.0 138.0,990.7 138.8,989.5 139.6,988.2 140.4,986.9 141.1,985.6 141.9,984.3 142.6,983.1 143.3,981.8 144.1,980.5 144.8,979.2 145.5,977.9 146.2,976.5 146.9,975.2 147.6,973.9 148.3,972.6 148.9,971.3 149.6,969.9 150.3,968.6 150.9,967.3 151.6,965.9 152.2,964.6 152.9,963.2 153.5,961.9 154.1,960.5 154.7,959.2 155.4,957.8 156.0,956.4 156.6,955.1 157.2,953.7 157.7,952.3 158.3,950.9 158.9,949.6 159.5,948.2 160.0,946.8 160.6,945.4 161.2,944.0 161.7,942.6 162.2,941.2 162.8,939.8 163.3,938.4 163.8,937.0 164.4,935.6 164.9,934.2 165.4,932.8 165.9,931.3 166.4,929.9 166.9,928.5 167.4,927.1 167.9,925.6 168.3,924.2 168.8,922.8 169.3,921.4 169.7,919.9 170.2,918.5 170.7,917.0 171.1,915.6 171.6,914.1 172.0,912.7 172.4,911.2 172.9,909.8 173.3,908.3 173.7,906.9 174.1,905.4 174.6,904.0 175.0,902.5 175.4,901.0 175.8,899.6 176.2,898.1 176.6,896.6 177.0,895.2 177.4,893.7 177.8,892.2 178.1,890.7 178.5,889.3 178.9,887.8 179.3,886.3 179.6,884.8 180.0,883.4 180.4,881.9 180.7,880.4 181.1,878.9 181.4,877.4 181.8,875.9 182.1,874.4 182.5,872.9 182.8,871.5 183.2,870.0 183.5,868.5 183.8,867.0 184.2,865.5 184.5,864.0 184.8,862.5 185.1,861.0 185.5,859.5 185.8,858.0 186.1,856.5 186.4,855.0 186.7,853.5 187.0,852.0 187.3,850.5 187.6,849.0 187.9,847.5 188.2,846.0 188.5,844.5 188.8,843.0 189.1,841.5 189.4,840.0 189.7,838.5 190.0,837.0 190.3,835.5 190.6,834.0 190.9,832.5 191.2,831.0 191.4,829.5 191.7,828.0 192.0,826.5 192.3,825.0 192.6,823.5 192.8,822.0 193.1,820.5 193.4,819.0 193.7,817.5 193.9,816.0 194.2,814.5 194.5,813.0 194.8,811.5 195.0,810.0 195.3,808.5 195.6,807.0 195.8,805.5 196.1,804.0 196.4,802.5 196.7,801.0 196.9,799.5 197.2,798.0 197.5,796.5 197.7,795.0 198.0,793.6 198.3,792.1 198.5,790.6 198.8,789.1 199.1,787.6 199.4,786.1 199.6,784.7 199.9,783.2 200.2,781.7 200.4,780.2 200.7,778.7 201.0,777.3 201.3,775.8 201.5,774.3 201.8,772.9 202.1,771.4 202.4,769.9 202.6,768.5 202.9,767.0 203.2,765.5 203.5,764.1 203.8,762.6 204.1,761.2 204.3,759.7 204.6,758.3 204.9,756.8 205.2,755.4 205.5,753.9 205.8,752.5 206.1,751.1 206.4,749.6 206.7,748.2 207.0,746.7 207.3,745.3 207.6,743.9 207.9,742.5 208.2,741.0 208.5,739.6 208.8,738.2 209.1,736.8 209.5,735.4 209.8,734.0 210.1,732.5 210.4,731.1 210.7,729.7 211.1,728.3 211.4,726.9 211.7,725.5 212.1,724.1 212.4,722.7 212.7,721.3 213.1,719.9 213.4,718.5 213.7,717.1 214.1,715.7 214.4,714.3 214.8,712.9 215.1,711.5 215.5,710.1 215.8,708.7 216.1,707.3 216.5,705.9 216.8,704.4 217.2,703.0 217.5,701.6 217.9,700.2 218.2,698.8 218.6,697.4 219.0,695.9 219.3,694.5 219.7,693.1 220.0,691.6 220.4,690.2 220.7,688.8 221.1,687.3 221.4,685.9 221.8,684.4 222.1,683.0 222.5,681.5 222.9,680.0 223.2,678.6 223.6,677.1 223.9,675.6 224.3,674.1 224.6,672.6 225.0,671.1 225.3,669.6 225.7,668.1 226.1,666.6 226.4,665.1 226.8,663.5 227.1,662.0 227.5,660.5 227.8,658.9 228.2,657.4 228.5,655.8 228.9,654.2 229.2,652.6 229.6,651.1 229.9,649.5 230.2,647.9 230.6,646.3 231.0,644.7 231.3,643.0 231.7,641.4 232.0,639.8 232.4,638.2 232.8,636.6 233.2,635.0 233.6,633.4 234.0,631.8 234.4,630.2 234.8,628.6 235.2,627.0 235.7,625.4 236.1,623.8 236.6,622.2 237.1,620.7 237.6,619.1 238.1,617.6 238.7,616.1 239.2,614.5 239.8,613.0 240.4,611.6 241.0,610.1 241.6,608.6 242.3,607.2 242.9,605.8 243.6,604.4 244.3,603.0 245.1,601.6 245.9,600.3 246.7,599.0 247.5,597.7 248.3,596.4 249.2,595.1 250.1,593.9 251.0,592.7 252.0,591.6 253.0,590.5 254.0,589.4 255.0,588.3 256.1,587.3 257.1,586.4 258.2,585.5 259.3,584.6 260.4,583.8 261.6,583.1 262.7,582.5 263.8,581.9 265.0,581.3 266.1,580.9 267.3,580.5 268.5,580.2 269.6,580.0 270.8,579.9 271.9,579.8 273.1,579.9 274.3,580.0 275.4,580.3 276.5,580.6 277.7,581.0 278.8,581.4 280.0,582.0 281.1,582.6 282.2,583.2 283.3,584.0 284.4,584.8 285.5,585.6 286.6,586.5 287.6,587.5 288.7,588.5 289.7,589.6 290.8,590.7 291.8,591.8 292.8,593.0 293.8,594.2 294.8,595.4 295.8,596.6 296.8,597.9 297.7,599.2 298.6,600.5 299.6,601.9 300.5,603.2 301.3,604.6 302.2,605.9 303.1,607.3 303.9,608.7 304.7,610.1 305.6,611.4 306.4,612.8 307.2,614.2 307.9,615.6 308.7,617.1 309.5,618.5 310.2,619.9 311.0,621.3 311.7,622.7 312.4,624.2 313.1,625.6 313.9,627.0 314.6,628.5 315.3,629.9 316.0,631.4 316.6,632.8 317.3,634.2 318.0,635.7 318.7,637.1 319.4,638.5 320.1,640.0 320.7,641.4 321.4,642.8 322.1,644.2 322.8,645.7 323.5,647.1 324.1,648.5 324.8,649.9 325.5,651.3 326.2,652.7 326.9,654.0 327.6,655.4 328.3,656.8 329.0,658.1 329.8,659.5 330.5,660.8 331.2,662.2 332.0,663.5 332.7,664.8 333.5,666.1 334.3,667.4 335.0,668.7 335.8,670.0 336.6,671.2 337.4,672.5 338.2,673.8 339.0,675.0 339.8,676.3 340.7,677.5 341.5,678.7 342.3,679.9 343.2,681.2 344.0,682.4 344.9,683.6 345.7,684.8 346.6,686.0 347.5,687.2 348.3,688.4 349.2,689.5 350.1,690.7 351.0,691.9 351.9,693.1 352.8,694.2 353.7,695.4 354.6,696.6 355.5,697.7 356.4,698.9 357.3,700.1 358.2,701.2 359.1,702.4 360.0,703.6 360.9,704.7 361.9,705.9 362.8,707.0 363.7,708.2 364.7,709.4 365.6,710.5 366.5,711.7 367.5,712.8 368.4,714.0 369.3,715.1 370.3,716.3 371.2,717.5 372.2,718.6 373.1,719.8 374.1,720.9 375.0,722.1 376.0,723.2 376.9,724.4 377.9,725.6 378.9,726.7 379.8,727.9 380.8,729.0 381.8,730.2 382.8,731.3 383.7,732.5 384.7,733.6 385.7,734.7 386.7,735.9 387.7,737.0 388.7,738.2 389.6,739.3 390.6,740.4 391.6,741.6 392.6,742.7 393.6,743.8 394.6,745.0 395.7,746.1 396.7,747.2 397.7,748.3 398.7,749.5 399.7,750.6 400.7,751.7 401.8,752.8 402.8,753.9 403.8,755.0 404.9,756.1 405.9,757.2 406.9,758.3 408.0,759.4 409.0,760.5 410.1,761.6 411.1,762.7 412.2,763.8 413.2,764.9 414.3,766.0 415.4,767.0 416.4,768.1 417.5,769.2 418.6,770.2 419.6,771.3 420.7,772.4 421.8,773.4 422.9,774.5 424.0,775.5 425.1,776.5 426.2,777.6 427.3,778.6 428.4,779.6 429.5,780.7 430.6,781.7 431.7,782.7 432.8,783.7 433.9,784.7 435.0,785.7 436.2,786.7 437.3,787.7 438.4,788.7 439.6,789.7 440.7,790.7 441.8,791.7 443.0,792.6 444.1,793.6 445.3,794.6 446.4,795.5 447.6,796.5 448.8,797.4 449.9,798.4 451.1,799.3 452.3,800.3 453.4,801.2 454.6,802.1 455.8,803.0 457.0,804.0 458.2,804.9 459.3,805.8 460.5,806.7 461.7,807.6 462.9,808.5 464.1,809.4 465.3,810.3 466.5,811.2 467.7,812.1 468.9,813.0 470.1,813.9 471.4,814.8 472.6,815.7 473.8,816.5 475.0,817.4 476.2,818.3 477.5,819.1 478.7,820.0 479.9,820.9 481.1,821.7 482.4,822.6 483.6,823.4 484.8,824.3 486.1,825.1 487.3,826.0 488.6,826.8 489.8,827.6 491.1,828.5 492.3,829.3 493.5,830.1 494.8,831.0 496.1,831.8 497.3,832.6 498.6,833.4 499.8,834.3 501.1,835.1 502.3,835.9 503.6,836.7 504.9,837.5 506.1,838.3 507.4,839.2 508.7,840.0 509.9,840.8 511.2,841.6 512.5,842.4 513.7,843.2 515.0,844.0 516.3,844.8 517.6,845.6 518.8,846.4 520.1,847.2 521.4,848.0 522.7,848.7 523.9,849.5 525.2,850.3 526.5,851.1 527.8,851.9 529.1,852.7 530.4,853.5 531.6,854.3 532.9,855.0 534.2,855.8 535.5,856.6 536.8,857.4 538.1,858.2 539.3,858.9 540.6,859.7 541.9,860.5 543.2,861.3 544.5,862.1 545.8,862.8 547.1,863.6 548.4,864.4 549.7,865.2 550.9,866.0 552.2,866.7 553.5,867.5 554.8,868.3 556.1,869.1 557.4,869.8 558.7,870.6 560.0,871.4 561.2,872.2 562.5,872.9 563.8,873.7 565.1,874.5 566.4,875.3 567.7,876.1 569.0,876.8 570.3,877.6 571.5,878.4 572.8,879.2 574.1,880.0 575.4,880.8 576.7,881.5 578.0,882.3 579.2,883.1 580.5,883.9 581.8,884.7 583.1,885.5 584.4,886.3 585.6,887.1 586.9,887.9 588.2,888.7 589.5,889.4 590.7,890.2 592.0,891.0 593.3,891.8 594.5,892.6 595.8,893.4 597.1,894.3 598.3,895.1 599.6,895.9 600.9,896.7 602.1,897.5 603.4,898.3" fill="none" stroke="#2f8ff0" stroke-width="2.3" stroke-linecap="butt" stroke-linejoin="round"/>
<path d="M116.0,1021.0 117.3,1020.2 118.6,1019.4 119.9,1018.6 121.2,1017.7 122.5,1016.9 123.8,1016.0 125.0,1015.2 126.3,1014.3 127.5,1013.4 128.7,1012.5 130.0,1011.7 131.2,1010.7 132.4,1009.8 133.5,1008.9 134.7,1008.0 135.9,1007.0 137.0,1006.1 138.2,1005.1 139.3,1004.2 140.4,1003.2 141.5,1002.2 142.6,1001.2 143.7,1000.2 144.8,999.2 145.9,998.2 146.9,997.2 148.0,996.2 149.0,995.1 150.1,994.1 151.1,993.0 152.1,992.0 153.1,990.9 154.1,989.8 155.1,988.8 156.0,987.7 157.0,986.6 158.0,985.5 158.9,984.4 159.9,983.2 160.8,982.1 161.7,981.0 162.6,979.8 163.5,978.7 164.4,977.6 165.3,976.4 166.2,975.2 167.1,974.1 167.9,972.9 168.8,971.7 169.6,970.5 170.5,969.3 171.3,968.1 172.1,966.9 172.9,965.7 173.7,964.5 174.5,963.2 175.3,962.0 176.1,960.8 176.9,959.5 177.7,958.3 178.4,957.0 179.2,955.7 179.9,954.5 180.7,953.2 181.4,951.9 182.1,950.6 182.8,949.4 183.6,948.1 184.3,946.8 185.0,945.5 185.6,944.1 186.3,942.8 187.0,941.5 187.7,940.2 188.3,938.9 189.0,937.5 189.7,936.2 190.3,934.8 190.9,933.5 191.6,932.1 192.2,930.8 192.8,929.4 193.4,928.0 194.0,926.7 194.6,925.3 195.2,923.9 195.8,922.5 196.4,921.2 197.0,919.8 197.6,918.4 198.1,917.0 198.7,915.6 199.3,914.2 199.8,912.7 200.4,911.3 200.9,909.9 201.5,908.5 202.0,907.1 202.5,905.6 203.0,904.2 203.6,902.8 204.1,901.3 204.6,899.9 205.1,898.5 205.6,897.0 206.1,895.6 206.6,894.1 207.1,892.7 207.6,891.2 208.0,889.7 208.5,888.3 209.0,886.8 209.5,885.3 209.9,883.9 210.4,882.4 210.8,880.9 211.3,879.5 211.7,878.0 212.2,876.5 212.6,875.0 213.1,873.5 213.5,872.0 213.9,870.5 214.4,869.1 214.8,867.6 215.2,866.1 215.6,864.6 216.1,863.1 216.5,861.6 216.9,860.1 217.3,858.6 217.7,857.1 218.1,855.6 218.5,854.1 218.9,852.5 219.3,851.0 219.7,849.5 220.1,848.0 220.5,846.5 220.9,845.0 221.2,843.5 221.6,842.0 222.0,840.5 222.4,838.9 222.8,837.4 223.1,835.9 223.5,834.4 223.9,832.9 224.3,831.4 224.6,829.8 225.0,828.3 225.4,826.8 225.7,825.3 226.1,823.8 226.5,822.3 226.8,820.7 227.2,819.2 227.6,817.7 227.9,816.2 228.3,814.7 228.6,813.2 229.0,811.7 229.3,810.1 229.7,808.6 230.1,807.1 230.4,805.6 230.8,804.1 231.1,802.6 231.5,801.1 231.8,799.6 232.2,798.1 232.6,796.5 232.9,795.0 233.3,793.5 233.6,792.0 234.0,790.5 234.3,789.0 234.7,787.5 235.0,786.0 235.4,784.6 235.8,783.1 236.1,781.6 236.5,780.1 236.8,778.6 237.2,777.1 237.6,775.6 237.9,774.1 238.3,772.7 238.7,771.2 239.0,769.7 239.4,768.2 239.8,766.8 240.1,765.3 240.5,763.8 240.9,762.4 241.3,760.9 241.6,759.5 242.0,758.0 242.4,756.5 242.8,755.1 243.2,753.7 243.6,752.2 244.0,750.8 244.3,749.3 244.7,747.9 245.1,746.5 245.5,745.0 245.9,743.6 246.3,742.2 246.8,740.8 247.2,739.4 247.6,738.0 248.0,736.6 248.4,735.2 248.8,733.8 249.3,732.4 249.7,731.0 250.1,729.6 250.5,728.2 251.0,726.8 251.4,725.4 251.8,724.0 252.3,722.7 252.7,721.3 253.2,719.9 253.6,718.6 254.1,717.2 254.5,715.8 255.0,714.5 255.5,713.1 255.9,711.7 256.4,710.4 256.9,709.0 257.3,707.7 257.8,706.3 258.3,705.0 258.8,703.6 259.3,702.3 259.7,700.9 260.2,699.6 260.7,698.2 261.2,696.9 261.7,695.5 262.2,694.2 262.7,692.8 263.2,691.5 263.7,690.2 264.2,688.8 264.8,687.5 265.3,686.1 265.8,684.8 266.3,683.4 266.8,682.1 267.4,680.7 267.9,679.4 268.4,678.0 269.0,676.7 269.5,675.3 270.0,674.0 270.6,672.6 271.1,671.3 271.7,669.9 272.2,668.6 272.8,667.2 273.3,665.9 273.9,664.5 274.5,663.1 275.0,661.8 275.6,660.4 276.2,659.0 276.7,657.7 277.3,656.3 277.9,654.9 278.5,653.5 279.1,652.1 279.7,650.8 280.2,649.4 280.9,648.0 281.5,646.6 282.1,645.2 282.7,643.8 283.4,642.3 284.0,640.9 284.7,639.5 285.4,638.0 286.1,636.6 286.9,635.1 287.6,633.6 288.4,632.1 289.2,630.7 290.0,629.1 290.9,627.6 291.8,626.1 292.7,624.5 293.6,623.0 294.6,621.5 295.6,619.9 296.6,618.5 297.6,617.0 298.7,615.6 299.8,614.3 300.9,613.1 302.0,611.9 303.1,610.9 304.3,609.9 305.4,609.1 306.6,608.3 307.8,607.7 309.0,607.1 310.2,606.7 311.4,606.3 312.7,606.0 313.9,605.8 315.2,605.6 316.4,605.6 317.7,605.6 319.0,605.7 320.2,605.9 321.5,606.1 322.8,606.4 324.1,606.8 325.4,607.2 326.7,607.7 328.0,608.3 329.3,608.9 330.5,609.5 331.8,610.2 333.1,611.0 334.4,611.8 335.7,612.6 336.9,613.5 338.2,614.4 339.5,615.4 340.7,616.4 341.9,617.4 343.2,618.4 344.4,619.5 345.6,620.6 346.8,621.7 348.0,622.8 349.1,624.0 350.3,625.1 351.4,626.3 352.6,627.5 353.7,628.7 354.8,629.9 355.8,631.1 356.9,632.3 357.9,633.5 358.9,634.7 359.9,635.9 360.9,637.1 361.9,638.3 362.8,639.5 363.8,640.7 364.7,641.9 365.6,643.1 366.5,644.3 367.4,645.5 368.3,646.7 369.1,647.9 370.0,649.2 370.8,650.4 371.7,651.6 372.5,652.8 373.3,654.0 374.2,655.2 375.0,656.5 375.8,657.7 376.6,658.9 377.4,660.1 378.2,661.4 379.0,662.6 379.8,663.8 380.5,665.1 381.3,666.3 382.1,667.5 382.9,668.8 383.7,670.0 384.5,671.3 385.3,672.5 386.1,673.8 386.9,675.0 387.7,676.3 388.5,677.5 389.3,678.8 390.1,680.0 390.9,681.3 391.7,682.5 392.5,683.8 393.4,685.1 394.2,686.3 395.0,687.6 395.9,688.8 396.7,690.1 397.6,691.3 398.4,692.6 399.3,693.8 400.1,695.1 401.0,696.3 401.8,697.6 402.7,698.8 403.6,700.1 404.5,701.3 405.3,702.6 406.2,703.8 407.1,705.0 408.0,706.2 408.9,707.5 409.8,708.7 410.7,709.9 411.6,711.1 412.6,712.3 413.5,713.5 414.4,714.7 415.3,715.9 416.3,717.1 417.2,718.3 418.2,719.5 419.1,720.6 420.1,721.8 421.0,723.0 422.0,724.1 423.0,725.3 424.0,726.4 425.0,727.5 425.9,728.7 426.9,729.8 427.9,730.9 428.9,732.0 429.9,733.1 430.9,734.2 432.0,735.3 433.0,736.4 434.0,737.5 435.0,738.6 436.1,739.7 437.1,740.8 438.1,741.9 439.2,742.9 440.2,744.0 441.3,745.1 442.3,746.1 443.4,747.2 444.4,748.2 445.5,749.3 446.6,750.3 447.6,751.4 448.7,752.4 449.8,753.5 450.8,754.5 451.9,755.5 453.0,756.6 454.1,757.6 455.2,758.6 456.3,759.6 457.4,760.7 458.5,761.7 459.5,762.7 460.6,763.7 461.7,764.7 462.8,765.7 464.0,766.7 465.1,767.7 466.2,768.7 467.3,769.7 468.4,770.7 469.5,771.7 470.6,772.7 471.7,773.7 472.9,774.7 474.0,775.7 475.1,776.7 476.2,777.7 477.3,778.7 478.5,779.7 479.6,780.7 480.7,781.6 481.8,782.6 483.0,783.6 484.1,784.6 485.2,785.6 486.3,786.6 487.5,787.6 488.6,788.5 489.7,789.5 490.9,790.5 492.0,791.5 493.1,792.5 494.2,793.5 495.4,794.5 496.5,795.4 497.6,796.4 498.8,797.4 499.9,798.4 501.0,799.4 502.1,800.4 503.3,801.4 504.4,802.4 505.5,803.4 506.7,804.4 507.8,805.4 508.9,806.4 510.0,807.4 511.2,808.3 512.3,809.3 513.4,810.3 514.5,811.3 515.7,812.3 516.8,813.3 517.9,814.3 519.1,815.3 520.2,816.3 521.3,817.3 522.5,818.3 523.6,819.3 524.7,820.3 525.8,821.2 527.0,822.2 528.1,823.2 529.3,824.2 530.4,825.2 531.5,826.2 532.7,827.2 533.8,828.1 534.9,829.1 536.1,830.1 537.2,831.1 538.4,832.0 539.5,833.0 540.7,834.0 541.8,835.0 543.0,835.9 544.1,836.9 545.3,837.9 546.4,838.8 547.6,839.8 548.7,840.7 549.9,841.7 551.0,842.6 552.2,843.6 553.4,844.5 554.5,845.5 555.7,846.4 556.9,847.3 558.0,848.3 559.2,849.2 560.4,850.1 561.5,851.1 562.7,852.0 563.9,852.9 565.1,853.8 566.3,854.7 567.5,855.6 568.6,856.6 569.8,857.5 571.0,858.4 572.2,859.2 573.4,860.1 574.6,861.0 575.8,861.9 577.0,862.8 578.3,863.7 579.5,864.5 580.7,865.4 581.9,866.3 583.1,867.1 584.3,868.0 585.6,868.8 586.8,869.7 588.0,870.5 589.3,871.3 590.5,872.2 591.7,873.0 593.0,873.8 594.2,874.6 595.5,875.4 596.8,876.2 598.0,877.0 599.3,877.8 600.5,878.6 601.8,879.4 603.1,880.2 604.4,880.9 605.6,881.7 606.9,882.5 608.2,883.2 609.5,884.0 610.8,884.7 612.1,885.4 613.4,886.2 614.7,886.9 616.0,887.6 617.3,888.3 618.6,889.0 620.0,889.7 621.3,890.4 622.6,891.1 624.0,891.8 625.3,892.4 626.7,893.1 628.0,893.7 629.4,894.4 630.7,895.0 632.1,895.7 633.4,896.3 634.8,896.9 636.2,897.5 637.6,898.1 639.0,898.7 640.3,899.3 641.7,899.9 643.1,900.5 644.6,901.0 646.0,901.6 647.4,902.2 648.8,902.7" fill="none" stroke="#f020f0" stroke-width="2.3" stroke-linecap="butt" stroke-linejoin="round"/>
<path d="M116.0,1021.0 117.5,1020.5 118.9,1019.9 120.3,1019.4 121.8,1018.8 123.2,1018.2 124.6,1017.6 126.0,1017.0 127.3,1016.4 128.7,1015.7 130.0,1015.1 131.4,1014.4 132.7,1013.7 134.0,1013.0 135.3,1012.2 136.6,1011.5 137.9,1010.7 139.2,1009.9 140.4,1009.2 141.7,1008.4 142.9,1007.5 144.1,1006.7 145.4,1005.9 146.6,1005.0 147.8,1004.1 148.9,1003.2 150.1,1002.3 151.3,1001.4 152.4,1000.5 153.6,999.6 154.7,998.6 155.8,997.7 156.9,996.7 158.0,995.7 159.1,994.7 160.2,993.7 161.3,992.7 162.4,991.7 163.4,990.6 164.5,989.6 165.5,988.5 166.5,987.4 167.6,986.4 168.6,985.3 169.6,984.2 170.6,983.1 171.5,981.9 172.5,980.8 173.5,979.7 174.4,978.5 175.4,977.4 176.3,976.2 177.3,975.0 178.2,973.9 179.1,972.7 180.0,971.5 180.9,970.3 181.8,969.1 182.7,967.8 183.6,966.6 184.5,965.4 185.3,964.1 186.2,962.9 187.1,961.6 187.9,960.4 188.7,959.1 189.6,957.8 190.4,956.6 191.2,955.3 192.0,954.0 192.8,952.7 193.6,951.4 194.4,950.1 195.2,948.8 196.0,947.5 196.8,946.2 197.5,944.9 198.3,943.6 199.1,942.2 199.8,940.9 200.5,939.6 201.3,938.2 202.0,936.9 202.8,935.6 203.5,934.2 204.2,932.9 204.9,931.5 205.6,930.2 206.3,928.8 207.0,927.5 207.7,926.1 208.4,924.8 209.1,923.4 209.8,922.0 210.5,920.7 211.1,919.3 211.8,917.9 212.5,916.6 213.1,915.2 213.8,913.8 214.4,912.5 215.1,911.1 215.7,909.7 216.4,908.3 217.0,907.0 217.6,905.6 218.3,904.2 218.9,902.8 219.5,901.4 220.1,900.1 220.7,898.7 221.3,897.3 221.9,895.9 222.5,894.5 223.1,893.1 223.7,891.7 224.3,890.3 224.9,888.9 225.5,887.5 226.0,886.1 226.6,884.7 227.2,883.3 227.8,881.9 228.3,880.5 228.9,879.1 229.4,877.7 230.0,876.3 230.5,874.9 231.1,873.5 231.6,872.1 232.2,870.7 232.7,869.3 233.3,867.9 233.8,866.5 234.3,865.1 234.9,863.6 235.4,862.2 235.9,860.8 236.4,859.4 237.0,858.0 237.5,856.6 238.0,855.2 238.5,853.7 239.0,852.3 239.5,850.9 240.0,849.5 240.5,848.1 241.0,846.7 241.5,845.2 242.0,843.8 242.5,842.4 243.0,841.0 243.5,839.6 244.0,838.1 244.5,836.7 245.0,835.3 245.4,833.9 245.9,832.4 246.4,831.0 246.9,829.6 247.4,828.2 247.8,826.8 248.3,825.3 248.8,823.9 249.2,822.5 249.7,821.1 250.2,819.6 250.6,818.2 251.1,816.8 251.6,815.4 252.0,814.0 252.5,812.5 253.0,811.1 253.4,809.7 253.9,808.3 254.3,806.9 254.8,805.4 255.3,804.0 255.7,802.6 256.2,801.2 256.6,799.8 257.1,798.3 257.5,796.9 258.0,795.5 258.4,794.1 258.9,792.7 259.3,791.3 259.8,789.9 260.2,788.4 260.7,787.0 261.1,785.6 261.6,784.2 262.1,782.8 262.5,781.4 263.0,780.0 263.4,778.6 263.9,777.1 264.3,775.7 264.8,774.3 265.2,772.9 265.7,771.5 266.1,770.1 266.6,768.7 267.0,767.3 267.5,765.9 267.9,764.5 268.4,763.1 268.8,761.7 269.3,760.3 269.7,758.9 270.2,757.5 270.7,756.1 271.1,754.8 271.6,753.4 272.0,752.0 272.5,750.6 273.0,749.2 273.4,747.8 273.9,746.4 274.3,745.0 274.8,743.7 275.3,742.3 275.7,740.9 276.2,739.5 276.7,738.2 277.2,736.8 277.6,735.4 278.1,734.0 278.6,732.7 279.1,731.3 279.5,729.9 280.0,728.6 280.5,727.2 281.0,725.8 281.5,724.4 282.0,723.1 282.5,721.7 283.0,720.3 283.5,718.9 284.0,717.6 284.5,716.2 285.1,714.8 285.6,713.4 286.1,712.0 286.7,710.6 287.2,709.2 287.8,707.8 288.3,706.4 288.9,704.9 289.4,703.5 290.0,702.1 290.6,700.6 291.2,699.2 291.8,697.7 292.4,696.3 293.0,694.8 293.6,693.3 294.2,691.8 294.8,690.3 295.5,688.8 296.1,687.3 296.8,685.8 297.4,684.2 298.1,682.7 298.8,681.1 299.5,679.6 300.2,678.0 300.9,676.4 301.6,674.8 302.4,673.2 303.1,671.6 303.9,670.1 304.6,668.5 305.4,666.9 306.2,665.3 307.0,663.7 307.8,662.2 308.6,660.6 309.4,659.1 310.3,657.6 311.1,656.1 312.0,654.6 312.9,653.1 313.8,651.7 314.7,650.3 315.6,648.9 316.5,647.6 317.5,646.2 318.4,645.0 319.4,643.7 320.4,642.5 321.4,641.3 322.4,640.2 323.4,639.1 324.5,638.1 325.5,637.1 326.6,636.1 327.7,635.2 328.8,634.4 329.9,633.6 331.0,632.8 332.2,632.1 333.4,631.5 334.5,631.0 335.7,630.5 336.9,630.0 338.2,629.7 339.4,629.3 340.6,629.1 341.9,628.8 343.2,628.7 344.5,628.6 345.7,628.5 347.0,628.5 348.4,628.5 349.7,628.6 351.0,628.8 352.3,628.9 353.6,629.2 355.0,629.4 356.3,629.7 357.7,630.1 359.0,630.4 360.3,630.9 361.7,631.3 363.0,631.8 364.4,632.3 365.7,632.9 367.1,633.5 368.4,634.1 369.7,634.8 371.1,635.5 372.4,636.2 373.7,636.9 375.0,637.7 376.3,638.4 377.6,639.3 378.9,640.1 380.2,640.9 381.5,641.8 382.7,642.7 384.0,643.6 385.2,644.5 386.4,645.5 387.6,646.4 388.8,647.4 390.0,648.3 391.2,649.3 392.4,650.3 393.5,651.4 394.7,652.4 395.8,653.4 396.9,654.5 398.0,655.6 399.1,656.6 400.2,657.7 401.3,658.8 402.4,659.9 403.4,661.0 404.5,662.2 405.5,663.3 406.5,664.4 407.6,665.6 408.6,666.8 409.6,667.9 410.6,669.1 411.6,670.3 412.6,671.5 413.6,672.7 414.6,673.9 415.5,675.1 416.5,676.3 417.5,677.5 418.4,678.7 419.4,680.0 420.3,681.2 421.3,682.4 422.2,683.7 423.2,684.9 424.1,686.1 425.0,687.4 426.0,688.6 426.9,689.9 427.8,691.1 428.7,692.4 429.6,693.6 430.6,694.9 431.5,696.2 432.4,697.4 433.3,698.7 434.2,699.9 435.1,701.2 436.1,702.4 437.0,703.7 437.9,704.9 438.8,706.1 439.7,707.4 440.6,708.6 441.6,709.8 442.5,711.1 443.4,712.3 444.3,713.5 445.3,714.7 446.2,715.9 447.1,717.1 448.1,718.3 449.0,719.5 450.0,720.7 450.9,721.9 451.9,723.0 452.8,724.2 453.8,725.3 454.8,726.5 455.7,727.6 456.7,728.8 457.7,729.9 458.7,731.0 459.6,732.2 460.6,733.3 461.6,734.4 462.6,735.5 463.6,736.6 464.6,737.7 465.6,738.8 466.6,739.9 467.6,741.0 468.6,742.1 469.6,743.2 470.6,744.3 471.6,745.3 472.7,746.4 473.7,747.5 474.7,748.6 475.7,749.6 476.7,750.7 477.8,751.8 478.8,752.8 479.8,753.9 480.9,754.9 481.9,756.0 482.9,757.1 484.0,758.1 485.0,759.2 486.0,760.2 487.1,761.3 488.1,762.3 489.2,763.4 490.2,764.4 491.2,765.5 492.3,766.5 493.3,767.6 494.4,768.6 495.4,769.7 496.5,770.7 497.5,771.8 498.6,772.9 499.6,773.9 500.7,775.0 501.7,776.0 502.8,777.1 503.8,778.2 504.9,779.2 505.9,780.3 507.0,781.3 508.0,782.4 509.1,783.5 510.1,784.5 511.2,785.6 512.2,786.7 513.3,787.7 514.3,788.8 515.4,789.9 516.4,790.9 517.5,792.0 518.6,793.1 519.6,794.1 520.7,795.2 521.8,796.3 522.8,797.3 523.9,798.4 525.0,799.5 526.0,800.5 527.1,801.6 528.2,802.7 529.2,803.7 530.3,804.8 531.4,805.9 532.5,806.9 533.5,808.0 534.6,809.0 535.7,810.1 536.8,811.1 537.9,812.2 538.9,813.2 540.0,814.3 541.1,815.3 542.2,816.4 543.3,817.4 544.4,818.5 545.5,819.5 546.6,820.5 547.7,821.6 548.8,822.6 549.9,823.6 551.0,824.7 552.1,825.7 553.2,826.7 554.3,827.7 555.5,828.8 556.6,829.8 557.7,830.8 558.8,831.8 559.9,832.8 561.1,833.8 562.2,834.8 563.3,835.8 564.5,836.8 565.6,837.8 566.7,838.8 567.9,839.8 569.0,840.7 570.2,841.7 571.3,842.7 572.5,843.7 573.6,844.6 574.8,845.6 575.9,846.5 577.1,847.5 578.3,848.4 579.4,849.4 580.6,850.3 581.8,851.2 583.0,852.2 584.2,853.1 585.3,854.0 586.5,854.9 587.7,855.8 588.9,856.7 590.1,857.6 591.3,858.5 592.5,859.4 593.7,860.3 594.9,861.2 596.2,862.1 597.4,862.9 598.6,863.8 599.8,864.7 601.1,865.5 602.3,866.4 603.5,867.2 604.8,868.0 606.0,868.9 607.3,869.7 608.5,870.5 609.8,871.3 611.0,872.1 612.3,872.9 613.6,873.7 614.8,874.5 616.1,875.2 617.4,876.0 618.7,876.8 620.0,877.5 621.3,878.3 622.6,879.0 623.9,879.8 625.2,880.5 626.5,881.2 627.8,881.9 629.1,882.6 630.4,883.3 631.8,884.0 633.1,884.7 634.4,885.4 635.8,886.0 637.1,886.7 638.5,887.3 639.8,888.0 641.2,888.6 642.6,889.2 643.9,889.9 645.3,890.5 646.7,891.1 648.1,891.7 649.5,892.2 650.9,892.8 652.3,893.4 653.7,893.9 655.1,894.5 656.5,895.0 657.9,895.6 659.4,896.1 660.8,896.6 662.2,897.1 663.7,897.6 665.1,898.1 666.6,898.6 668.0,899.0 669.5,899.5 671.0,899.9 672.4,900.4 673.9,900.8 675.4,901.2 676.9,901.6 678.4,902.0" fill="none" stroke="#107a10" stroke-width="2.3" stroke-linecap="butt" stroke-linejoin="round"/>
<path d="M116.0,1021.0 117.5,1020.6 119.0,1020.2 120.5,1019.8 121.9,1019.4 123.4,1019.0 124.9,1018.5 126.3,1018.1 127.7,1017.6 129.2,1017.1 130.6,1016.5 132.0,1016.0 133.4,1015.4 134.8,1014.9 136.1,1014.3 137.5,1013.7 138.9,1013.0 140.2,1012.4 141.6,1011.7 142.9,1011.1 144.2,1010.4 145.6,1009.7 146.9,1009.0 148.2,1008.3 149.5,1007.5 150.7,1006.8 152.0,1006.0 153.3,1005.2 154.5,1004.4 155.8,1003.6 157.0,1002.8 158.3,1001.9 159.5,1001.1 160.7,1000.2 161.9,999.4 163.1,998.5 164.3,997.6 165.5,996.7 166.7,995.8 167.8,994.8 169.0,993.9 170.2,992.9 171.3,992.0 172.4,991.0 173.6,990.0 174.7,989.0 175.8,988.0 176.9,987.0 178.0,985.9 179.1,984.9 180.2,983.9 181.3,982.8 182.4,981.7 183.4,980.7 184.5,979.6 185.5,978.5 186.6,977.4 187.6,976.3 188.6,975.2 189.7,974.1 190.7,972.9 191.7,971.8 192.7,970.6 193.7,969.5 194.7,968.3 195.6,967.2 196.6,966.0 197.6,964.8 198.6,963.6 199.5,962.5 200.5,961.3 201.4,960.1 202.3,958.9 203.3,957.6 204.2,956.4 205.1,955.2 206.0,954.0 206.9,952.8 207.8,951.5 208.7,950.3 209.6,949.0 210.5,947.8 211.4,946.5 212.2,945.3 213.1,944.0 213.9,942.8 214.8,941.5 215.6,940.3 216.5,939.0 217.3,937.7 218.1,936.5 219.0,935.2 219.8,933.9 220.6,932.6 221.4,931.4 222.2,930.1 223.0,928.8 223.8,927.5 224.6,926.2 225.4,925.0 226.1,923.7 226.9,922.4 227.7,921.1 228.4,919.8 229.2,918.6 229.9,917.3 230.7,916.0 231.4,914.7 232.2,913.4 232.9,912.1 233.6,910.8 234.4,909.5 235.1,908.2 235.8,906.9 236.5,905.7 237.2,904.4 237.9,903.1 238.6,901.8 239.3,900.5 240.0,899.2 240.7,897.9 241.3,896.6 242.0,895.2 242.7,893.9 243.4,892.6 244.0,891.3 244.7,890.0 245.3,888.7 246.0,887.4 246.6,886.1 247.3,884.8 247.9,883.4 248.6,882.1 249.2,880.8 249.8,879.5 250.4,878.2 251.1,876.8 251.7,875.5 252.3,874.2 252.9,872.8 253.5,871.5 254.1,870.2 254.7,868.8 255.3,867.5 255.9,866.2 256.5,864.8 257.1,863.5 257.7,862.1 258.3,860.8 258.9,859.4 259.4,858.1 260.0,856.7 260.6,855.4 261.2,854.0 261.7,852.7 262.3,851.3 262.9,850.0 263.4,848.6 264.0,847.2 264.5,845.9 265.1,844.5 265.6,843.1 266.2,841.8 266.7,840.4 267.3,839.0 267.8,837.6 268.4,836.2 268.9,834.9 269.4,833.5 270.0,832.1 270.5,830.7 271.0,829.3 271.6,827.9 272.1,826.5 272.6,825.1 273.1,823.7 273.7,822.3 274.2,820.9 274.7,819.5 275.2,818.1 275.7,816.7 276.2,815.3 276.8,813.8 277.3,812.4 277.8,811.0 278.3,809.6 278.8,808.1 279.3,806.7 279.8,805.3 280.3,803.8 280.8,802.4 281.3,801.0 281.8,799.5 282.3,798.1 282.8,796.6 283.3,795.2 283.8,793.7 284.3,792.3 284.8,790.8 285.3,789.3 285.8,787.9 286.3,786.4 286.8,784.9 287.3,783.5 287.8,782.0 288.3,780.5 288.8,779.0 289.3,777.6 289.8,776.1 290.2,774.6 290.7,773.1 291.2,771.6 291.7,770.1 292.2,768.6 292.7,767.1 293.2,765.7 293.7,764.2 294.3,762.7 294.8,761.2 295.3,759.7 295.8,758.2 296.3,756.7 296.8,755.2 297.3,753.7 297.9,752.3 298.4,750.8 298.9,749.3 299.5,747.8 300.0,746.3 300.5,744.8 301.1,743.4 301.6,741.9 302.2,740.4 302.8,739.0 303.3,737.5 303.9,736.0 304.5,734.6 305.0,733.1 305.6,731.7 306.2,730.2 306.8,728.8 307.4,727.4 308.0,725.9 308.6,724.5 309.2,723.1 309.9,721.7 310.5,720.3 311.1,718.9 311.8,717.5 312.4,716.1 313.1,714.7 313.8,713.3 314.4,711.9 315.1,710.6 315.8,709.2 316.5,707.9 317.2,706.5 317.9,705.2 318.7,703.8 319.4,702.5 320.1,701.2 320.9,699.9 321.6,698.6 322.4,697.3 323.2,696.0 324.0,694.8 324.8,693.5 325.6,692.3 326.4,691.0 327.2,689.8 328.1,688.6 328.9,687.3 329.8,686.1 330.7,684.9 331.5,683.8 332.4,682.6 333.3,681.4 334.3,680.3 335.2,679.1 336.1,678.0 337.1,676.9 338.0,675.8 339.0,674.7 340.0,673.6 341.0,672.6 342.0,671.5 343.1,670.5 344.1,669.5 345.2,668.4 346.2,667.4 347.3,666.5 348.4,665.5 349.5,664.5 350.6,663.6 351.8,662.7 352.9,661.8 354.1,660.9 355.3,660.0 356.5,659.2 357.6,658.3 358.9,657.5 360.1,656.8 361.3,656.0 362.5,655.3 363.8,654.6 365.1,654.0 366.3,653.4 367.6,652.8 368.9,652.2 370.2,651.7 371.5,651.2 372.8,650.8 374.1,650.4 375.4,650.1 376.7,649.8 378.1,649.5 379.4,649.3 380.7,649.1 382.1,649.0 383.4,649.0 384.8,648.9 386.1,649.0 387.5,649.1 388.8,649.2 390.2,649.4 391.5,649.7 392.9,650.0 394.3,650.4 395.6,650.9 397.0,651.4 398.3,651.9 399.7,652.5 401.1,653.2 402.4,653.9 403.8,654.6 405.1,655.4 406.4,656.2 407.8,657.1 409.1,658.0 410.4,658.9 411.8,659.9 413.1,660.9 414.4,661.9 415.7,662.9 417.0,663.9 418.3,665.0 419.6,666.1 420.8,667.1 422.1,668.2 423.3,669.3 424.6,670.4 425.8,671.5 427.0,672.6 428.2,673.8 429.4,674.9 430.6,676.0 431.7,677.1 432.9,678.2 434.0,679.3 435.2,680.4 436.3,681.5 437.4,682.6 438.6,683.8 439.7,684.9 440.8,686.0 441.9,687.1 443.0,688.2 444.0,689.3 445.1,690.4 446.2,691.6 447.2,692.7 448.3,693.8 449.3,694.9 450.4,696.0 451.4,697.1 452.5,698.2 453.5,699.3 454.6,700.5 455.6,701.6 456.6,702.7 457.6,703.8 458.7,704.9 459.7,706.0 460.7,707.1 461.7,708.2 462.8,709.3 463.8,710.4 464.8,711.5 465.8,712.6 466.8,713.7 467.9,714.8 468.9,715.9 469.9,717.0 470.9,718.1 471.9,719.2 472.9,720.3 473.9,721.3 475.0,722.4 476.0,723.5 477.0,724.6 478.0,725.7 479.0,726.8 480.0,727.9 481.0,729.0 482.0,730.0 483.1,731.1 484.1,732.2 485.1,733.3 486.1,734.4 487.1,735.5 488.1,736.6 489.1,737.6 490.1,738.7 491.1,739.8 492.1,740.9 493.2,742.0 494.2,743.0 495.2,744.1 496.2,745.2 497.2,746.3 498.2,747.4 499.2,748.5 500.2,749.5 501.2,750.6 502.2,751.7 503.3,752.8 504.3,753.9 505.3,754.9 506.3,756.0 507.3,757.1 508.3,758.2 509.3,759.3 510.4,760.4 511.4,761.4 512.4,762.5 513.4,763.6 514.4,764.7 515.4,765.8 516.5,766.9 517.5,767.9 518.5,769.0 519.5,770.1 520.6,771.2 521.6,772.3 522.6,773.4 523.6,774.5 524.7,775.6 525.7,776.7 526.7,777.7 527.7,778.8 528.8,779.9 529.8,781.0 530.8,782.1 531.9,783.2 532.9,784.3 534.0,785.4 535.0,786.4 536.0,787.5 537.1,788.6 538.1,789.7 539.2,790.8 540.2,791.9 541.3,793.0 542.3,794.0 543.4,795.1 544.4,796.2 545.5,797.3 546.5,798.4 547.6,799.4 548.6,800.5 549.7,801.6 550.8,802.7 551.8,803.7 552.9,804.8 554.0,805.9 555.0,806.9 556.1,808.0 557.2,809.1 558.2,810.1 559.3,811.2 560.4,812.2 561.5,813.3 562.6,814.3 563.7,815.4 564.7,816.4 565.8,817.5 566.9,818.5 568.0,819.6 569.1,820.6 570.2,821.7 571.3,822.7 572.4,823.7 573.5,824.7 574.6,825.8 575.8,826.8 576.9,827.8 578.0,828.8 579.1,829.8 580.2,830.8 581.3,831.9 582.5,832.9 583.6,833.9 584.7,834.9 585.9,835.8 587.0,836.8 588.1,837.8 589.3,838.8 590.4,839.8 591.6,840.8 592.7,841.7 593.9,842.7 595.0,843.7 596.2,844.6 597.4,845.6 598.5,846.5 599.7,847.5 600.9,848.4 602.0,849.3 603.2,850.3 604.4,851.2 605.6,852.1 606.8,853.0 608.0,853.9 609.2,854.9 610.4,855.8 611.6,856.7 612.8,857.5 614.0,858.4 615.2,859.3 616.4,860.2 617.6,861.1 618.8,861.9 620.1,862.8 621.3,863.7 622.5,864.5 623.8,865.3 625.0,866.2 626.2,867.0 627.5,867.8 628.7,868.7 630.0,869.5 631.3,870.3 632.5,871.1 633.8,871.9 635.1,872.7 636.3,873.5 637.6,874.2 638.9,875.0 640.2,875.8 641.5,876.5 642.8,877.3 644.1,878.0 645.4,878.8 646.7,879.5 648.0,880.2 649.3,881.0 650.6,881.7 651.9,882.4 653.3,883.1 654.6,883.8 655.9,884.4 657.3,885.1 658.6,885.8 660.0,886.4 661.3,887.1 662.7,887.7 664.0,888.4 665.4,889.0 666.8,889.6 668.2,890.2 669.5,890.8 670.9,891.4 672.3,892.0 673.7,892.6 675.1,893.2 676.5,893.8 677.9,894.3 679.3,894.9 680.8,895.4 682.2,895.9 683.6,896.5 685.1,897.0 686.5,897.5 687.9,898.0 689.4,898.5 690.8,898.9 692.3,899.4 693.8,899.9 695.2,900.3 696.7,900.8 698.2,901.2 699.7,901.6 701.2,902.0 702.7,902.4 704.2,902.8 705.7,903.2 707.2,903.6 708.7,904.0 710.2,904.3 711.8,904.7 713.3,905.0" fill="none" stroke="#f25020" stroke-width="2.3" stroke-linecap="butt" stroke-linejoin="round"/>
<path d="M116.0,1021.0 117.5,1020.6 119.0,1020.2 120.4,1019.8 121.9,1019.4 123.4,1018.9 124.8,1018.5 126.2,1018.0 127.7,1017.6 129.1,1017.1 130.5,1016.6 132.0,1016.1 133.4,1015.6 134.8,1015.0 136.2,1014.5 137.6,1014.0 139.0,1013.4 140.4,1012.9 141.7,1012.3 143.1,1011.7 144.5,1011.1 145.8,1010.5 147.2,1009.9 148.6,1009.3 149.9,1008.7 151.2,1008.0 152.6,1007.4 153.9,1006.7 155.2,1006.1 156.5,1005.4 157.9,1004.7 159.2,1004.0 160.5,1003.3 161.8,1002.6 163.0,1001.9 164.3,1001.1 165.6,1000.4 166.9,999.7 168.2,998.9 169.4,998.1 170.7,997.4 171.9,996.6 173.2,995.8 174.4,995.0 175.7,994.2 176.9,993.4 178.1,992.6 179.4,991.8 180.6,990.9 181.8,990.1 183.0,989.2 184.2,988.4 185.4,987.5 186.6,986.6 187.8,985.7 189.0,984.9 190.1,984.0 191.3,983.1 192.5,982.2 193.7,981.2 194.8,980.3 196.0,979.4 197.1,978.5 198.3,977.5 199.4,976.6 200.6,975.6 201.7,974.6 202.8,973.7 204.0,972.7 205.1,971.7 206.2,970.7 207.3,969.7 208.4,968.7 209.5,967.7 210.6,966.7 211.7,965.7 212.8,964.7 213.9,963.6 215.0,962.6 216.1,961.6 217.1,960.5 218.2,959.5 219.3,958.4 220.3,957.3 221.4,956.3 222.5,955.2 223.5,954.1 224.6,953.0 225.6,951.9 226.6,950.9 227.7,949.8 228.7,948.7 229.7,947.5 230.8,946.4 231.8,945.3 232.8,944.2 233.8,943.1 234.8,941.9 235.9,940.8 236.9,939.7 237.9,938.5 238.9,937.4 239.9,936.2 240.8,935.1 241.8,933.9 242.8,932.7 243.8,931.6 244.8,930.4 245.8,929.2 246.7,928.0 247.7,926.9 248.7,925.7 249.6,924.5 250.6,923.3 251.5,922.1 252.5,920.9 253.4,919.7 254.4,918.5 255.3,917.3 256.3,916.1 257.2,914.9 258.2,913.6 259.1,912.4 260.0,911.2 260.9,910.0 261.9,908.8 262.8,907.5 263.7,906.3 264.6,905.1 265.5,903.8 266.5,902.6 267.4,901.3 268.3,900.1 269.2,898.9 270.1,897.6 271.0,896.4 271.9,895.1 272.8,893.9 273.7,892.6 274.6,891.4 275.4,890.1 276.3,888.8 277.2,887.6 278.1,886.3 279.0,885.1 279.9,883.8 280.7,882.5 281.6,881.3 282.5,880.0 283.3,878.8 284.2,877.5 285.1,876.2 285.9,875.0 286.8,873.7 287.7,872.4 288.5,871.2 289.4,869.9 290.2,868.6 291.1,867.3 291.9,866.1 292.8,864.8 293.6,863.5 294.5,862.3 295.3,861.0 296.2,859.7 297.0,858.5 297.8,857.2 298.7,855.9 299.5,854.7 300.3,853.4 301.2,852.1 302.0,850.9 302.8,849.6 303.7,848.3 304.5,847.1 305.3,845.8 306.2,844.5 307.0,843.3 307.8,842.0 308.6,840.8 309.5,839.5 310.3,838.2 311.1,837.0 311.9,835.7 312.7,834.5 313.6,833.2 314.4,832.0 315.2,830.7 316.0,829.5 316.8,828.2 317.7,826.9 318.5,825.7 319.3,824.4 320.1,823.2 321.0,821.9 321.8,820.7 322.6,819.5 323.4,818.2 324.2,817.0 325.1,815.7 325.9,814.5 326.7,813.2 327.6,812.0 328.4,810.8 329.2,809.5 330.0,808.3 330.9,807.0 331.7,805.8 332.5,804.6 333.4,803.3 334.2,802.1 335.1,800.9 335.9,799.6 336.7,798.4 337.6,797.2 338.4,796.0 339.3,794.7 340.1,793.5 341.0,792.3 341.9,791.1 342.7,789.8 343.6,788.6 344.4,787.4 345.3,786.2 346.2,784.9 347.0,783.7 347.9,782.5 348.8,781.3 349.7,780.1 350.6,778.9 351.4,777.7 352.3,776.5 353.2,775.2 354.1,774.0 355.0,772.8 355.9,771.6 356.8,770.4 357.7,769.2 358.6,768.0 359.6,766.8 360.5,765.6 361.4,764.4 362.3,763.2 363.3,762.0 364.2,760.8 365.1,759.6 366.1,758.5 367.0,757.3 368.0,756.1 369.0,754.9 369.9,753.7 370.9,752.5 371.9,751.3 372.8,750.2 373.8,749.0 374.8,747.8 375.8,746.6 376.8,745.5 377.8,744.3 378.8,743.1 379.8,741.9 380.8,740.8 381.9,739.6 382.9,738.4 383.9,737.3 385.0,736.1 386.0,734.9 387.1,733.8 388.1,732.6 389.2,731.5 390.3,730.3 391.3,729.2 392.4,728.0 393.5,726.9 394.6,725.7 395.7,724.6 396.8,723.5 397.9,722.4 399.0,721.3 400.2,720.2 401.3,719.1 402.4,718.1 403.6,717.0 404.7,715.9 405.9,714.9 407.0,713.9 408.2,712.9 409.3,711.9 410.5,710.9 411.7,710.0 412.9,709.0 414.1,708.1 415.3,707.2 416.5,706.3 417.7,705.4 418.9,704.6 420.1,703.8 421.3,703.0 422.6,702.2 423.8,701.4 425.0,700.7 426.3,700.0 427.5,699.3 428.8,698.7 430.1,698.0 431.3,697.4 432.6,696.9 433.9,696.3 435.2,695.8 436.4,695.3 437.7,694.9 439.0,694.5 440.3,694.1 441.7,693.7 443.0,693.4 444.3,693.1 445.6,692.9 446.9,692.6 448.3,692.5 449.6,692.3 451.0,692.2 452.3,692.2 453.7,692.1 455.0,692.1 456.4,692.2 457.8,692.2 459.1,692.3 460.5,692.5 461.9,692.6 463.3,692.8 464.7,693.1 466.0,693.3 467.4,693.6 468.8,693.9 470.2,694.3 471.6,694.7 473.0,695.1 474.4,695.5 475.8,695.9 477.1,696.4 478.5,696.9 479.9,697.5 481.3,698.0 482.7,698.6 484.1,699.2 485.5,699.8 486.8,700.5 488.2,701.1 489.6,701.8 490.9,702.5 492.3,703.3 493.7,704.0 495.0,704.8 496.4,705.5 497.7,706.3 499.1,707.2 500.4,708.0 501.7,708.8 503.1,709.7 504.4,710.6 505.7,711.5 507.0,712.4 508.3,713.3 509.6,714.2 510.9,715.1 512.2,716.1 513.4,717.0 514.7,718.0 515.9,719.0 517.2,719.9 518.4,720.9 519.6,721.9 520.9,722.9 522.1,724.0 523.3,725.0 524.5,726.0 525.6,727.0 526.8,728.1 528.0,729.1 529.1,730.1 530.3,731.2 531.4,732.3 532.6,733.3 533.7,734.4 534.8,735.5 536.0,736.5 537.1,737.6 538.2,738.7 539.3,739.8 540.4,740.9 541.5,742.0 542.6,743.1 543.6,744.2 544.7,745.3 545.8,746.4 546.9,747.5 547.9,748.6 549.0,749.7 550.0,750.8 551.1,752.0 552.2,753.1 553.2,754.2 554.3,755.3 555.3,756.4 556.3,757.6 557.4,758.7 558.4,759.8 559.5,760.9 560.5,762.0 561.6,763.2 562.6,764.3 563.6,765.4 564.7,766.5 565.7,767.6 566.8,768.7 567.8,769.9 568.8,771.0 569.9,772.1 570.9,773.2 572.0,774.3 573.0,775.4 574.1,776.5 575.1,777.6 576.2,778.7 577.2,779.7 578.3,780.8 579.3,781.9 580.4,783.0 581.5,784.1 582.5,785.1 583.6,786.2 584.7,787.3 585.8,788.3 586.8,789.4 587.9,790.4 589.0,791.5 590.1,792.5 591.2,793.5 592.3,794.6 593.4,795.6 594.5,796.6 595.6,797.7 596.7,798.7 597.8,799.7 598.9,800.7 600.0,801.7 601.1,802.7 602.2,803.7 603.3,804.7 604.5,805.7 605.6,806.7 606.7,807.7 607.8,808.7 609.0,809.7 610.1,810.6 611.2,811.6 612.4,812.6 613.5,813.6 614.7,814.5 615.8,815.5 617.0,816.4 618.1,817.4 619.3,818.3 620.4,819.3 621.6,820.2 622.7,821.2 623.9,822.1 625.1,823.0 626.2,824.0 627.4,824.9 628.6,825.8 629.7,826.7 630.9,827.6 632.1,828.5 633.3,829.5 634.5,830.4 635.7,831.3 636.8,832.2 638.0,833.0 639.2,833.9 640.4,834.8 641.6,835.7 642.8,836.6 644.0,837.4 645.2,838.3 646.4,839.2 647.7,840.1 648.9,840.9 650.1,841.8 651.3,842.6 652.5,843.5 653.7,844.3 655.0,845.2 656.2,846.0 657.4,846.8 658.7,847.7 659.9,848.5 661.1,849.3 662.4,850.1 663.6,851.0 664.9,851.8 666.1,852.6 667.4,853.4 668.6,854.2 669.9,855.0 671.1,855.8 672.4,856.6 673.6,857.4 674.9,858.2 676.2,859.0 677.4,859.7 678.7,860.5 680.0,861.3 681.2,862.1 682.5,862.8 683.8,863.6 685.1,864.3 686.4,865.1 687.6,865.9 688.9,866.6 690.2,867.3 691.5,868.1 692.8,868.8 694.1,869.6 695.4,870.3 696.7,871.0 698.0,871.7 699.3,872.5 700.6,873.2 701.9,873.9 703.2,874.6 704.5,875.3 705.9,876.0 707.2,876.7 708.5,877.4 709.8,878.1 711.1,878.8 712.5,879.5 713.8,880.2 715.1,880.9 716.5,881.5 717.8,882.2 719.1,882.9 720.5,883.5 721.8,884.2 723.2,884.9 724.5,885.5 725.8,886.2 727.2,886.8 728.5,887.5 729.9,888.1 731.3,888.8 732.6,889.4 734.0,890.0 735.3,890.7 736.7,891.3 738.1,891.9 739.4,892.5 740.8,893.1 742.2,893.8 743.6,894.4 744.9,895.0 746.3,895.6 747.7,896.2 749.1,896.8 750.5,897.4 751.9,897.9 753.2,898.5 754.6,899.1 756.0,899.7 757.4,900.3 758.8,900.8 760.2,901.4 761.6,902.0 763.0,902.5 764.4,903.1 765.8,903.7 767.2,904.2 768.7,904.8 770.1,905.3 771.5,905.8 772.9,906.4 774.3,906.9 775.7,907.5 777.2,908.0 778.6,908.5 780.0,909.0 781.4,909.6 782.9,910.1 784.3,910.6 785.7,911.1 787.2,911.6 788.6,912.1 790.1,912.6 791.5,913.1 792.9,913.6 794.4,914.1 795.8,914.6 797.3,915.0 798.7,915.5 800.2,916.0 801.7,916.5 803.1,916.9 804.6,917.4 806.0,917.9 807.5,918.3 809.0,918.8 810.4,919.2 811.9,919.7" fill="none" stroke="#6e0c78" stroke-width="2.3" stroke-linecap="butt" stroke-linejoin="round"/>
<path d="M116.0,1021.0 117.5,1020.8 119.1,1020.5 120.6,1020.3 122.1,1020.0 123.6,1019.7 125.1,1019.4 126.6,1019.1 128.1,1018.8 129.6,1018.5 131.1,1018.1 132.5,1017.8 134.0,1017.4 135.5,1017.0 136.9,1016.7 138.4,1016.3 139.8,1015.9 141.3,1015.4 142.7,1015.0 144.2,1014.6 145.6,1014.1 147.0,1013.7 148.4,1013.2 149.8,1012.7 151.2,1012.2 152.6,1011.7 154.0,1011.2 155.4,1010.7 156.8,1010.2 158.2,1009.6 159.6,1009.1 161.0,1008.5 162.3,1007.9 163.7,1007.4 165.1,1006.8 166.4,1006.2 167.8,1005.6 169.1,1005.0 170.4,1004.3 171.8,1003.7 173.1,1003.1 174.4,1002.4 175.8,1001.8 177.1,1001.1 178.4,1000.4 179.7,999.7 181.0,999.0 182.3,998.3 183.6,997.6 184.9,996.9 186.2,996.2 187.5,995.4 188.8,994.7 190.0,993.9 191.3,993.2 192.6,992.4 193.9,991.7 195.1,990.9 196.4,990.1 197.6,989.3 198.9,988.5 200.1,987.7 201.4,986.9 202.6,986.0 203.8,985.2 205.1,984.4 206.3,983.5 207.5,982.7 208.7,981.8 210.0,981.0 211.2,980.1 212.4,979.2 213.6,978.4 214.8,977.5 216.0,976.6 217.2,975.7 218.4,974.8 219.6,973.9 220.8,972.9 222.0,972.0 223.1,971.1 224.3,970.2 225.5,969.2 226.7,968.3 227.8,967.3 229.0,966.4 230.2,965.4 231.3,964.5 232.5,963.5 233.6,962.5 234.8,961.6 236.0,960.6 237.1,959.6 238.2,958.6 239.4,957.6 240.5,956.6 241.7,955.6 242.8,954.6 243.9,953.6 245.1,952.6 246.2,951.6 247.3,950.6 248.4,949.5 249.6,948.5 250.7,947.5 251.8,946.4 252.9,945.4 254.0,944.4 255.1,943.3 256.2,942.3 257.4,941.2 258.5,940.2 259.6,939.1 260.7,938.1 261.8,937.0 262.9,935.9 264.0,934.9 265.0,933.8 266.1,932.7 267.2,931.7 268.3,930.6 269.4,929.5 270.5,928.4 271.6,927.4 272.7,926.3 273.7,925.2 274.8,924.1 275.9,923.0 277.0,922.0 278.0,920.9 279.1,919.8 280.2,918.7 281.3,917.6 282.3,916.5 283.4,915.4 284.5,914.3 285.5,913.2 286.6,912.1 287.7,911.0 288.7,910.0 289.8,908.9 290.8,907.8 291.9,906.7 293.0,905.6 294.0,904.5 295.1,903.4 296.1,902.3 297.2,901.2 298.3,900.1 299.3,899.0 300.4,897.9 301.4,896.8 302.5,895.7 303.5,894.6 304.6,893.6 305.6,892.5 306.7,891.4 307.7,890.3 308.8,889.2 309.8,888.1 310.9,887.0 311.9,885.9 313.0,884.9 314.0,883.8 315.1,882.7 316.1,881.6 317.2,880.5 318.2,879.5 319.3,878.4 320.3,877.3 321.4,876.2 322.4,875.1 323.4,874.1 324.5,873.0 325.5,871.9 326.6,870.8 327.6,869.8 328.7,868.7 329.7,867.6 330.7,866.6 331.8,865.5 332.8,864.4 333.9,863.3 334.9,862.3 336.0,861.2 337.0,860.1 338.0,859.1 339.1,858.0 340.1,857.0 341.2,855.9 342.2,854.8 343.2,853.8 344.3,852.7 345.3,851.6 346.4,850.6 347.4,849.5 348.4,848.5 349.5,847.4 350.5,846.4 351.6,845.3 352.6,844.3 353.6,843.2 354.7,842.2 355.7,841.1 356.7,840.1 357.8,839.0 358.8,838.0 359.9,836.9 360.9,835.9 361.9,834.8 363.0,833.8 364.0,832.7 365.0,831.7 366.1,830.6 367.1,829.6 368.2,828.6 369.2,827.5 370.2,826.5 371.3,825.4 372.3,824.4 373.3,823.4 374.4,822.3 375.4,821.3 376.5,820.3 377.5,819.2 378.5,818.2 379.6,817.2 380.6,816.1 381.7,815.1 382.7,814.1 383.7,813.0 384.8,812.0 385.8,811.0 386.9,810.0 387.9,808.9 389.0,807.9 390.0,806.9 391.0,805.8 392.1,804.8 393.1,803.8 394.2,802.7 395.2,801.7 396.3,800.7 397.4,799.6 398.4,798.6 399.5,797.6 400.5,796.5 401.6,795.5 402.7,794.4 403.7,793.4 404.8,792.3 405.9,791.3 407.0,790.2 408.0,789.2 409.1,788.1 410.2,787.0 411.3,786.0 412.4,784.9 413.5,783.8 414.6,782.8 415.6,781.7 416.8,780.6 417.9,779.5 419.0,778.4 420.1,777.3 421.2,776.3 422.3,775.2 423.4,774.0 424.6,772.9 425.7,771.8 426.8,770.7 428.0,769.6 429.1,768.5 430.3,767.3 431.4,766.2 432.6,765.0 433.7,763.9 434.9,762.7 436.1,761.6 437.2,760.4 438.4,759.3 439.6,758.1 440.8,756.9 442.0,755.7 443.2,754.5 444.4,753.4 445.6,752.2 446.8,751.0 448.0,749.9 449.3,748.7 450.5,747.6 451.7,746.5 453.0,745.3 454.2,744.3 455.5,743.2 456.7,742.2 458.0,741.2 459.2,740.2 460.5,739.2 461.8,738.3 463.1,737.4 464.3,736.5 465.6,735.7 466.9,734.9 468.2,734.2 469.5,733.4 470.8,732.7 472.1,732.1 473.4,731.4 474.8,730.8 476.1,730.3 477.4,729.7 478.7,729.2 480.1,728.7 481.4,728.2 482.7,727.8 484.1,727.4 485.4,727.0 486.8,726.7 488.1,726.4 489.5,726.1 490.8,725.8 492.2,725.6 493.6,725.4 494.9,725.2 496.3,725.0 497.6,724.9 499.0,724.8 500.4,724.7 501.8,724.6 503.1,724.6 504.5,724.6 505.9,724.6 507.3,724.6 508.7,724.7 510.0,724.7 511.4,724.8 512.8,725.0 514.2,725.1 515.6,725.3 517.0,725.5 518.4,725.7 519.8,725.9 521.1,726.2 522.5,726.4 523.9,726.7 525.3,727.0 526.7,727.4 528.1,727.7 529.5,728.1 530.9,728.4 532.3,728.8 533.7,729.3 535.1,729.7 536.5,730.2 537.9,730.6 539.2,731.1 540.6,731.6 542.0,732.1 543.4,732.7 544.8,733.2 546.2,733.8 547.6,734.4 548.9,735.0 550.3,735.6 551.7,736.2 553.1,736.8 554.5,737.5 555.8,738.2 557.2,738.8 558.6,739.5 559.9,740.2 561.3,740.9 562.7,741.7 564.0,742.4 565.4,743.1 566.8,743.9 568.1,744.7 569.5,745.4 570.8,746.2 572.2,747.0 573.5,747.8 574.8,748.6 576.2,749.5 577.5,750.3 578.8,751.1 580.2,752.0 581.5,752.8 582.8,753.7 584.1,754.6 585.4,755.5 586.7,756.3 588.0,757.2 589.3,758.1 590.6,759.0 591.9,759.9 593.2,760.8 594.5,761.7 595.7,762.7 597.0,763.6 598.3,764.5 599.5,765.4 600.8,766.4 602.0,767.3 603.3,768.3 604.5,769.2 605.8,770.1 607.0,771.1 608.2,772.0 609.4,773.0 610.7,773.9 611.9,774.9 613.1,775.8 614.3,776.8 615.5,777.8 616.7,778.7 617.9,779.7 619.1,780.6 620.2,781.6 621.4,782.6 622.6,783.5 623.8,784.5 624.9,785.5 626.1,786.4 627.3,787.4 628.4,788.4 629.6,789.3 630.8,790.3 631.9,791.3 633.1,792.3 634.2,793.2 635.4,794.2 636.5,795.2 637.7,796.1 638.8,797.1 640.0,798.1 641.1,799.1 642.2,800.0 643.4,801.0 644.5,802.0 645.7,802.9 646.8,803.9 647.9,804.9 649.1,805.8 650.2,806.8 651.4,807.7 652.5,808.7 653.6,809.7 654.8,810.6 655.9,811.6 657.0,812.5 658.2,813.5 659.3,814.4 660.4,815.4 661.6,816.3 662.7,817.2 663.9,818.2 665.0,819.1 666.2,820.0 667.3,821.0 668.5,821.9 669.6,822.8 670.8,823.7 671.9,824.7 673.1,825.6 674.2,826.5 675.4,827.4 676.5,828.3 677.7,829.2 678.9,830.1 680.0,831.0 681.2,831.9 682.4,832.8 683.6,833.6 684.8,834.5 685.9,835.4 687.1,836.3 688.3,837.1 689.5,838.0 690.7,838.8 691.9,839.7 693.1,840.5 694.3,841.4 695.6,842.2 696.8,843.0 698.0,843.8 699.2,844.7 700.5,845.5 701.7,846.3 703.0,847.1 704.2,847.9 705.5,848.7 706.7,849.4 708.0,850.2 709.3,851.0 710.5,851.8 711.8,852.5 713.1,853.3 714.4,854.0 715.7,854.8 717.0,855.5 718.3,856.3 719.6,857.0 720.9,857.7 722.2,858.5 723.5,859.2 724.8,859.9 726.2,860.6 727.5,861.3 728.8,862.0 730.1,862.7 731.5,863.4 732.8,864.1 734.2,864.8 735.5,865.4 736.9,866.1 738.2,866.8 739.6,867.4 740.9,868.1 742.3,868.7 743.7,869.4 745.0,870.0 746.4,870.7 747.8,871.3 749.2,872.0 750.5,872.6 751.9,873.2 753.3,873.8 754.7,874.4 756.1,875.1 757.5,875.7 758.9,876.3 760.3,876.9 761.7,877.5 763.1,878.1 764.5,878.7 765.9,879.2 767.3,879.8 768.7,880.4 770.2,881.0 771.6,881.6 773.0,882.1 774.4,882.7 775.8,883.3 777.3,883.8 778.7,884.4 780.1,884.9 781.5,885.5 783.0,886.0 784.4,886.6 785.8,887.1 787.3,887.6 788.7,888.2 790.2,888.7 791.6,889.2 793.0,889.7 794.5,890.3 795.9,890.8 797.4,891.3 798.8,891.8 800.3,892.3 801.7,892.8 803.2,893.3 804.6,893.8 806.1,894.3 807.5,894.8 809.0,895.3 810.4,895.8 811.9,896.3 813.3,896.8 814.8,897.3 816.2,897.8 817.7,898.2 819.1,898.7 820.6,899.2 822.0,899.7 823.5,900.1 825.0,900.6 826.4,901.1 827.9,901.5 829.3,902.0 830.8,902.5 832.2,902.9 833.7,903.4 835.1,903.8 836.6,904.3 838.1,904.7 839.5,905.2 841.0,905.6 842.4,906.1 843.9,906.5 845.3,907.0 846.8,907.4 848.2,907.9 849.7,908.3 851.1,908.7 852.6,909.2 854.0,909.6 855.4,910.0 856.9,910.5 858.3,910.9 859.8,911.3 861.2,911.8 862.6,912.2 864.1,912.6 865.5,913.0 866.9,913.5 868.4,913.9 869.8,914.3 871.2,914.7 872.7,915.1 874.1,915.6 875.5,916.0 876.9,916.4 878.4,916.8 879.8,917.2 881.2,917.6 882.6,918.1 884.0,918.5 885.4,918.9 886.8,919.3 888.2,919.7 889.6,920.1 891.0,920.5 892.4,920.9 893.8,921.4 895.2,921.8 896.6,922.2 898.0,922.6 899.4,923.0" fill="none" stroke="#d8a332" stroke-width="2.3" stroke-linecap="butt" stroke-linejoin="round"/>
<rect x="616.6" y="842" width="316.4" height="198" rx="4" fill="#d3d3d3" fill-opacity="0.8"/>
<text x="704.91" y="864.80" font-size="19.40" fill="#000000" textLength="138.25" lengthAdjust="spacingAndGlyphs" stroke="#000000" stroke-width="0.22" >Breech Presure</text>
<path d="M623.3,885.7 H661.5" stroke="#2f8ff0" stroke-width="2.3" fill="none"/>
<text x="674.97" y="892.37" font-size="19.40" fill="#d8182a" textLength="91.82" lengthAdjust="spacingAndGlyphs" stroke="#d8182a" stroke-width="0.22" >0.02988 L</text>
<path d="M623.3,911.4 H661.5" stroke="#f020f0" stroke-width="2.3" fill="none"/>
<text x="674.98" y="918.07" font-size="19.40" fill="#d8182a" textLength="68.54" lengthAdjust="spacingAndGlyphs" stroke="#d8182a" stroke-width="0.22" >0.054 L</text>
<path d="M623.3,938.0 H661.5" stroke="#107a10" stroke-width="2.3" fill="none"/>
<text x="675.00" y="944.67" font-size="19.40" fill="#d8182a" textLength="251.36" lengthAdjust="spacingAndGlyphs" stroke="#d8182a" stroke-width="0.22" >0.0735 L (ORNL Test Stand)</text>
<path d="M623.3,963.9 H661.5" stroke="#f25020" stroke-width="2.3" fill="none"/>
<text x="674.98" y="970.57" font-size="19.40" fill="#d8182a" textLength="80.19" lengthAdjust="spacingAndGlyphs" stroke="#d8182a" stroke-width="0.22" >0.0946 L</text>
<path d="M623.3,990.5 H661.5" stroke="#6e0c78" stroke-width="2.3" fill="none"/>
<text x="675.00" y="997.17" font-size="19.40" fill="#d8182a" textLength="197.66" lengthAdjust="spacingAndGlyphs" stroke="#d8182a" stroke-width="0.22" >0.154 L (ITER Design)</text>
<path d="M623.3,1017.2 H661.5" stroke="#d8a332" stroke-width="2.3" fill="none"/>
<text x="674.98" y="1023.87" font-size="19.40" fill="#d8182a" textLength="68.54" lengthAdjust="spacingAndGlyphs" stroke="#d8182a" stroke-width="0.22" >0.208 L</text>
<text x="694.89" y="810.60" font-size="44.90" fill="#000000" textLength="221.80" lengthAdjust="spacingAndGlyphs" stroke="#000000" stroke-width="0.8" font-weight="bold" >900V Shot</text>
<path d="M116.0,1042.7 v3 M281.0,1042.7 v3 M446.0,1042.7 v3 M610.9,1042.7 v3 M775.9,1042.7 v3 M940.9,1042.7 v3 M76.9,1021.0 h-3 M76.9,944.7 h-3 M76.9,868.5 h-3 M76.9,792.2 h-3 M76.9,715.9 h-3 M76.9,639.6 h-3 M76.9,563.4 h-3 M940.9,1021.0 h3 M940.9,964.3 h3 M940.9,907.5 h3 M940.9,850.8 h3 M940.9,794.1 h3 M940.9,737.4 h3 M940.9,680.6 h3 M940.9,623.9 h3 M940.9,567.2 h3" stroke="#8c8c9c" stroke-width="1" fill="none"/>
<text x="108.81" y="1065.00" font-size="25.86" fill="#000000" textLength="14.28" lengthAdjust="spacingAndGlyphs" stroke="#000000" stroke-width="0.22" >0</text>
<text x="273.84" y="1065.00" font-size="25.86" fill="#000000" textLength="13.57" lengthAdjust="spacingAndGlyphs" stroke="#000000" stroke-width="0.22" >1</text>
<text x="439.11" y="1065.00" font-size="25.86" fill="#000000" textLength="13.72" lengthAdjust="spacingAndGlyphs" stroke="#000000" stroke-width="0.22" >2</text>
<text x="604.10" y="1065.00" font-size="25.86" fill="#000000" textLength="13.71" lengthAdjust="spacingAndGlyphs" stroke="#000000" stroke-width="0.22" >3</text>
<text x="768.94" y="1065.00" font-size="25.86" fill="#000000" textLength="14.24" lengthAdjust="spacingAndGlyphs" stroke="#000000" stroke-width="0.22" >4</text>
<text x="934.13" y="1065.00" font-size="25.86" fill="#000000" textLength="13.57" lengthAdjust="spacingAndGlyphs" stroke="#000000" stroke-width="0.22" >5</text>
<text x="58.75" y="1031.69" font-size="25.86" fill="#1414c8" textLength="14.28" lengthAdjust="spacingAndGlyphs" stroke="#1414c8" stroke-width="0.22" >0</text>
<text x="27.72" y="955.42" font-size="25.86" fill="#1414c8" textLength="45.42" lengthAdjust="spacingAndGlyphs" stroke="#1414c8" stroke-width="0.22" >100</text>
<text x="27.55" y="879.15" font-size="25.86" fill="#1414c8" textLength="45.61" lengthAdjust="spacingAndGlyphs" stroke="#1414c8" stroke-width="0.22" >200</text>
<text x="27.83" y="802.88" font-size="25.86" fill="#1414c8" textLength="45.32" lengthAdjust="spacingAndGlyphs" stroke="#1414c8" stroke-width="0.22" >300</text>
<text x="27.76" y="726.61" font-size="25.86" fill="#1414c8" textLength="45.39" lengthAdjust="spacingAndGlyphs" stroke="#1414c8" stroke-width="0.22" >400</text>
<text x="27.83" y="650.34" font-size="25.86" fill="#1414c8" textLength="45.32" lengthAdjust="spacingAndGlyphs" stroke="#1414c8" stroke-width="0.22" >500</text>
<text x="27.42" y="574.07" font-size="25.86" fill="#1414c8" textLength="45.74" lengthAdjust="spacingAndGlyphs" stroke="#1414c8" stroke-width="0.22" >600</text>
<text x="944.92" y="1031.69" font-size="25.86" fill="#d8182a" textLength="37.66" lengthAdjust="spacingAndGlyphs" stroke="#d8182a" stroke-width="0.22" >0.0</text>
<text x="944.66" y="974.97" font-size="25.86" fill="#d8182a" textLength="37.31" lengthAdjust="spacingAndGlyphs" stroke="#d8182a" stroke-width="0.22" >2.5</text>
<text x="944.92" y="918.24" font-size="25.86" fill="#d8182a" textLength="37.40" lengthAdjust="spacingAndGlyphs" stroke="#d8182a" stroke-width="0.22" >5.0</text>
<text x="944.66" y="861.52" font-size="25.86" fill="#d8182a" textLength="37.18" lengthAdjust="spacingAndGlyphs" stroke="#d8182a" stroke-width="0.22" >7.5</text>
<text x="943.96" y="804.79" font-size="25.86" fill="#d8182a" textLength="53.05" lengthAdjust="spacingAndGlyphs" stroke="#d8182a" stroke-width="0.22" >10.0</text>
<text x="943.97" y="748.07" font-size="25.86" fill="#d8182a" textLength="52.68" lengthAdjust="spacingAndGlyphs" stroke="#d8182a" stroke-width="0.22" >12.5</text>
<text x="943.96" y="691.34" font-size="25.86" fill="#d8182a" textLength="53.05" lengthAdjust="spacingAndGlyphs" stroke="#d8182a" stroke-width="0.22" >15.0</text>
<text x="943.97" y="634.62" font-size="25.86" fill="#d8182a" textLength="52.68" lengthAdjust="spacingAndGlyphs" stroke="#d8182a" stroke-width="0.22" >17.5</text>
<text x="944.63" y="577.89" font-size="25.86" fill="#d8182a" textLength="53.24" lengthAdjust="spacingAndGlyphs" stroke="#d8182a" stroke-width="0.22" >20.0</text>
<text x="448.76" y="1089.80" font-size="25.65" fill="#000000" textLength="121.23" lengthAdjust="spacingAndGlyphs" stroke="#000000" stroke-width="0.22" >Time (ms)</text>
<text transform="translate(21.10,913.20) rotate(-90)" x="-2.19" y="0" font-size="25.65" fill="#1414c8" textLength="224.75" lengthAdjust="spacingAndGlyphs" stroke="#1414c8" stroke-width="0.22">Pellet Speed (m/s)</text>
<text transform="translate(1018.00,938.20) rotate(-90)" x="-2.19" y="0" font-size="25.65" fill="#d8182a" textLength="269.40" lengthAdjust="spacingAndGlyphs" stroke="#d8182a" stroke-width="0.22">Breech Pressure (bar)</text>
<rect x="84.8" y="1118.7" width="858.2" height="481.0999999999999" fill="#d3d3d3"/>
<path d="M123.5,1118.7 V1599.8 M219.7,1118.7 V1599.8 M315.8,1118.7 V1599.8 M412.0,1118.7 V1599.8 M508.1,1118.7 V1599.8 M604.2,1118.7 V1599.8 M700.4,1118.7 V1599.8 M796.6,1118.7 V1599.8 M892.7,1118.7 V1599.8 M84.8,1578.3 H943.0 M84.8,1487.0 H943.0 M84.8,1395.7 H943.0 M84.8,1304.3 H943.0 M84.8,1213.0 H943.0 M84.8,1121.7 H943.0" stroke="#2020e0" stroke-opacity="0.2" stroke-width="1.2" fill="none"/>
<path d="M245.2,1578.3 246.0,1577.0 246.8,1575.8 247.5,1574.5 248.3,1573.3 249.1,1572.0 249.8,1570.7 250.6,1569.5 251.4,1568.2 252.2,1567.0 252.9,1565.7 253.7,1564.4 254.5,1563.2 255.3,1561.9 256.1,1560.6 256.8,1559.4 257.6,1558.1 258.4,1556.8 259.2,1555.6 259.9,1554.3 260.7,1553.0 261.5,1551.8 262.3,1550.5 263.1,1549.2 263.9,1547.9 264.6,1546.7 265.4,1545.4 266.2,1544.1 267.0,1542.9 267.8,1541.6 268.6,1540.3 269.3,1539.0 270.1,1537.8 270.9,1536.5 271.7,1535.2 272.5,1533.9 273.3,1532.7 274.1,1531.4 274.9,1530.1 275.7,1528.9 276.5,1527.6 277.2,1526.3 278.0,1525.0 278.8,1523.8 279.6,1522.5 280.4,1521.2 281.2,1519.9 282.0,1518.6 282.8,1517.4 283.6,1516.1 284.4,1514.8 285.2,1513.5 286.0,1512.3 286.8,1511.0 287.6,1509.7 288.4,1508.4 289.2,1507.2 290.0,1505.9 290.8,1504.6 291.6,1503.3 292.5,1502.1 293.3,1500.8 294.1,1499.5 294.9,1498.2 295.7,1497.0 296.5,1495.7 297.3,1494.4 298.1,1493.1 298.9,1491.9 299.8,1490.6 300.6,1489.3 301.4,1488.0 302.2,1486.8 303.0,1485.5 303.8,1484.2 304.7,1483.0 305.5,1481.7 306.3,1480.4 307.1,1479.1 308.0,1477.9 308.8,1476.6 309.6,1475.3 310.4,1474.1 311.3,1472.8 312.1,1471.5 312.9,1470.3 313.8,1469.0 314.6,1467.7 315.4,1466.5 316.3,1465.2 317.1,1463.9 317.9,1462.7 318.8,1461.4 319.6,1460.1 320.4,1458.9 321.3,1457.6 322.1,1456.3 323.0,1455.1 323.8,1453.8 324.7,1452.6 325.5,1451.3 326.4,1450.0 327.2,1448.8 328.1,1447.5 328.9,1446.3 329.8,1445.0 330.6,1443.8 331.5,1442.5 332.3,1441.3 333.2,1440.0 334.0,1438.8 334.9,1437.5 335.8,1436.2 336.6,1435.0 337.5,1433.8 338.4,1432.5 339.2,1431.3 340.1,1430.0 341.0,1428.8 341.8,1427.5 342.7,1426.3 343.6,1425.0 344.5,1423.8 345.3,1422.6 346.2,1421.3 347.1,1420.1 348.0,1418.8 348.8,1417.6 349.7,1416.4 350.6,1415.1 351.5,1413.9 352.4,1412.7 353.3,1411.5 354.2,1410.2 355.1,1409.0 355.9,1407.8 356.8,1406.5 357.7,1405.3 358.6,1404.1 359.5,1402.9 360.4,1401.7 361.3,1400.4 362.2,1399.2 363.1,1398.0 364.0,1396.8 364.9,1395.6 365.9,1394.4 366.8,1393.2 367.7,1391.9 368.6,1390.7 369.5,1389.5 370.4,1388.3 371.3,1387.1 372.3,1385.9 373.2,1384.7 374.1,1383.5 375.0,1382.3 376.0,1381.1 376.9,1379.9 377.8,1378.7 378.7,1377.5 379.7,1376.3 380.6,1375.2 381.6,1374.0 382.5,1372.8 383.4,1371.6 384.4,1370.4 385.3,1369.2 386.3,1368.1 387.2,1366.9 388.1,1365.7 389.1,1364.5 390.1,1363.4 391.0,1362.2 392.0,1361.0 392.9,1359.8 393.9,1358.7 394.8,1357.5 395.8,1356.4 396.8,1355.2 397.7,1354.0 398.7,1352.9 399.7,1351.7 400.6,1350.6 401.6,1349.4 402.6,1348.3 403.6,1347.1 404.5,1346.0 405.5,1344.8 406.5,1343.7 407.5,1342.6 408.5,1341.4 409.5,1340.3 410.4,1339.2 411.4,1338.0 412.4,1336.9 413.4,1335.8 414.4,1334.6 415.4,1333.5 416.4,1332.4 417.4,1331.3 418.4,1330.2 419.4,1329.0 420.5,1327.9 421.5,1326.8 422.5,1325.7 423.5,1324.6 424.5,1323.5 425.5,1322.4 426.6,1321.3 427.6,1320.2 428.6,1319.1 429.6,1318.0 430.7,1316.9 431.7,1315.8 432.7,1314.8 433.8,1313.7 434.8,1312.6 435.8,1311.5 436.9,1310.4 437.9,1309.4 439.0,1308.3 440.0,1307.2 441.1,1306.2 442.1,1305.1 443.2,1304.0 444.2,1303.0 445.3,1301.9 446.4,1300.9 447.4,1299.8 448.5,1298.8 449.6,1297.7 450.6,1296.7 451.7,1295.6 452.8,1294.6 453.9,1293.5 454.9,1292.5 456.0,1291.5 457.1,1290.5 458.2,1289.4 459.3,1288.4 460.4,1287.4 461.5,1286.4 462.6,1285.4 463.7,1284.3 464.8,1283.3 465.9,1282.3 467.0,1281.3 468.1,1280.3 469.2,1279.3 470.3,1278.3 471.4,1277.3 472.5,1276.3 473.6,1275.4 474.8,1274.4 475.9,1273.4 477.0,1272.4 478.2,1271.4 479.3,1270.5 480.4,1269.5 481.6,1268.5 482.7,1267.6 483.8,1266.6 485.0,1265.6 486.1,1264.7 487.3,1263.7 488.4,1262.8 489.6,1261.8 490.7,1260.9 491.9,1260.0 493.0,1259.0 494.2,1258.1 495.4,1257.2 496.5,1256.2 497.7,1255.3 498.9,1254.4 500.0,1253.5 501.2,1252.5 502.4,1251.6 503.6,1250.7 504.8,1249.8 505.9,1248.9 507.1,1248.0 508.3,1247.1 509.5,1246.2 510.7,1245.3 511.9,1244.4 513.1,1243.5 514.3,1242.7 515.5,1241.8 516.7,1240.9 517.9,1240.0 519.1,1239.1 520.3,1238.3 521.6,1237.4 522.8,1236.6 524.0,1235.7 525.2,1234.8 526.4,1234.0 527.7,1233.1 528.9,1232.3 530.1,1231.4 531.3,1230.6 532.6,1229.8 533.8,1228.9 535.0,1228.1 536.3,1227.3 537.5,1226.5 538.8,1225.6 540.0,1224.8 541.3,1224.0 542.5,1223.2 543.8,1222.4 545.0,1221.6 546.3,1220.8 547.5,1220.0 548.8,1219.2 550.1,1218.4 551.3,1217.6 552.6,1216.8 553.9,1216.0 555.1,1215.3 556.4,1214.5 557.7,1213.7 559.0,1212.9 560.2,1212.2 561.5,1211.4 562.8,1210.6 564.1,1209.9 565.4,1209.1 566.7,1208.4 568.0,1207.6 569.3,1206.9 570.6,1206.2 571.9,1205.4 573.2,1204.7 574.5,1204.0 575.8,1203.2 577.1,1202.5 578.4,1201.8 579.7,1201.1 581.0,1200.4 582.3,1199.6 583.6,1198.9 584.9,1198.2 586.3,1197.5 587.6,1196.8 588.9,1196.2 590.2,1195.5 591.6,1194.8 592.9,1194.1 594.2,1193.4 595.6,1192.7 596.9,1192.1 598.2,1191.4 599.6,1190.7 600.9,1190.1 602.3,1189.4 603.6,1188.8 605.0,1188.1 606.3,1187.5 607.7,1186.8 609.0,1186.2 610.4,1185.5 611.7,1184.9 613.1,1184.3 614.4,1183.6 615.8,1183.0 617.2,1182.4 618.5,1181.8 619.9,1181.2 621.3,1180.6 622.6,1180.0 624.0,1179.4 625.4,1178.8 626.8,1178.2 628.1,1177.6 629.5,1177.0 630.9,1176.4 632.3,1175.8 633.7,1175.2 635.1,1174.7 636.5,1174.1 637.8,1173.5 639.2,1173.0 640.6,1172.4 642.0,1171.8 643.4,1171.3 644.8,1170.7 646.2,1170.2 647.6,1169.7 649.0,1169.1 650.5,1168.6 651.9,1168.1 653.3,1167.5 654.7,1167.0 656.1,1166.5 657.5,1166.0 658.9,1165.5 660.4,1165.0 661.8,1164.5 663.2,1163.9 664.6,1163.5 666.1,1163.0 667.5,1162.5 668.9,1162.0 670.3,1161.5 671.8,1161.0 673.2,1160.5 674.6,1160.1 676.1,1159.6 677.5,1159.1 679.0,1158.7 680.4,1158.2 681.9,1157.8 683.3,1157.3 684.8,1156.9 686.2,1156.5 687.7,1156.0 689.1,1155.6 690.6,1155.2 692.0,1154.7 693.5,1154.3 694.9,1153.9 696.4,1153.5 697.9,1153.1 699.3,1152.7 700.8,1152.3 702.3,1151.9 703.7,1151.5 705.2,1151.1 706.7,1150.7 708.1,1150.3 709.6,1149.9 711.1,1149.6 712.6,1149.2 714.1,1148.8 715.5,1148.5 717.0,1148.1 718.5,1147.7 720.0,1147.4 721.5,1147.0 723.0,1146.7 724.5,1146.4 726.0,1146.0 727.5,1145.7 729.0,1145.4 730.4,1145.0 731.9,1144.7 733.4,1144.4 735.0,1144.1 736.5,1143.8 738.0,1143.5 739.5,1143.2 741.0,1142.9 742.5,1142.6 744.0,1142.3 745.5,1142.0 747.0,1141.7 748.5,1141.5 750.0,1141.2 751.6,1140.9 753.1,1140.7 754.6,1140.4" fill="none" stroke="#2f8ff0" stroke-width="2.3" stroke-dasharray="8.5 3.7" stroke-linecap="butt" stroke-linejoin="round"/>
<path d="M303.2,1578.3 304.1,1577.1 304.9,1575.9 305.8,1574.7 306.7,1573.5 307.5,1572.3 308.4,1571.1 309.2,1569.8 310.1,1568.6 311.0,1567.4 311.8,1566.2 312.7,1565.0 313.5,1563.7 314.4,1562.5 315.2,1561.3 316.1,1560.1 316.9,1558.8 317.8,1557.6 318.6,1556.4 319.4,1555.1 320.3,1553.9 321.1,1552.7 322.0,1551.4 322.8,1550.2 323.6,1548.9 324.5,1547.7 325.3,1546.5 326.2,1545.2 327.0,1544.0 327.8,1542.7 328.6,1541.5 329.5,1540.2 330.3,1539.0 331.1,1537.7 332.0,1536.5 332.8,1535.2 333.6,1533.9 334.4,1532.7 335.3,1531.4 336.1,1530.2 336.9,1528.9 337.7,1527.6 338.6,1526.4 339.4,1525.1 340.2,1523.9 341.0,1522.6 341.9,1521.3 342.7,1520.1 343.5,1518.8 344.3,1517.5 345.1,1516.3 345.9,1515.0 346.8,1513.7 347.6,1512.5 348.4,1511.2 349.2,1509.9 350.0,1508.6 350.8,1507.4 351.7,1506.1 352.5,1504.8 353.3,1503.6 354.1,1502.3 354.9,1501.0 355.7,1499.7 356.6,1498.5 357.4,1497.2 358.2,1495.9 359.0,1494.6 359.8,1493.4 360.6,1492.1 361.5,1490.8 362.3,1489.5 363.1,1488.2 363.9,1487.0 364.7,1485.7 365.5,1484.4 366.4,1483.1 367.2,1481.9 368.0,1480.6 368.8,1479.3 369.6,1478.0 370.4,1476.8 371.3,1475.5 372.1,1474.2 372.9,1472.9 373.7,1471.7 374.6,1470.4 375.4,1469.1 376.2,1467.8 377.0,1466.6 377.8,1465.3 378.7,1464.0 379.5,1462.7 380.3,1461.5 381.1,1460.2 382.0,1458.9 382.8,1457.7 383.6,1456.4 384.5,1455.1 385.3,1453.8 386.1,1452.6 387.0,1451.3 387.8,1450.0 388.6,1448.8 389.5,1447.5 390.3,1446.2 391.1,1445.0 392.0,1443.7 392.8,1442.5 393.6,1441.2 394.5,1439.9 395.3,1438.7 396.2,1437.4 397.0,1436.2 397.9,1434.9 398.7,1433.6 399.6,1432.4 400.4,1431.1 401.3,1429.9 402.1,1428.6 403.0,1427.4 403.8,1426.1 404.7,1424.9 405.5,1423.6 406.4,1422.4 407.3,1421.2 408.1,1419.9 409.0,1418.7 409.9,1417.4 410.7,1416.2 411.6,1415.0 412.5,1413.7 413.4,1412.5 414.2,1411.3 415.1,1410.0 416.0,1408.8 416.9,1407.6 417.7,1406.4 418.6,1405.1 419.5,1403.9 420.4,1402.7 421.3,1401.5 422.2,1400.3 423.1,1399.0 424.0,1397.8 424.9,1396.6 425.8,1395.4 426.7,1394.2 427.6,1393.0 428.5,1391.8 429.4,1390.6 430.3,1389.4 431.2,1388.2 432.1,1387.0 433.1,1385.8 434.0,1384.6 434.9,1383.4 435.8,1382.2 436.7,1381.1 437.7,1379.9 438.6,1378.7 439.5,1377.5 440.5,1376.3 441.4,1375.2 442.4,1374.0 443.3,1372.8 444.2,1371.7 445.2,1370.5 446.1,1369.3 447.1,1368.2 448.1,1367.0 449.0,1365.9 450.0,1364.7 450.9,1363.6 451.9,1362.4 452.9,1361.3 453.8,1360.1 454.8,1359.0 455.8,1357.8 456.8,1356.7 457.7,1355.6 458.7,1354.4 459.7,1353.3 460.7,1352.2 461.7,1351.1 462.7,1349.9 463.7,1348.8 464.7,1347.7 465.7,1346.6 466.7,1345.5 467.7,1344.4 468.7,1343.3 469.7,1342.2 470.7,1341.1 471.7,1340.0 472.7,1338.9 473.8,1337.8 474.8,1336.7 475.8,1335.6 476.8,1334.5 477.9,1333.4 478.9,1332.4 479.9,1331.3 481.0,1330.2 482.0,1329.1 483.1,1328.1 484.1,1327.0 485.1,1325.9 486.2,1324.9 487.2,1323.8 488.3,1322.8 489.4,1321.7 490.4,1320.7 491.5,1319.6 492.6,1318.6 493.6,1317.5 494.7,1316.5 495.8,1315.5 496.8,1314.4 497.9,1313.4 499.0,1312.4 500.1,1311.4 501.2,1310.3 502.3,1309.3 503.4,1308.3 504.4,1307.3 505.5,1306.3 506.6,1305.3 507.7,1304.3 508.9,1303.3 510.0,1302.3 511.1,1301.3 512.2,1300.3 513.3,1299.3 514.4,1298.3 515.5,1297.3 516.7,1296.4 517.8,1295.4 518.9,1294.4 520.1,1293.5 521.2,1292.5 522.3,1291.5 523.5,1290.6 524.6,1289.6 525.8,1288.7 526.9,1287.7 528.1,1286.8 529.2,1285.8 530.4,1284.9 531.5,1283.9 532.7,1283.0 533.8,1282.1 535.0,1281.1 536.2,1280.2 537.4,1279.3 538.5,1278.4 539.7,1277.5 540.9,1276.6 542.1,1275.7 543.3,1274.7 544.5,1273.8 545.6,1272.9 546.8,1272.1 548.0,1271.2 549.2,1270.3 550.4,1269.4 551.7,1268.5 552.9,1267.6 554.1,1266.8 555.3,1265.9 556.5,1265.0 557.7,1264.2 559.0,1263.3 560.2,1262.4 561.4,1261.6 562.6,1260.7 563.9,1259.9 565.1,1259.1 566.3,1258.2 567.6,1257.4 568.8,1256.5 570.1,1255.7 571.3,1254.9 572.6,1254.1 573.8,1253.2 575.1,1252.4 576.4,1251.6 577.6,1250.8 578.9,1250.0 580.1,1249.2 581.4,1248.4 582.7,1247.6 584.0,1246.8 585.2,1246.0 586.5,1245.2 587.8,1244.4 589.1,1243.7 590.4,1242.9 591.7,1242.1 592.9,1241.3 594.2,1240.6 595.5,1239.8 596.8,1239.1 598.1,1238.3 599.4,1237.5 600.7,1236.8 602.0,1236.0 603.4,1235.3 604.7,1234.6 606.0,1233.8 607.3,1233.1 608.6,1232.3 609.9,1231.6 611.2,1230.9 612.6,1230.2 613.9,1229.4 615.2,1228.7 616.6,1228.0 617.9,1227.3 619.2,1226.6 620.6,1225.9 621.9,1225.2 623.2,1224.5 624.6,1223.8 625.9,1223.1 627.3,1222.4 628.6,1221.7 629.9,1221.0 631.3,1220.4 632.7,1219.7 634.0,1219.0 635.4,1218.3 636.7,1217.7 638.1,1217.0 639.4,1216.3 640.8,1215.7 642.2,1215.0 643.5,1214.4 644.9,1213.7 646.3,1213.1 647.6,1212.4 649.0,1211.8 650.4,1211.1 651.8,1210.5 653.1,1209.9 654.5,1209.2 655.9,1208.6 657.3,1208.0 658.7,1207.4 660.0,1206.8 661.4,1206.1 662.8,1205.5 664.2,1204.9 665.6,1204.3 667.0,1203.7 668.4,1203.1 669.8,1202.5 671.2,1201.9 672.6,1201.3 674.0,1200.7 675.4,1200.1 676.8,1199.6 678.2,1199.0 679.6,1198.4 681.0,1197.8 682.4,1197.2 683.8,1196.7 685.2,1196.1 686.6,1195.5 688.0,1195.0 689.4,1194.4 690.8,1193.9 692.2,1193.3 693.7,1192.8 695.1,1192.2 696.5,1191.7 697.9,1191.1 699.3,1190.6 700.7,1190.0 702.2,1189.5 703.6,1189.0 705.0,1188.4 706.4,1187.9 707.9,1187.4 709.3,1186.9 710.7,1186.3 712.1,1185.8 713.6,1185.3 715.0,1184.8 716.4,1184.3 717.8,1183.8 719.3,1183.3 720.7,1182.8 722.1,1182.3 723.6,1181.8 725.0,1181.3 726.4,1180.8 727.9,1180.3 729.3,1179.8 730.7,1179.4 732.2,1178.9 733.6,1178.4 735.1,1177.9 736.5,1177.4 737.9,1177.0 739.4,1176.5 740.8,1176.0 742.3,1175.6 743.7,1175.1 745.1,1174.7 746.6,1174.2 748.0,1173.7 749.5,1173.3 750.9,1172.8 752.4,1172.4 753.8,1172.0 755.3,1171.5 756.7,1171.1 758.1,1170.6 759.6,1170.2 761.0,1169.8 762.5,1169.3 763.9,1168.9 765.4,1168.5 766.8,1168.1 768.3,1167.7 769.7,1167.2 771.2,1166.8 772.6,1166.4 774.1,1166.0 775.5,1165.6 777.0,1165.2 778.4,1164.8 779.9,1164.4 781.3,1164.0 782.8,1163.6 784.2,1163.2 785.7,1162.8 787.1,1162.4 788.5,1162.0 790.0,1161.6 791.4,1161.3 792.9,1160.9 794.3,1160.5 795.8,1160.1 797.2,1159.7 798.7,1159.4 800.1,1159.0 801.6,1158.6 803.0,1158.3 804.5,1157.9 805.9,1157.6 807.4,1157.2 808.8,1156.8 810.3,1156.5 811.7,1156.1 813.2,1155.8 814.6,1155.4 816.1,1155.1 817.5,1154.7 818.9,1154.4 820.4,1154.1 821.8,1153.7 823.3,1153.4 824.7,1153.1 826.2,1152.7 827.6,1152.4" fill="none" stroke="#f020f0" stroke-width="2.3" stroke-dasharray="8.5 3.7" stroke-linecap="butt" stroke-linejoin="round"/>
<path d="M344.8,1578.3 345.6,1577.1 346.5,1575.9 347.3,1574.6 348.1,1573.4 349.0,1572.2 349.8,1571.0 350.6,1569.8 351.5,1568.5 352.3,1567.3 353.2,1566.1 354.0,1564.9 354.8,1563.6 355.7,1562.4 356.5,1561.2 357.4,1560.0 358.2,1558.7 359.1,1557.5 359.9,1556.3 360.8,1555.1 361.6,1553.9 362.4,1552.6 363.3,1551.4 364.2,1550.2 365.0,1549.0 365.9,1547.7 366.7,1546.5 367.6,1545.3 368.4,1544.1 369.3,1542.8 370.1,1541.6 371.0,1540.4 371.8,1539.2 372.7,1537.9 373.6,1536.7 374.4,1535.5 375.3,1534.3 376.2,1533.0 377.0,1531.8 377.9,1530.6 378.8,1529.4 379.6,1528.1 380.5,1526.9 381.4,1525.7 382.2,1524.5 383.1,1523.2 384.0,1522.0 384.8,1520.8 385.7,1519.6 386.6,1518.4 387.5,1517.1 388.4,1515.9 389.2,1514.7 390.1,1513.5 391.0,1512.2 391.9,1511.0 392.8,1509.8 393.6,1508.6 394.5,1507.4 395.4,1506.1 396.3,1504.9 397.2,1503.7 398.1,1502.5 399.0,1501.3 399.9,1500.1 400.8,1498.8 401.6,1497.6 402.5,1496.4 403.4,1495.2 404.3,1494.0 405.2,1492.8 406.1,1491.6 407.0,1490.3 407.9,1489.1 408.8,1487.9 409.7,1486.7 410.6,1485.5 411.5,1484.3 412.5,1483.1 413.4,1481.9 414.3,1480.6 415.2,1479.4 416.1,1478.2 417.0,1477.0 417.9,1475.8 418.8,1474.6 419.7,1473.4 420.7,1472.2 421.6,1471.0 422.5,1469.8 423.4,1468.6 424.3,1467.4 425.3,1466.2 426.2,1465.0 427.1,1463.8 428.0,1462.6 429.0,1461.4 429.9,1460.2 430.8,1459.0 431.8,1457.8 432.7,1456.6 433.6,1455.4 434.6,1454.2 435.5,1453.0 436.4,1451.8 437.4,1450.7 438.3,1449.5 439.3,1448.3 440.2,1447.1 441.2,1445.9 442.1,1444.7 443.0,1443.5 444.0,1442.3 444.9,1441.2 445.9,1440.0 446.8,1438.8 447.8,1437.6 448.8,1436.4 449.7,1435.3 450.7,1434.1 451.6,1432.9 452.6,1431.7 453.5,1430.6 454.5,1429.4 455.5,1428.2 456.4,1427.0 457.4,1425.9 458.4,1424.7 459.3,1423.5 460.3,1422.4 461.3,1421.2 462.3,1420.1 463.2,1418.9 464.2,1417.7 465.2,1416.6 466.2,1415.4 467.1,1414.3 468.1,1413.1 469.1,1411.9 470.1,1410.8 471.1,1409.6 472.1,1408.5 473.0,1407.3 474.0,1406.2 475.0,1405.0 476.0,1403.9 477.0,1402.8 478.0,1401.6 479.0,1400.5 480.0,1399.3 481.0,1398.2 482.0,1397.1 483.0,1395.9 484.0,1394.8 485.0,1393.7 486.0,1392.5 487.0,1391.4 488.0,1390.3 489.0,1389.1 490.1,1388.0 491.1,1386.9 492.1,1385.8 493.1,1384.7 494.1,1383.5 495.1,1382.4 496.2,1381.3 497.2,1380.2 498.2,1379.1 499.2,1378.0 500.3,1376.9 501.3,1375.8 502.3,1374.6 503.4,1373.5 504.4,1372.4 505.4,1371.3 506.5,1370.2 507.5,1369.1 508.5,1368.1 509.6,1367.0 510.6,1365.9 511.7,1364.8 512.7,1363.7 513.8,1362.6 514.8,1361.5 515.9,1360.4 516.9,1359.4 518.0,1358.3 519.0,1357.2 520.1,1356.1 521.1,1355.0 522.2,1354.0 523.3,1352.9 524.3,1351.8 525.4,1350.8 526.5,1349.7 527.5,1348.6 528.6,1347.6 529.7,1346.5 530.8,1345.5 531.8,1344.4 532.9,1343.4 534.0,1342.3 535.1,1341.3 536.1,1340.2 537.2,1339.2 538.3,1338.1 539.4,1337.1 540.5,1336.1 541.6,1335.0 542.7,1334.0 543.8,1333.0 544.9,1331.9 546.0,1330.9 547.1,1329.9 548.2,1328.9 549.3,1327.8 550.4,1326.8 551.5,1325.8 552.6,1324.8 553.7,1323.8 554.8,1322.8 555.9,1321.8 557.0,1320.8 558.1,1319.7 559.3,1318.7 560.4,1317.7 561.5,1316.8 562.6,1315.8 563.7,1314.8 564.9,1313.8 566.0,1312.8 567.1,1311.8 568.3,1310.8 569.4,1309.8 570.5,1308.9 571.7,1307.9 572.8,1306.9 573.9,1306.0 575.1,1305.0 576.2,1304.0 577.4,1303.1 578.5,1302.1 579.7,1301.1 580.8,1300.2 582.0,1299.2 583.1,1298.3 584.3,1297.3 585.4,1296.4 586.6,1295.5 587.8,1294.5 588.9,1293.6 590.1,1292.6 591.3,1291.7 592.4,1290.8 593.6,1289.9 594.8,1288.9 596.0,1288.0 597.1,1287.1 598.3,1286.2 599.5,1285.3 600.7,1284.4 601.9,1283.4 603.1,1282.5 604.2,1281.6 605.4,1280.7 606.6,1279.8 607.8,1279.0 609.0,1278.1 610.2,1277.2 611.4,1276.3 612.6,1275.4 613.8,1274.5 615.0,1273.6 616.2,1272.8 617.4,1271.9 618.7,1271.0 619.9,1270.2 621.1,1269.3 622.3,1268.4 623.5,1267.6 624.7,1266.7 626.0,1265.9 627.2,1265.0 628.4,1264.2 629.6,1263.3 630.9,1262.5 632.1,1261.7 633.3,1260.8 634.6,1260.0 635.8,1259.2 637.0,1258.3 638.3,1257.5 639.5,1256.7 640.8,1255.9 642.0,1255.1 643.3,1254.3 644.5,1253.5 645.8,1252.7 647.0,1251.9 648.3,1251.1 649.5,1250.3 650.8,1249.5 652.1,1248.7 653.3,1247.9 654.6,1247.1 655.9,1246.3 657.1,1245.6 658.4,1244.8 659.7,1244.0 660.9,1243.2 662.2,1242.5 663.5,1241.7 664.8,1241.0 666.1,1240.2 667.3,1239.5 668.6,1238.7 669.9,1238.0 671.2,1237.2 672.5,1236.5 673.8,1235.7 675.1,1235.0 676.4,1234.3 677.7,1233.6 679.0,1232.8 680.3,1232.1 681.6,1231.4 682.9,1230.7 684.2,1230.0 685.5,1229.3 686.8,1228.6 688.1,1227.9 689.4,1227.2 690.7,1226.5 692.1,1225.8 693.4,1225.1 694.7,1224.4 696.0,1223.7 697.4,1223.1 698.7,1222.4 700.0,1221.7 701.3,1221.0 702.7,1220.4 704.0,1219.7 705.3,1219.1 706.7,1218.4 708.0,1217.8 709.4,1217.1 710.7,1216.5 712.0,1215.8 713.4,1215.2 714.7,1214.6 716.1,1213.9 717.4,1213.3 718.8,1212.7 720.1,1212.1 721.5,1211.5 722.9,1210.9 724.2,1210.2 725.6,1209.6 726.9,1209.0 728.3,1208.4 729.7,1207.9 731.0,1207.3 732.4,1206.7 733.8,1206.1 735.2,1205.5 736.5,1204.9 737.9,1204.4 739.3,1203.8 740.7,1203.2 742.1,1202.7 743.4,1202.1 744.8,1201.6 746.2,1201.0 747.6,1200.5 749.0,1199.9 750.4,1199.4 751.8,1198.8 753.2,1198.3 754.6,1197.8 756.0,1197.3 757.4,1196.7 758.8,1196.2 760.2,1195.7 761.6,1195.2 763.0,1194.7 764.4,1194.2 765.8,1193.7 767.3,1193.2 768.7,1192.7 770.1,1192.2 771.5,1191.7 772.9,1191.3 774.4,1190.8 775.8,1190.3 777.2,1189.9 778.6,1189.4 780.1,1188.9 781.5,1188.5 782.9,1188.0 784.4,1187.6 785.8,1187.1 787.2,1186.7 788.7,1186.3 790.1,1185.8 791.6,1185.4 793.0,1185.0 794.5,1184.6 795.9,1184.1 797.4,1183.7 798.8,1183.3 800.3,1182.9 801.7,1182.5 803.2,1182.1 804.6,1181.7 806.1,1181.3 807.6,1181.0 809.0,1180.6 810.5,1180.2 812.0,1179.8 813.4,1179.5 814.9,1179.1 816.4,1178.7 817.9,1178.4 819.3,1178.0 820.8,1177.7 822.3,1177.3 823.8,1177.0 825.3,1176.7 826.7,1176.3 828.2,1176.0 829.7,1175.7 831.2,1175.4 832.7,1175.0 834.2,1174.7 835.7,1174.4 837.2,1174.1 838.7,1173.8 840.2,1173.5 841.7,1173.2 843.2,1173.0 844.7,1172.7 846.2,1172.4 847.7,1172.1 849.2,1171.9 850.7,1171.6 852.2,1171.3 853.8,1171.1 855.3,1170.8 856.8,1170.6 858.3,1170.4 859.8,1170.1 861.4,1169.9 862.9,1169.7 864.4,1169.4 865.9,1169.2 867.5,1169.0 869.0,1168.8 870.5,1168.6 872.1,1168.4 873.6,1168.2 875.1,1168.0 876.7,1167.8 878.2,1167.6 879.8,1167.4 881.3,1167.2 882.9,1167.1 884.4,1166.9" fill="none" stroke="#107a10" stroke-width="2.3" stroke-dasharray="8.5 3.7" stroke-linecap="butt" stroke-linejoin="round"/>
<path d="M388.7,1578.3 389.5,1577.0 390.3,1575.8 391.1,1574.5 391.9,1573.2 392.8,1572.0 393.6,1570.7 394.4,1569.4 395.2,1568.2 396.0,1566.9 396.8,1565.6 397.7,1564.4 398.5,1563.1 399.3,1561.9 400.2,1560.6 401.0,1559.3 401.8,1558.1 402.7,1556.8 403.5,1555.6 404.3,1554.3 405.2,1553.1 406.0,1551.8 406.9,1550.6 407.7,1549.3 408.6,1548.1 409.4,1546.8 410.3,1545.6 411.1,1544.3 412.0,1543.1 412.8,1541.9 413.7,1540.6 414.5,1539.4 415.4,1538.1 416.3,1536.9 417.1,1535.7 418.0,1534.4 418.9,1533.2 419.8,1532.0 420.6,1530.7 421.5,1529.5 422.4,1528.3 423.3,1527.1 424.1,1525.8 425.0,1524.6 425.9,1523.4 426.8,1522.2 427.7,1521.0 428.6,1519.7 429.5,1518.5 430.4,1517.3 431.3,1516.1 432.2,1514.9 433.1,1513.7 434.0,1512.5 434.9,1511.2 435.8,1510.0 436.7,1508.8 437.6,1507.6 438.5,1506.4 439.4,1505.2 440.3,1504.0 441.3,1502.8 442.2,1501.6 443.1,1500.4 444.0,1499.2 444.9,1498.0 445.9,1496.8 446.8,1495.7 447.7,1494.5 448.7,1493.3 449.6,1492.1 450.5,1490.9 451.5,1489.7 452.4,1488.5 453.3,1487.4 454.3,1486.2 455.2,1485.0 456.2,1483.8 457.1,1482.6 458.1,1481.5 459.0,1480.3 460.0,1479.1 460.9,1478.0 461.9,1476.8 462.9,1475.6 463.8,1474.5 464.8,1473.3 465.7,1472.1 466.7,1471.0 467.7,1469.8 468.6,1468.7 469.6,1467.5 470.6,1466.3 471.6,1465.2 472.5,1464.0 473.5,1462.9 474.5,1461.7 475.5,1460.6 476.5,1459.4 477.4,1458.3 478.4,1457.2 479.4,1456.0 480.4,1454.9 481.4,1453.7 482.4,1452.6 483.4,1451.5 484.4,1450.3 485.4,1449.2 486.4,1448.1 487.4,1447.0 488.4,1445.8 489.4,1444.7 490.4,1443.6 491.4,1442.5 492.4,1441.3 493.5,1440.2 494.5,1439.1 495.5,1438.0 496.5,1436.9 497.5,1435.8 498.6,1434.7 499.6,1433.6 500.6,1432.4 501.6,1431.3 502.7,1430.2 503.7,1429.1 504.7,1428.0 505.8,1426.9 506.8,1425.8 507.8,1424.8 508.9,1423.7 509.9,1422.6 511.0,1421.5 512.0,1420.4 513.1,1419.3 514.1,1418.2 515.2,1417.1 516.2,1416.1 517.3,1415.0 518.3,1413.9 519.4,1412.8 520.4,1411.8 521.5,1410.7 522.6,1409.6 523.6,1408.6 524.7,1407.5 525.7,1406.4 526.8,1405.4 527.9,1404.3 529.0,1403.2 530.0,1402.2 531.1,1401.1 532.2,1400.1 533.3,1399.0 534.4,1398.0 535.4,1396.9 536.5,1395.9 537.6,1394.8 538.7,1393.8 539.8,1392.8 540.9,1391.7 542.0,1390.7 543.1,1389.7 544.2,1388.6 545.3,1387.6 546.4,1386.6 547.5,1385.5 548.6,1384.5 549.7,1383.5 550.8,1382.5 551.9,1381.4 553.0,1380.4 554.1,1379.4 555.2,1378.4 556.3,1377.4 557.4,1376.4 558.6,1375.4 559.7,1374.4 560.8,1373.4 561.9,1372.4 563.1,1371.4 564.2,1370.4 565.3,1369.4 566.4,1368.4 567.6,1367.4 568.7,1366.4 569.8,1365.4 571.0,1364.4 572.1,1363.5 573.2,1362.5 574.4,1361.5 575.5,1360.5 576.7,1359.5 577.8,1358.6 579.0,1357.6 580.1,1356.6 581.3,1355.7 582.4,1354.7 583.6,1353.7 584.7,1352.8 585.9,1351.8 587.1,1350.9 588.2,1349.9 589.4,1349.0 590.5,1348.0 591.7,1347.1 592.9,1346.1 594.0,1345.2 595.2,1344.2 596.4,1343.3 597.6,1342.4 598.7,1341.4 599.9,1340.5 601.1,1339.6 602.3,1338.6 603.5,1337.7 604.6,1336.8 605.8,1335.9 607.0,1335.0 608.2,1334.0 609.4,1333.1 610.6,1332.2 611.8,1331.3 613.0,1330.4 614.2,1329.5 615.4,1328.6 616.6,1327.7 617.8,1326.8 619.0,1325.9 620.2,1325.0 621.4,1324.1 622.6,1323.2 623.8,1322.3 625.0,1321.4 626.2,1320.6 627.4,1319.7 628.6,1318.8 629.9,1317.9 631.1,1317.0 632.3,1316.2 633.5,1315.3 634.7,1314.4 636.0,1313.6 637.2,1312.7 638.4,1311.9 639.7,1311.0 640.9,1310.1 642.1,1309.3 643.4,1308.4 644.6,1307.6 645.8,1306.7 647.1,1305.9 648.3,1305.1 649.6,1304.2 650.8,1303.4 652.0,1302.6 653.3,1301.7 654.5,1300.9 655.8,1300.1 657.0,1299.2 658.3,1298.4 659.5,1297.6 660.8,1296.8 662.1,1296.0 663.3,1295.2 664.6,1294.4 665.8,1293.5 667.1,1292.7 668.4,1291.9 669.6,1291.1 670.9,1290.3 672.2,1289.5 673.5,1288.8 674.7,1288.0 676.0,1287.2 677.3,1286.4 678.6,1285.6 679.8,1284.8 681.1,1284.1 682.4,1283.3 683.7,1282.5 685.0,1281.7 686.3,1281.0 687.5,1280.2 688.8,1279.5 690.1,1278.7 691.4,1277.9 692.7,1277.2 694.0,1276.4 695.3,1275.7 696.6,1274.9 697.9,1274.2 699.2,1273.5 700.5,1272.7 701.8,1272.0 703.1,1271.2 704.4,1270.5 705.7,1269.8 707.0,1269.1 708.4,1268.3 709.7,1267.6 711.0,1266.9 712.3,1266.2 713.6,1265.5 714.9,1264.8 716.3,1264.1 717.6,1263.4 718.9,1262.6 720.2,1262.0 721.6,1261.3 722.9,1260.6 724.2,1259.9 725.6,1259.2 726.9,1258.5 728.2,1257.8 729.6,1257.1 730.9,1256.5 732.2,1255.8 733.6,1255.1 734.9,1254.4 736.3,1253.8 737.6,1253.1 739.0,1252.5 740.3,1251.8 741.6,1251.1 743.0,1250.5 744.4,1249.8 745.7,1249.2 747.1,1248.5 748.4,1247.9 749.8,1247.3 751.1,1246.6 752.5,1246.0 753.9,1245.4 755.2,1244.7 756.6,1244.1 758.0,1243.5 759.3,1242.9 760.7,1242.3 762.1,1241.6 763.4,1241.0 764.8,1240.4 766.2,1239.8 767.6,1239.2 768.9,1238.6 770.3,1238.0 771.7,1237.4 773.1,1236.8 774.5,1236.3 775.8,1235.7 777.2,1235.1 778.6,1234.5 780.0,1233.9 781.4,1233.4 782.8,1232.8 784.2,1232.2 785.6,1231.7 787.0,1231.1 788.4,1230.5 789.8,1230.0 791.2,1229.4 792.6,1228.9 794.0,1228.3 795.4,1227.8 796.8,1227.3 798.2,1226.7 799.6,1226.2 801.0,1225.7 802.4,1225.1 803.8,1224.6 805.3,1224.1 806.7,1223.6 808.1,1223.0 809.5,1222.5 810.9,1222.0 812.3,1221.5 813.8,1221.0 815.2,1220.5 816.6,1220.0 818.0,1219.5 819.5,1219.0 820.9,1218.5 822.3,1218.0 823.8,1217.6 825.2,1217.1 826.6,1216.6 828.1,1216.1 829.5,1215.7 831.0,1215.2 832.4,1214.7 833.8,1214.3 835.3,1213.8 836.7,1213.4 838.2,1212.9 839.6,1212.5 841.1,1212.0 842.5,1211.6 844.0,1211.1 845.4,1210.7 846.9,1210.3 848.3,1209.8 849.8,1209.4 851.2,1209.0 852.7,1208.6 854.2,1208.1 855.6,1207.7 857.1,1207.3 858.6,1206.9 860.0,1206.5 861.5,1206.1 863.0,1205.7 864.4,1205.3 865.9,1204.9 867.4,1204.5 868.8,1204.1 870.3,1203.8 871.8,1203.4 873.3,1203.0 874.8,1202.6 876.2,1202.3 877.7,1201.9 879.2,1201.5 880.7,1201.2 882.2,1200.8 883.7,1200.5 885.1,1200.1 886.6,1199.8 888.1,1199.4 889.6,1199.1 891.1,1198.8 892.6,1198.4 894.1,1198.1 895.6,1197.8 897.1,1197.5 898.6,1197.1 900.1,1196.8 901.6,1196.5" fill="none" stroke="#f25020" stroke-width="2.3" stroke-dasharray="8.5 3.7" stroke-linecap="butt" stroke-linejoin="round"/>
<path d="M123.5,1578.3 H904.0" stroke="#e08a3a" stroke-width="2.3" stroke-opacity="0.95" fill="none"/>
<rect x="96" y="1126.8" width="315" height="193.20000000000005" rx="4" fill="#d3d3d3" fill-opacity="0.85"/>
<text x="192.99" y="1148.10" font-size="19.24" fill="#000000" textLength="113.83" lengthAdjust="spacingAndGlyphs" stroke="#000000" stroke-width="0.22" >Pellet Speed</text>
<path d="M100.1,1168.3 H137.6" stroke="#2f8ff0" stroke-width="2.3" stroke-dasharray="8.5 3.7" fill="none"/>
<text x="151.08" y="1174.92" font-size="19.24" fill="#1414c8" textLength="91.07" lengthAdjust="spacingAndGlyphs" stroke="#1414c8" stroke-width="0.22" >0.02988 L</text>
<path d="M100.1,1194.7 H137.6" stroke="#f020f0" stroke-width="2.3" stroke-dasharray="8.5 3.7" fill="none"/>
<text x="151.09" y="1201.32" font-size="19.24" fill="#1414c8" textLength="67.98" lengthAdjust="spacingAndGlyphs" stroke="#1414c8" stroke-width="0.22" >0.054 L</text>
<path d="M100.1,1220.4 H137.6" stroke="#107a10" stroke-width="2.3" stroke-dasharray="8.5 3.7" fill="none"/>
<text x="151.10" y="1227.02" font-size="19.24" fill="#1414c8" textLength="249.30" lengthAdjust="spacingAndGlyphs" stroke="#1414c8" stroke-width="0.22" >0.0735 L (ORNL Test Stand)</text>
<path d="M100.1,1246.8 H137.6" stroke="#f25020" stroke-width="2.3" stroke-dasharray="8.5 3.7" fill="none"/>
<text x="151.08" y="1253.42" font-size="19.24" fill="#1414c8" textLength="79.53" lengthAdjust="spacingAndGlyphs" stroke="#1414c8" stroke-width="0.22" >0.0946 L</text>
<path d="M100.1,1273.1 H137.6" stroke="#6e0c78" stroke-width="2.3" stroke-dasharray="8.5 3.7" fill="none"/>
<text x="151.11" y="1279.72" font-size="19.24" fill="#1414c8" textLength="196.04" lengthAdjust="spacingAndGlyphs" stroke="#1414c8" stroke-width="0.22" >0.154 L (ITER Design)</text>
<path d="M100.1,1299.4 H137.6" stroke="#d8a332" stroke-width="2.3" stroke-dasharray="8.5 3.7" fill="none"/>
<text x="151.09" y="1306.02" font-size="19.24" fill="#1414c8" textLength="67.98" lengthAdjust="spacingAndGlyphs" stroke="#1414c8" stroke-width="0.22" >0.208 L</text>
<path d="M84.8,1578.3 H943.0 M84.8,1514.8 H943.0 M84.8,1451.3 H943.0 M84.8,1387.9 H943.0 M84.8,1324.4 H943.0 M84.8,1260.9 H943.0 M84.8,1197.4 H943.0 M84.8,1134.0 H943.0" stroke="#d01010" stroke-opacity="0.17" stroke-width="1.2" fill="none"/>
<path d="M123.5,1578.3 124.5,1577.2 125.5,1576.1 126.5,1574.9 127.5,1573.8 128.5,1572.7 129.5,1571.5 130.5,1570.4 131.5,1569.2 132.4,1568.1 133.4,1566.9 134.3,1565.8 135.3,1564.6 136.2,1563.4 137.1,1562.2 138.0,1561.1 139.0,1559.9 139.9,1558.7 140.8,1557.5 141.7,1556.3 142.5,1555.1 143.4,1553.9 144.3,1552.7 145.2,1551.4 146.0,1550.2 146.9,1549.0 147.7,1547.8 148.6,1546.5 149.4,1545.3 150.2,1544.1 151.0,1542.8 151.9,1541.6 152.7,1540.3 153.5,1539.1 154.3,1537.8 155.1,1536.5 155.8,1535.3 156.6,1534.0 157.4,1532.7 158.2,1531.5 158.9,1530.2 159.7,1528.9 160.4,1527.6 161.2,1526.3 161.9,1525.0 162.6,1523.7 163.4,1522.4 164.1,1521.1 164.8,1519.8 165.5,1518.5 166.2,1517.2 166.9,1515.9 167.6,1514.5 168.3,1513.2 169.0,1511.9 169.6,1510.6 170.3,1509.2 171.0,1507.9 171.6,1506.5 172.3,1505.2 173.0,1503.9 173.6,1502.5 174.2,1501.2 174.9,1499.8 175.5,1498.4 176.1,1497.1 176.8,1495.7 177.4,1494.4 178.0,1493.0 178.6,1491.6 179.2,1490.2 179.8,1488.9 180.4,1487.5 181.0,1486.1 181.6,1484.7 182.2,1483.3 182.7,1481.9 183.3,1480.6 183.9,1479.2 184.4,1477.8 185.0,1476.4 185.6,1475.0 186.1,1473.6 186.7,1472.2 187.2,1470.8 187.7,1469.3 188.3,1467.9 188.8,1466.5 189.3,1465.1 189.8,1463.7 190.4,1462.3 190.9,1460.8 191.4,1459.4 191.9,1458.0 192.4,1456.6 192.9,1455.1 193.4,1453.7 193.9,1452.3 194.4,1450.8 194.9,1449.4 195.4,1448.0 195.8,1446.5 196.3,1445.1 196.8,1443.6 197.3,1442.2 197.7,1440.8 198.2,1439.3 198.7,1437.9 199.1,1436.4 199.6,1435.0 200.0,1433.5 200.5,1432.0 200.9,1430.6 201.4,1429.1 201.8,1427.7 202.2,1426.2 202.7,1424.8 203.1,1423.3 203.5,1421.8 204.0,1420.4 204.4,1418.9 204.8,1417.4 205.2,1416.0 205.6,1414.5 206.0,1413.0 206.5,1411.6 206.9,1410.1 207.3,1408.6 207.7,1407.2 208.1,1405.7 208.5,1404.2 208.9,1402.7 209.3,1401.3 209.7,1399.8 210.1,1398.3 210.4,1396.8 210.8,1395.4 211.2,1393.9 211.6,1392.4 212.0,1390.9 212.4,1389.4 212.7,1388.0 213.1,1386.5 213.5,1385.0 213.9,1383.5 214.2,1382.0 214.6,1380.6 215.0,1379.1 215.4,1377.6 215.7,1376.1 216.1,1374.6 216.4,1373.2 216.8,1371.7 217.2,1370.2 217.5,1368.7 217.9,1367.2 218.2,1365.7 218.6,1364.3 219.0,1362.8 219.3,1361.3 219.7,1359.8 220.0,1358.3 220.4,1356.9 220.7,1355.4 221.1,1353.9 221.4,1352.4 221.8,1350.9 222.1,1349.5 222.5,1348.0 222.8,1346.5 223.2,1345.0 223.5,1343.6 223.8,1342.1 224.2,1340.6 224.5,1339.1 224.9,1337.7 225.2,1336.2 225.6,1334.7 225.9,1333.2 226.2,1331.8 226.6,1330.3 226.9,1328.8 227.3,1327.4 227.6,1325.9 228.0,1324.4 228.3,1323.0 228.6,1321.5 229.0,1320.0 229.3,1318.6 229.7,1317.1 230.0,1315.7 230.4,1314.2 230.7,1312.7 231.0,1311.3 231.4,1309.8 231.7,1308.4 232.1,1306.9 232.4,1305.5 232.8,1304.0 233.1,1302.6 233.5,1301.1 233.8,1299.7 234.2,1298.2 234.5,1296.8 234.9,1295.4 235.2,1293.9 235.6,1292.5 235.9,1291.1 236.3,1289.6 236.6,1288.2 237.0,1286.8 237.4,1285.3 237.7,1283.9 238.1,1282.5 238.4,1281.1 238.8,1279.6 239.2,1278.2 239.5,1276.8 239.9,1275.4 240.3,1274.0 240.6,1272.6 241.0,1271.2 241.4,1269.8 241.8,1268.4 242.1,1267.0 242.5,1265.6 242.9,1264.2 243.3,1262.8 243.7,1261.4 244.0,1260.0 244.4,1258.6 244.8,1257.2 245.2,1255.8 245.6,1254.4 246.0,1253.1 246.4,1251.7 246.8,1250.3 247.2,1248.9 247.6,1247.5 248.0,1246.1 248.4,1244.8 248.8,1243.4 249.2,1242.0 249.7,1240.6 250.1,1239.2 250.5,1237.8 250.9,1236.4 251.4,1235.0 251.8,1233.6 252.2,1232.2 252.7,1230.8 253.1,1229.4 253.6,1228.0 254.0,1226.6 254.5,1225.2 255.0,1223.8 255.4,1222.4 255.9,1221.0 256.4,1219.5 256.8,1218.1 257.3,1216.7 257.8,1215.2 258.3,1213.8 258.8,1212.3 259.3,1210.9 259.8,1209.4 260.3,1207.9 260.8,1206.4 261.3,1205.0 261.8,1203.5 262.3,1202.0 262.9,1200.5 263.4,1199.0 263.9,1197.4 264.5,1195.9 265.0,1194.4 265.6,1192.8 266.1,1191.3 266.7,1189.7 267.3,1188.2 267.8,1186.6 268.4,1185.0 269.0,1183.4 269.6,1181.8 270.2,1180.2 270.8,1178.6 271.4,1177.0 272.0,1175.4 272.7,1173.8 273.3,1172.2 274.0,1170.6 274.7,1169.0 275.4,1167.5 276.1,1165.9 276.8,1164.4 277.5,1162.9 278.3,1161.4 279.1,1159.9 279.9,1158.5 280.7,1157.1 281.5,1155.7 282.4,1154.4 283.3,1153.1 284.2,1151.9 285.2,1150.7 286.1,1149.5 287.1,1148.4 288.1,1147.3 289.2,1146.3 290.2,1145.3 291.3,1144.4 292.4,1143.6 293.5,1142.8 294.6,1142.1 295.7,1141.5 296.9,1141.0 298.0,1140.5 299.2,1140.1 300.4,1139.8 301.6,1139.5 302.8,1139.3 304.0,1139.2 305.2,1139.1 306.5,1139.2 307.7,1139.2 309.0,1139.4 310.2,1139.6 311.5,1139.9 312.7,1140.2 314.0,1140.6 315.2,1141.0 316.5,1141.5 317.7,1142.0 319.0,1142.6 320.2,1143.3 321.5,1143.9 322.7,1144.7 323.9,1145.5 325.1,1146.3 326.4,1147.1 327.6,1148.1 328.7,1149.0 329.9,1150.0 331.1,1151.0 332.2,1152.0 333.3,1153.1 334.5,1154.2 335.6,1155.4 336.6,1156.5 337.7,1157.7 338.7,1159.0 339.7,1160.2 340.7,1161.5 341.7,1162.7 342.6,1164.0 343.6,1165.4 344.5,1166.7 345.4,1168.1 346.2,1169.4 347.1,1170.8 347.9,1172.2 348.8,1173.6 349.6,1175.0 350.4,1176.4 351.2,1177.9 351.9,1179.3 352.7,1180.7 353.5,1182.2 354.2,1183.6 354.9,1185.1 355.7,1186.5 356.4,1187.9 357.1,1189.4 357.9,1190.8 358.6,1192.2 359.3,1193.6 360.0,1195.0 360.8,1196.4 361.5,1197.8 362.2,1199.2 362.9,1200.6 363.7,1201.9 364.4,1203.2 365.2,1204.6 365.9,1205.9 366.6,1207.2 367.4,1208.5 368.2,1209.8 368.9,1211.1 369.7,1212.3 370.4,1213.6 371.2,1214.9 372.0,1216.1 372.7,1217.4 373.5,1218.6 374.3,1219.9 375.0,1221.1 375.8,1222.3 376.6,1223.6 377.4,1224.8 378.2,1226.0 379.0,1227.2 379.8,1228.5 380.5,1229.7 381.3,1230.9 382.1,1232.2 382.9,1233.4 383.7,1234.6 384.5,1235.9 385.3,1237.1 386.1,1238.3 386.9,1239.6 387.7,1240.8 388.5,1242.1 389.4,1243.3 390.2,1244.6 391.0,1245.8 391.8,1247.1 392.6,1248.3 393.4,1249.6 394.2,1250.8 395.1,1252.1 395.9,1253.3 396.7,1254.6 397.6,1255.8 398.4,1257.1 399.2,1258.3 400.1,1259.6 400.9,1260.9 401.7,1262.1 402.6,1263.4 403.4,1264.6 404.3,1265.9 405.1,1267.1 406.0,1268.4 406.8,1269.6 407.7,1270.9 408.6,1272.1 409.4,1273.3 410.3,1274.6 411.2,1275.8 412.0,1277.1 412.9,1278.3 413.8,1279.5 414.7,1280.8 415.5,1282.0 416.4,1283.2 417.3,1284.4 418.2,1285.7 419.1,1286.9 420.0,1288.1 420.9,1289.3 421.8,1290.5 422.7,1291.7 423.6,1292.9 424.5,1294.1 425.5,1295.3 426.4,1296.5 427.3,1297.7 428.2,1298.9 429.2,1300.1 430.1,1301.3 431.0,1302.4 432.0,1303.6 432.9,1304.8 433.9,1305.9 434.8,1307.1 435.8,1308.3 436.7,1309.4 437.7,1310.6 438.6,1311.7 439.6,1312.9 440.6,1314.0 441.5,1315.2 442.5,1316.3 443.5,1317.4 444.4,1318.6 445.4,1319.7 446.4,1320.8 447.4,1322.0 448.4,1323.1 449.4,1324.2 450.4,1325.3 451.4,1326.4 452.4,1327.6 453.4,1328.7 454.4,1329.8 455.4,1330.9 456.4,1332.0 457.4,1333.1 458.4,1334.2 459.4,1335.3 460.5,1336.4 461.5,1337.4 462.5,1338.5 463.5,1339.6 464.6,1340.7 465.6,1341.8 466.7,1342.8 467.7,1343.9 468.7,1345.0 469.8,1346.1 470.8,1347.1 471.9,1348.2 472.9,1349.3 474.0,1350.3 475.0,1351.4 476.1,1352.4 477.2,1353.5 478.2,1354.5 479.3,1355.6 480.4,1356.6 481.4,1357.7 482.5,1358.7 483.6,1359.8 484.7,1360.8 485.8,1361.8 486.8,1362.9 487.9,1363.9 489.0,1364.9 490.1,1366.0 491.2,1367.0 492.3,1368.0 493.4,1369.0 494.5,1370.1 495.6,1371.1 496.7,1372.1 497.8,1373.1 498.9,1374.1 500.0,1375.1 501.1,1376.1 502.3,1377.2 503.4,1378.2 504.5,1379.2 505.6,1380.2 506.7,1381.2 507.9,1382.2 509.0,1383.2 510.1,1384.1 511.3,1385.1 512.4,1386.1 513.5,1387.1 514.7,1388.1 515.8,1389.1 517.0,1390.1 518.1,1391.0 519.3,1392.0 520.4,1393.0 521.6,1393.9 522.7,1394.9 523.9,1395.9 525.0,1396.8 526.2,1397.8 527.4,1398.7 528.5,1399.7 529.7,1400.7 530.9,1401.6 532.1,1402.5 533.2,1403.5 534.4,1404.4 535.6,1405.4 536.8,1406.3 538.0,1407.2 539.2,1408.2 540.3,1409.1 541.5,1410.0 542.7,1410.9 543.9,1411.8 545.1,1412.8 546.3,1413.7 547.5,1414.6 548.7,1415.5 549.9,1416.4 551.2,1417.3 552.4,1418.2 553.6,1419.1 554.8,1419.9 556.0,1420.8 557.2,1421.7 558.5,1422.6 559.7,1423.5 560.9,1424.3 562.1,1425.2 563.4,1426.1 564.6,1426.9 565.8,1427.8 567.1,1428.6 568.3,1429.5 569.6,1430.3 570.8,1431.2 572.1,1432.0 573.3,1432.9 574.6,1433.7 575.8,1434.5 577.1,1435.3 578.3,1436.2 579.6,1437.0 580.9,1437.8 582.1,1438.6 583.4,1439.4 584.7,1440.2 585.9,1441.0 587.2,1441.8 588.5,1442.6 589.8,1443.4 591.0,1444.2 592.3,1444.9 593.6,1445.7 594.9,1446.5 596.2,1447.2 597.5,1448.0 598.8,1448.8 600.1,1449.5 601.4,1450.3 602.7,1451.0 604.0,1451.7 605.3,1452.5 606.6,1453.2 607.9,1453.9 609.2,1454.7 610.5,1455.4 611.8,1456.1 613.2,1456.8 614.5,1457.5 615.8,1458.2 617.1,1458.9 618.5,1459.6 619.8,1460.3 621.1,1461.0 622.5,1461.6 623.8,1462.3 625.1,1463.0 626.5,1463.6 627.8,1464.3 629.2,1464.9 630.5,1465.6 631.9,1466.2 633.2,1466.9 634.6,1467.5 635.9,1468.1 637.3,1468.7 638.6,1469.4 640.0,1470.0 641.4,1470.6 642.7,1471.2 644.1,1471.8 645.5,1472.4 646.9,1473.0 648.2,1473.5 649.6,1474.1 651.0,1474.7 652.4,1475.3 653.8,1475.8 655.1,1476.4 656.5,1476.9 657.9,1477.5 659.3,1478.0 660.7,1478.5 662.1,1479.1 663.5,1479.6 664.9,1480.1 666.3,1480.6 667.7,1481.1 669.1,1481.6 670.5,1482.1 672.0,1482.6 673.4,1483.1 674.8,1483.6 676.2,1484.0 677.6,1484.5 679.1,1485.0 680.5,1485.4 681.9,1485.9 683.3,1486.3 684.8,1486.7 686.2,1487.2 687.7,1487.6 689.1,1488.0 690.5,1488.4 692.0,1488.8 693.4,1489.2 694.9,1489.6 696.3,1490.0 697.8,1490.4 699.2,1490.8 700.7,1491.1 702.1,1491.5 703.6,1491.8 705.1,1492.2 706.5,1492.5 708.0,1492.9 709.5,1493.2 711.0,1493.5 712.4,1493.8 713.9,1494.2 715.4,1494.5 716.9,1494.8 718.3,1495.0 719.8,1495.3 721.3,1495.6 722.8,1495.9 724.3,1496.1 725.8,1496.4 727.3,1496.7 728.8,1496.9 730.3,1497.1 731.8,1497.4 733.3,1497.6 734.8,1497.8 736.3,1498.0 737.8,1498.2 739.3,1498.4 740.9,1498.6 742.4,1498.8 743.9,1499.0 745.4,1499.1 746.9,1499.3 748.5,1499.5 750.0,1499.6 751.5,1499.7 753.1,1499.9 754.6,1500.0" fill="none" stroke="#2f8ff0" stroke-width="2.3" stroke-linecap="butt" stroke-linejoin="round"/>
<path d="M123.5,1578.3 124.7,1577.4 125.9,1576.5 127.1,1575.6 128.3,1574.7 129.5,1573.8 130.7,1572.9 131.9,1572.0 133.1,1571.1 134.3,1570.1 135.4,1569.2 136.6,1568.2 137.7,1567.3 138.9,1566.3 140.0,1565.4 141.2,1564.4 142.3,1563.4 143.4,1562.5 144.6,1561.5 145.7,1560.5 146.8,1559.5 147.9,1558.5 149.0,1557.5 150.1,1556.5 151.2,1555.5 152.3,1554.5 153.4,1553.5 154.5,1552.4 155.6,1551.4 156.7,1550.4 157.7,1549.3 158.8,1548.3 159.8,1547.2 160.9,1546.2 161.9,1545.1 163.0,1544.0 164.0,1543.0 165.1,1541.9 166.1,1540.8 167.1,1539.7 168.1,1538.6 169.2,1537.5 170.2,1536.4 171.2,1535.3 172.2,1534.2 173.2,1533.1 174.2,1532.0 175.1,1530.9 176.1,1529.8 177.1,1528.6 178.1,1527.5 179.0,1526.4 180.0,1525.2 181.0,1524.1 181.9,1522.9 182.9,1521.8 183.8,1520.6 184.8,1519.4 185.7,1518.3 186.6,1517.1 187.6,1515.9 188.5,1514.7 189.4,1513.6 190.3,1512.4 191.2,1511.2 192.1,1510.0 193.0,1508.8 193.9,1507.6 194.8,1506.4 195.7,1505.2 196.6,1504.0 197.5,1502.7 198.3,1501.5 199.2,1500.3 200.1,1499.1 200.9,1497.8 201.8,1496.6 202.6,1495.4 203.5,1494.1 204.3,1492.9 205.2,1491.6 206.0,1490.4 206.8,1489.1 207.6,1487.8 208.5,1486.6 209.3,1485.3 210.1,1484.0 210.9,1482.8 211.7,1481.5 212.5,1480.2 213.3,1478.9 214.1,1477.7 214.9,1476.4 215.6,1475.1 216.4,1473.8 217.2,1472.5 218.0,1471.2 218.7,1469.9 219.5,1468.6 220.3,1467.3 221.0,1465.9 221.8,1464.6 222.5,1463.3 223.2,1462.0 224.0,1460.7 224.7,1459.3 225.4,1458.0 226.2,1456.7 226.9,1455.3 227.6,1454.0 228.3,1452.7 229.0,1451.3 229.7,1450.0 230.4,1448.6 231.1,1447.3 231.8,1445.9 232.5,1444.6 233.2,1443.2 233.8,1441.9 234.5,1440.5 235.2,1439.1 235.9,1437.8 236.5,1436.4 237.2,1435.0 237.8,1433.7 238.5,1432.3 239.1,1430.9 239.8,1429.5 240.4,1428.2 241.0,1426.8 241.7,1425.4 242.3,1424.0 242.9,1422.6 243.6,1421.2 244.2,1419.8 244.8,1418.5 245.4,1417.1 246.0,1415.7 246.6,1414.3 247.2,1412.9 247.8,1411.5 248.4,1410.1 249.0,1408.6 249.5,1407.2 250.1,1405.8 250.7,1404.4 251.3,1403.0 251.8,1401.6 252.4,1400.2 253.0,1398.8 253.5,1397.4 254.1,1395.9 254.6,1394.5 255.2,1393.1 255.7,1391.7 256.2,1390.2 256.8,1388.8 257.3,1387.4 257.8,1386.0 258.3,1384.5 258.9,1383.1 259.4,1381.7 259.9,1380.2 260.4,1378.8 260.9,1377.4 261.4,1375.9 261.9,1374.5 262.4,1373.1 262.9,1371.6 263.4,1370.2 263.9,1368.8 264.4,1367.3 264.8,1365.9 265.3,1364.4 265.8,1363.0 266.2,1361.6 266.7,1360.1 267.2,1358.7 267.6,1357.2 268.1,1355.8 268.5,1354.3 269.0,1352.9 269.4,1351.5 269.9,1350.0 270.3,1348.6 270.7,1347.1 271.2,1345.7 271.6,1344.2 272.0,1342.8 272.4,1341.3 272.8,1339.9 273.3,1338.4 273.7,1337.0 274.1,1335.5 274.5,1334.1 274.9,1332.6 275.3,1331.2 275.7,1329.7 276.1,1328.3 276.5,1326.8 276.9,1325.4 277.3,1323.9 277.7,1322.5 278.1,1321.1 278.5,1319.6 278.9,1318.2 279.3,1316.7 279.7,1315.3 280.0,1313.8 280.4,1312.4 280.8,1310.9 281.2,1309.5 281.6,1308.1 282.0,1306.6 282.4,1305.2 282.8,1303.7 283.2,1302.3 283.6,1300.9 284.0,1299.4 284.5,1298.0 284.9,1296.5 285.3,1295.1 285.7,1293.7 286.1,1292.2 286.5,1290.8 287.0,1289.4 287.4,1288.0 287.8,1286.5 288.3,1285.1 288.7,1283.7 289.2,1282.3 289.6,1280.8 290.1,1279.4 290.5,1278.0 291.0,1276.6 291.5,1275.2 292.0,1273.8 292.4,1272.3 292.9,1270.9 293.4,1269.5 293.9,1268.1 294.4,1266.7 294.9,1265.3 295.5,1263.9 296.0,1262.5 296.5,1261.1 297.0,1259.7 297.6,1258.3 298.2,1256.9 298.7,1255.5 299.3,1254.1 299.9,1252.8 300.4,1251.4 301.0,1250.0 301.6,1248.6 302.3,1247.2 302.9,1245.9 303.5,1244.5 304.2,1243.1 304.8,1241.8 305.5,1240.4 306.1,1239.0 306.8,1237.7 307.5,1236.3 308.2,1235.0 308.9,1233.6 309.6,1232.3 310.4,1230.9 311.1,1229.6 311.9,1228.2 312.6,1226.9 313.4,1225.6 314.2,1224.3 315.0,1222.9 315.8,1221.6 316.6,1220.3 317.5,1219.0 318.3,1217.6 319.2,1216.3 320.1,1215.0 321.0,1213.7 321.9,1212.4 322.8,1211.1 323.7,1209.8 324.7,1208.6 325.6,1207.3 326.6,1206.0 327.6,1204.8 328.6,1203.5 329.6,1202.3 330.6,1201.1 331.6,1199.9 332.6,1198.7 333.7,1197.6 334.8,1196.4 335.8,1195.3 336.9,1194.2 338.0,1193.2 339.1,1192.1 340.2,1191.1 341.3,1190.1 342.5,1189.2 343.6,1188.2 344.8,1187.3 345.9,1186.5 347.1,1185.6 348.3,1184.8 349.5,1184.1 350.7,1183.3 351.9,1182.6 353.1,1182.0 354.3,1181.4 355.6,1180.8 356.8,1180.3 358.0,1179.8 359.3,1179.4 360.6,1179.0 361.8,1178.7 363.1,1178.4 364.4,1178.2 365.7,1178.0 367.0,1177.9 368.3,1177.8 369.6,1177.8 370.9,1177.8 372.2,1177.9 373.5,1178.0 374.8,1178.2 376.2,1178.5 377.5,1178.8 378.8,1179.1 380.1,1179.5 381.4,1179.9 382.8,1180.4 384.1,1180.9 385.4,1181.4 386.7,1182.0 388.0,1182.6 389.3,1183.3 390.6,1184.0 391.9,1184.7 393.2,1185.5 394.4,1186.2 395.7,1187.1 396.9,1187.9 398.1,1188.8 399.4,1189.7 400.6,1190.6 401.8,1191.5 402.9,1192.5 404.1,1193.5 405.2,1194.5 406.4,1195.5 407.5,1196.5 408.6,1197.6 409.7,1198.7 410.8,1199.8 411.9,1200.9 413.0,1202.0 414.1,1203.2 415.1,1204.4 416.2,1205.5 417.2,1206.7 418.2,1207.9 419.3,1209.2 420.3,1210.4 421.3,1211.6 422.3,1212.9 423.3,1214.2 424.2,1215.4 425.2,1216.7 426.2,1218.0 427.2,1219.3 428.1,1220.6 429.1,1221.9 430.0,1223.3 430.9,1224.6 431.9,1225.9 432.8,1227.2 433.7,1228.6 434.7,1229.9 435.6,1231.3 436.5,1232.6 437.4,1233.9 438.3,1235.3 439.2,1236.6 440.1,1238.0 441.0,1239.3 441.9,1240.7 442.8,1242.0 443.7,1243.3 444.6,1244.6 445.5,1246.0 446.4,1247.3 447.3,1248.6 448.2,1249.9 449.1,1251.2 450.0,1252.5 450.8,1253.8 451.7,1255.1 452.6,1256.3 453.5,1257.6 454.4,1258.8 455.3,1260.1 456.2,1261.4 457.1,1262.6 458.0,1263.8 458.9,1265.1 459.8,1266.3 460.7,1267.5 461.6,1268.7 462.5,1269.9 463.4,1271.1 464.3,1272.4 465.1,1273.5 466.0,1274.7 466.9,1275.9 467.8,1277.1 468.7,1278.3 469.6,1279.5 470.5,1280.7 471.4,1281.8 472.3,1283.0 473.2,1284.2 474.1,1285.3 475.0,1286.5 475.9,1287.6 476.8,1288.8 477.7,1289.9 478.6,1291.1 479.5,1292.2 480.4,1293.4 481.3,1294.5 482.2,1295.7 483.1,1296.8 484.0,1297.9 484.9,1299.1 485.8,1300.2 486.7,1301.3 487.6,1302.5 488.5,1303.6 489.4,1304.7 490.4,1305.9 491.3,1307.0 492.2,1308.1 493.1,1309.2 494.0,1310.4 494.9,1311.5 495.8,1312.6 496.7,1313.7 497.6,1314.9 498.5,1316.0 499.4,1317.1 500.4,1318.3 501.3,1319.4 502.2,1320.5 503.1,1321.7 504.0,1322.8 504.9,1323.9 505.9,1325.1 506.8,1326.2 507.7,1327.3 508.6,1328.5 509.5,1329.6 510.5,1330.8 511.4,1331.9 512.3,1333.1 513.2,1334.2 514.1,1335.4 515.1,1336.5 516.0,1337.7 516.9,1338.8 517.8,1340.0 518.8,1341.2 519.7,1342.4 520.6,1343.5 521.6,1344.7 522.5,1345.9 523.4,1347.1 524.4,1348.2 525.3,1349.4 526.3,1350.6 527.2,1351.8 528.1,1353.0 529.1,1354.2 530.0,1355.4 531.0,1356.6 531.9,1357.7 532.9,1358.9 533.8,1360.1 534.8,1361.3 535.8,1362.5 536.7,1363.7 537.7,1364.9 538.6,1366.1 539.6,1367.3 540.6,1368.4 541.6,1369.6 542.5,1370.8 543.5,1372.0 544.5,1373.2 545.5,1374.3 546.5,1375.5 547.5,1376.7 548.5,1377.8 549.5,1379.0 550.5,1380.1 551.5,1381.3 552.5,1382.5 553.5,1383.6 554.5,1384.7 555.6,1385.9 556.6,1387.0 557.6,1388.1 558.6,1389.3 559.7,1390.4 560.7,1391.5 561.8,1392.6 562.8,1393.7 563.9,1394.8 564.9,1395.9 566.0,1397.0 567.1,1398.1 568.2,1399.1 569.2,1400.2 570.3,1401.3 571.4,1402.3 572.5,1403.4 573.6,1404.4 574.7,1405.4 575.8,1406.4 576.9,1407.5 578.1,1408.5 579.2,1409.5 580.3,1410.4 581.5,1411.4 582.6,1412.4 583.8,1413.4 584.9,1414.3 586.1,1415.2 587.2,1416.2 588.4,1417.1 589.6,1418.0 590.8,1418.9 592.0,1419.8 593.2,1420.7 594.4,1421.6 595.6,1422.4 596.8,1423.3 598.0,1424.1 599.3,1425.0 600.5,1425.8 601.7,1426.6 603.0,1427.4 604.2,1428.2 605.5,1429.0 606.7,1429.8 608.0,1430.6 609.3,1431.3 610.6,1432.1 611.8,1432.8 613.1,1433.6 614.4,1434.3 615.7,1435.0 617.0,1435.7 618.3,1436.4 619.6,1437.1 620.9,1437.8 622.3,1438.5 623.6,1439.2 624.9,1439.9 626.2,1440.5 627.6,1441.2 628.9,1441.8 630.3,1442.5 631.6,1443.1 633.0,1443.7 634.3,1444.4 635.7,1445.0 637.1,1445.6 638.4,1446.2 639.8,1446.8 641.2,1447.4 642.6,1448.0 643.9,1448.5 645.3,1449.1 646.7,1449.7 648.1,1450.2 649.5,1450.8 650.9,1451.3 652.3,1451.9 653.7,1452.4 655.1,1453.0 656.5,1453.5 657.9,1454.0 659.4,1454.5 660.8,1455.0 662.2,1455.6 663.6,1456.1 665.1,1456.6 666.5,1457.1 667.9,1457.5 669.4,1458.0 670.8,1458.5 672.2,1459.0 673.7,1459.5 675.1,1459.9 676.6,1460.4 678.0,1460.9 679.5,1461.3 680.9,1461.8 682.4,1462.2 683.8,1462.7 685.3,1463.1 686.8,1463.6 688.2,1464.0 689.7,1464.5 691.1,1464.9 692.6,1465.3 694.1,1465.7 695.5,1466.2 697.0,1466.6 698.5,1467.0 700.0,1467.4 701.4,1467.9 702.9,1468.3 704.4,1468.7 705.9,1469.1 707.3,1469.5 708.8,1469.9 710.3,1470.3 711.8,1470.7 713.2,1471.1 714.7,1471.5 716.2,1471.9 717.7,1472.3 719.2,1472.7 720.6,1473.1 722.1,1473.5 723.6,1473.9 725.1,1474.3 726.6,1474.7 728.0,1475.1 729.5,1475.5 731.0,1475.9 732.5,1476.3 734.0,1476.7 735.4,1477.1 736.9,1477.5 738.4,1477.9 739.9,1478.3 741.3,1478.7 742.8,1479.1 744.3,1479.5 745.8,1479.9 747.2,1480.3 748.7,1480.7 750.2,1481.1 751.7,1481.5 753.1,1481.9 754.6,1482.3 756.1,1482.7 757.5,1483.1 759.0,1483.5 760.4,1483.9 761.9,1484.3 763.4,1484.7 764.8,1485.1 766.3,1485.5 767.7,1486.0 769.2,1486.4 770.6,1486.8 772.1,1487.2 773.5,1487.7 775.0,1488.1 776.4,1488.5 777.8,1489.0 779.3,1489.4 780.7,1489.9 782.1,1490.3 783.6,1490.8 785.0,1491.2 786.4,1491.7 787.8,1492.1 789.3,1492.6 790.7,1493.1 792.1,1493.5 793.5,1494.0 794.9,1494.5 796.3,1495.0 797.7,1495.4 799.1,1495.9 800.5,1496.4 801.9,1496.9 803.3,1497.4 804.7,1497.9 806.0,1498.5 807.4,1499.0 808.8,1499.5 810.2,1500.0 811.5,1500.6 812.9,1501.1 814.3,1501.6 815.6,1502.2 817.0,1502.7 818.3,1503.3 819.6,1503.9 821.0,1504.4 822.3,1505.0 823.6,1505.6 825.0,1506.2 826.3,1506.8 827.6,1507.4" fill="none" stroke="#f020f0" stroke-width="2.3" stroke-linecap="butt" stroke-linejoin="round"/>
<path d="M123.5,1578.3 124.9,1577.8 126.4,1577.3 127.8,1576.7 129.2,1576.2 130.7,1575.6 132.1,1575.0 133.5,1574.4 134.8,1573.8 136.2,1573.2 137.6,1572.6 139.0,1572.0 140.3,1571.3 141.7,1570.6 143.0,1570.0 144.3,1569.3 145.7,1568.6 147.0,1567.9 148.3,1567.2 149.6,1566.4 150.9,1565.7 152.2,1564.9 153.4,1564.2 154.7,1563.4 156.0,1562.6 157.2,1561.8 158.5,1561.0 159.7,1560.2 160.9,1559.4 162.2,1558.5 163.4,1557.7 164.6,1556.8 165.8,1556.0 167.0,1555.1 168.2,1554.2 169.4,1553.3 170.6,1552.4 171.8,1551.5 172.9,1550.6 174.1,1549.7 175.2,1548.7 176.4,1547.8 177.5,1546.8 178.7,1545.9 179.8,1544.9 180.9,1543.9 182.1,1543.0 183.2,1542.0 184.3,1541.0 185.4,1540.0 186.5,1539.0 187.6,1538.0 188.7,1536.9 189.8,1535.9 190.9,1534.9 192.0,1533.8 193.0,1532.8 194.1,1531.7 195.2,1530.7 196.2,1529.6 197.3,1528.5 198.3,1527.5 199.4,1526.4 200.4,1525.3 201.5,1524.2 202.5,1523.1 203.5,1522.0 204.6,1520.9 205.6,1519.8 206.6,1518.7 207.6,1517.6 208.7,1516.5 209.7,1515.3 210.7,1514.2 211.7,1513.1 212.7,1511.9 213.7,1510.8 214.6,1509.6 215.6,1508.5 216.6,1507.3 217.6,1506.1 218.6,1505.0 219.5,1503.8 220.5,1502.6 221.4,1501.4 222.4,1500.3 223.3,1499.1 224.3,1497.9 225.2,1496.7 226.2,1495.5 227.1,1494.3 228.0,1493.1 229.0,1491.9 229.9,1490.7 230.8,1489.4 231.7,1488.2 232.6,1487.0 233.5,1485.8 234.4,1484.5 235.3,1483.3 236.2,1482.1 237.1,1480.8 238.0,1479.6 238.9,1478.3 239.8,1477.1 240.6,1475.8 241.5,1474.6 242.4,1473.3 243.2,1472.0 244.1,1470.8 244.9,1469.5 245.8,1468.2 246.6,1467.0 247.4,1465.7 248.3,1464.4 249.1,1463.1 249.9,1461.9 250.8,1460.6 251.6,1459.3 252.4,1458.0 253.2,1456.7 254.0,1455.4 254.8,1454.1 255.6,1452.8 256.4,1451.5 257.2,1450.2 257.9,1448.9 258.7,1447.6 259.5,1446.3 260.3,1445.0 261.0,1443.6 261.8,1442.3 262.5,1441.0 263.3,1439.7 264.0,1438.4 264.8,1437.1 265.5,1435.7 266.3,1434.4 267.0,1433.1 267.7,1431.8 268.4,1430.4 269.1,1429.1 269.9,1427.8 270.6,1426.4 271.3,1425.1 272.0,1423.8 272.7,1422.4 273.4,1421.1 274.0,1419.7 274.7,1418.4 275.4,1417.1 276.1,1415.7 276.7,1414.4 277.4,1413.0 278.1,1411.7 278.7,1410.4 279.4,1409.0 280.0,1407.7 280.6,1406.3 281.3,1405.0 281.9,1403.6 282.5,1402.3 283.2,1401.0 283.8,1399.6 284.4,1398.3 285.0,1396.9 285.6,1395.6 286.2,1394.2 286.8,1392.9 287.4,1391.5 288.0,1390.2 288.6,1388.8 289.2,1387.5 289.7,1386.1 290.3,1384.8 290.9,1383.4 291.4,1382.1 292.0,1380.7 292.6,1379.4 293.1,1378.1 293.7,1376.7 294.2,1375.4 294.8,1374.0 295.3,1372.7 295.9,1371.3 296.4,1370.0 297.0,1368.6 297.5,1367.3 298.1,1365.9 298.6,1364.5 299.1,1363.2 299.7,1361.8 300.2,1360.5 300.7,1359.1 301.3,1357.8 301.8,1356.4 302.3,1355.1 302.9,1353.7 303.4,1352.4 303.9,1351.0 304.5,1349.6 305.0,1348.3 305.5,1346.9 306.1,1345.6 306.6,1344.2 307.1,1342.8 307.7,1341.5 308.2,1340.1 308.7,1338.8 309.3,1337.4 309.8,1336.0 310.3,1334.7 310.9,1333.3 311.4,1331.9 312.0,1330.6 312.5,1329.2 313.1,1327.8 313.6,1326.5 314.2,1325.1 314.7,1323.7 315.3,1322.3 315.8,1321.0 316.4,1319.6 317.0,1318.2 317.5,1316.8 318.1,1315.5 318.7,1314.1 319.2,1312.7 319.8,1311.3 320.4,1309.9 321.0,1308.6 321.6,1307.2 322.2,1305.8 322.8,1304.4 323.4,1303.0 324.0,1301.6 324.6,1300.2 325.2,1298.8 325.9,1297.5 326.5,1296.1 327.1,1294.7 327.8,1293.3 328.4,1291.9 329.1,1290.5 329.7,1289.1 330.4,1287.7 331.1,1286.3 331.7,1284.9 332.4,1283.5 333.1,1282.1 333.8,1280.7 334.5,1279.3 335.2,1277.8 335.9,1276.4 336.6,1275.0 337.4,1273.6 338.1,1272.2 338.8,1270.8 339.6,1269.4 340.3,1267.9 341.1,1266.5 341.9,1265.1 342.7,1263.7 343.5,1262.3 344.2,1260.9 345.1,1259.4 345.9,1258.0 346.7,1256.6 347.5,1255.2 348.4,1253.8 349.2,1252.4 350.1,1251.0 350.9,1249.7 351.8,1248.3 352.7,1246.9 353.6,1245.6 354.5,1244.2 355.4,1242.9 356.3,1241.6 357.2,1240.2 358.2,1238.9 359.1,1237.6 360.1,1236.3 361.0,1235.1 362.0,1233.8 363.0,1232.6 364.0,1231.3 365.0,1230.1 366.0,1228.9 367.0,1227.7 368.1,1226.5 369.1,1225.4 370.2,1224.2 371.2,1223.1 372.3,1222.0 373.4,1220.9 374.5,1219.9 375.6,1218.8 376.8,1217.8 377.9,1216.8 379.0,1215.8 380.2,1214.9 381.4,1213.9 382.5,1213.0 383.7,1212.1 384.9,1211.3 386.2,1210.4 387.4,1209.6 388.6,1208.9 389.9,1208.1 391.1,1207.4 392.4,1206.8 393.7,1206.1 394.9,1205.5 396.2,1205.0 397.5,1204.5 398.8,1204.1 400.1,1203.7 401.4,1203.3 402.7,1203.0 404.1,1202.8 405.4,1202.6 406.7,1202.5 408.0,1202.4 409.4,1202.4 410.7,1202.4 412.0,1202.4 413.4,1202.6 414.7,1202.7 416.0,1202.9 417.4,1203.2 418.7,1203.4 420.0,1203.8 421.4,1204.1 422.7,1204.5 424.0,1205.0 425.4,1205.5 426.7,1206.0 428.0,1206.5 429.4,1207.1 430.7,1207.7 432.0,1208.4 433.3,1209.1 434.6,1209.8 435.9,1210.5 437.2,1211.3 438.5,1212.1 439.8,1212.9 441.1,1213.8 442.3,1214.6 443.6,1215.5 444.9,1216.4 446.1,1217.4 447.4,1218.3 448.6,1219.3 449.8,1220.3 451.0,1221.3 452.3,1222.3 453.5,1223.4 454.6,1224.4 455.8,1225.5 457.0,1226.5 458.1,1227.6 459.3,1228.7 460.4,1229.8 461.5,1230.9 462.6,1232.0 463.7,1233.2 464.8,1234.3 465.9,1235.4 467.0,1236.6 468.0,1237.7 469.1,1238.9 470.1,1240.0 471.1,1241.2 472.1,1242.4 473.1,1243.6 474.1,1244.8 475.1,1246.0 476.1,1247.2 477.1,1248.4 478.0,1249.6 479.0,1250.8 479.9,1252.0 480.9,1253.2 481.8,1254.5 482.7,1255.7 483.6,1256.9 484.5,1258.2 485.5,1259.4 486.3,1260.7 487.2,1261.9 488.1,1263.2 489.0,1264.4 489.9,1265.7 490.8,1267.0 491.6,1268.2 492.5,1269.5 493.3,1270.8 494.2,1272.0 495.0,1273.3 495.9,1274.6 496.7,1275.9 497.6,1277.2 498.4,1278.4 499.2,1279.7 500.1,1281.0 500.9,1282.3 501.7,1283.6 502.5,1284.9 503.4,1286.1 504.2,1287.4 505.0,1288.7 505.8,1290.0 506.6,1291.3 507.4,1292.6 508.3,1293.9 509.1,1295.1 509.9,1296.4 510.7,1297.7 511.5,1299.0 512.3,1300.3 513.2,1301.5 514.0,1302.8 514.8,1304.1 515.6,1305.4 516.5,1306.6 517.3,1307.9 518.1,1309.2 519.0,1310.4 519.8,1311.7 520.6,1312.9 521.5,1314.2 522.3,1315.4 523.2,1316.7 524.0,1317.9 524.9,1319.2 525.7,1320.4 526.6,1321.6 527.5,1322.8 528.4,1324.1 529.3,1325.3 530.1,1326.5 531.0,1327.7 531.9,1328.9 532.8,1330.1 533.7,1331.3 534.7,1332.5 535.6,1333.6 536.5,1334.8 537.4,1336.0 538.4,1337.1 539.3,1338.3 540.2,1339.5 541.2,1340.6 542.1,1341.8 543.1,1342.9 544.1,1344.1 545.0,1345.2 546.0,1346.3 547.0,1347.5 548.0,1348.6 548.9,1349.7 549.9,1350.8 550.9,1351.9 551.9,1353.0 552.9,1354.1 553.9,1355.2 554.9,1356.3 556.0,1357.4 557.0,1358.5 558.0,1359.6 559.0,1360.6 560.1,1361.7 561.1,1362.8 562.2,1363.8 563.2,1364.9 564.3,1365.9 565.3,1367.0 566.4,1368.0 567.4,1369.1 568.5,1370.1 569.6,1371.1 570.7,1372.2 571.7,1373.2 572.8,1374.2 573.9,1375.2 575.0,1376.2 576.1,1377.2 577.2,1378.2 578.3,1379.2 579.4,1380.2 580.5,1381.2 581.6,1382.2 582.8,1383.2 583.9,1384.1 585.0,1385.1 586.2,1386.1 587.3,1387.0 588.4,1388.0 589.6,1389.0 590.7,1389.9 591.9,1390.9 593.0,1391.8 594.2,1392.7 595.4,1393.7 596.5,1394.6 597.7,1395.5 598.9,1396.5 600.0,1397.4 601.2,1398.3 602.4,1399.2 603.6,1400.1 604.8,1401.0 606.0,1401.9 607.2,1402.8 608.4,1403.7 609.6,1404.6 610.8,1405.4 612.0,1406.3 613.2,1407.2 614.4,1408.1 615.7,1408.9 616.9,1409.8 618.1,1410.7 619.3,1411.5 620.6,1412.4 621.8,1413.2 623.1,1414.0 624.3,1414.9 625.5,1415.7 626.8,1416.5 628.0,1417.4 629.3,1418.2 630.6,1419.0 631.8,1419.8 633.1,1420.6 634.4,1421.4 635.6,1422.2 636.9,1423.0 638.2,1423.8 639.5,1424.6 640.7,1425.4 642.0,1426.2 643.3,1427.0 644.6,1427.8 645.9,1428.5 647.2,1429.3 648.5,1430.1 649.8,1430.8 651.1,1431.6 652.4,1432.3 653.7,1433.1 655.0,1433.8 656.3,1434.6 657.7,1435.3 659.0,1436.1 660.3,1436.8 661.6,1437.5 663.0,1438.2 664.3,1439.0 665.6,1439.7 667.0,1440.4 668.3,1441.1 669.6,1441.8 671.0,1442.5 672.3,1443.2 673.7,1443.9 675.0,1444.6 676.4,1445.3 677.7,1446.0 679.1,1446.6 680.4,1447.3 681.8,1448.0 683.2,1448.7 684.5,1449.3 685.9,1450.0 687.2,1450.6 688.6,1451.3 690.0,1452.0 691.4,1452.6 692.7,1453.2 694.1,1453.9 695.5,1454.5 696.9,1455.2 698.3,1455.8 699.6,1456.4 701.0,1457.0 702.4,1457.7 703.8,1458.3 705.2,1458.9 706.6,1459.5 708.0,1460.1 709.4,1460.7 710.8,1461.3 712.2,1461.9 713.6,1462.5 715.0,1463.1 716.4,1463.7 717.8,1464.3 719.2,1464.8 720.6,1465.4 722.1,1466.0 723.5,1466.6 724.9,1467.1 726.3,1467.7 727.7,1468.3 729.1,1468.8 730.6,1469.4 732.0,1469.9 733.4,1470.5 734.8,1471.0 736.3,1471.5 737.7,1472.1 739.1,1472.6 740.5,1473.1 742.0,1473.7 743.4,1474.2 744.8,1474.7 746.3,1475.2 747.7,1475.7 749.1,1476.3 750.6,1476.8 752.0,1477.3 753.5,1477.8 754.9,1478.3 756.3,1478.8 757.8,1479.3 759.2,1479.8 760.7,1480.2 762.1,1480.7 763.6,1481.2 765.0,1481.7 766.5,1482.2 767.9,1482.6 769.4,1483.1 770.8,1483.6 772.3,1484.0 773.7,1484.5 775.2,1484.9 776.6,1485.4 778.1,1485.8 779.5,1486.3 781.0,1486.7 782.4,1487.2 783.9,1487.6 785.3,1488.0 786.8,1488.5 788.3,1488.9 789.7,1489.3 791.2,1489.7 792.6,1490.2 794.1,1490.6 795.6,1491.0 797.0,1491.4 798.5,1491.8 799.9,1492.2 801.4,1492.6 802.9,1493.0 804.3,1493.4 805.8,1493.8 807.2,1494.2 808.7,1494.6 810.2,1495.0 811.6,1495.3 813.1,1495.7 814.5,1496.1 816.0,1496.5 817.5,1496.8 818.9,1497.2 820.4,1497.6 821.9,1497.9 823.3,1498.3 824.8,1498.7 826.2,1499.0 827.7,1499.4 829.2,1499.7 830.6,1500.1 832.1,1500.4 833.6,1500.7 835.0,1501.1 836.5,1501.4 837.9,1501.7 839.4,1502.1 840.9,1502.4 842.3,1502.7 843.8,1503.0 845.2,1503.4 846.7,1503.7 848.2,1504.0 849.6,1504.3 851.1,1504.6 852.5,1504.9 854.0,1505.2 855.4,1505.5 856.9,1505.8 858.3,1506.1 859.8,1506.4 861.3,1506.7 862.7,1507.0 864.2,1507.3 865.6,1507.6 867.1,1507.8 868.5,1508.1 870.0,1508.4 871.4,1508.7 872.9,1508.9 874.3,1509.2 875.7,1509.5 877.2,1509.7 878.6,1510.0 880.1,1510.2 881.5,1510.5 883.0,1510.7 884.4,1511.0" fill="none" stroke="#107a10" stroke-width="2.3" stroke-linecap="butt" stroke-linejoin="round"/>
<path d="M123.5,1578.3 125.0,1577.9 126.4,1577.4 127.9,1577.0 129.3,1576.5 130.8,1576.0 132.2,1575.6 133.6,1575.1 135.1,1574.6 136.5,1574.1 137.9,1573.5 139.3,1573.0 140.7,1572.5 142.1,1571.9 143.5,1571.3 144.9,1570.8 146.2,1570.2 147.6,1569.6 149.0,1569.0 150.3,1568.4 151.7,1567.8 153.1,1567.1 154.4,1566.5 155.7,1565.8 157.1,1565.2 158.4,1564.5 159.7,1563.8 161.1,1563.2 162.4,1562.5 163.7,1561.8 165.0,1561.0 166.3,1560.3 167.6,1559.6 168.9,1558.9 170.1,1558.1 171.4,1557.4 172.7,1556.6 174.0,1555.8 175.2,1555.0 176.5,1554.3 177.7,1553.5 179.0,1552.7 180.2,1551.8 181.5,1551.0 182.7,1550.2 183.9,1549.4 185.1,1548.5 186.4,1547.7 187.6,1546.8 188.8,1546.0 190.0,1545.1 191.2,1544.2 192.4,1543.3 193.6,1542.4 194.8,1541.5 195.9,1540.6 197.1,1539.7 198.3,1538.8 199.4,1537.8 200.6,1536.9 201.8,1536.0 202.9,1535.0 204.1,1534.1 205.2,1533.1 206.3,1532.1 207.5,1531.1 208.6,1530.2 209.7,1529.2 210.9,1528.2 212.0,1527.2 213.1,1526.2 214.2,1525.2 215.3,1524.1 216.4,1523.1 217.5,1522.1 218.6,1521.1 219.7,1520.0 220.8,1519.0 221.8,1517.9 222.9,1516.8 224.0,1515.8 225.0,1514.7 226.1,1513.6 227.2,1512.6 228.2,1511.5 229.3,1510.4 230.3,1509.3 231.4,1508.2 232.4,1507.1 233.4,1506.0 234.5,1504.9 235.5,1503.7 236.5,1502.6 237.5,1501.5 238.5,1500.4 239.6,1499.2 240.6,1498.1 241.6,1496.9 242.6,1495.8 243.6,1494.6 244.5,1493.5 245.5,1492.3 246.5,1491.1 247.5,1490.0 248.5,1488.8 249.5,1487.6 250.4,1486.4 251.4,1485.2 252.4,1484.1 253.3,1482.9 254.3,1481.7 255.2,1480.5 256.2,1479.3 257.1,1478.1 258.1,1476.8 259.0,1475.6 259.9,1474.4 260.9,1473.2 261.8,1472.0 262.7,1470.8 263.7,1469.5 264.6,1468.3 265.5,1467.1 266.4,1465.8 267.3,1464.6 268.2,1463.4 269.1,1462.1 270.0,1460.9 270.9,1459.6 271.8,1458.4 272.7,1457.1 273.6,1455.9 274.5,1454.6 275.4,1453.4 276.3,1452.1 277.1,1450.8 278.0,1449.6 278.9,1448.3 279.8,1447.1 280.6,1445.8 281.5,1444.5 282.3,1443.3 283.2,1442.0 284.1,1440.7 284.9,1439.4 285.8,1438.2 286.6,1436.9 287.5,1435.6 288.3,1434.3 289.1,1433.1 290.0,1431.8 290.8,1430.5 291.6,1429.2 292.5,1427.9 293.3,1426.7 294.1,1425.4 294.9,1424.1 295.8,1422.8 296.6,1421.5 297.4,1420.2 298.2,1419.0 299.0,1417.7 299.8,1416.4 300.6,1415.1 301.4,1413.8 302.2,1412.6 303.0,1411.3 303.8,1410.0 304.6,1408.7 305.4,1407.4 306.2,1406.1 307.0,1404.9 307.8,1403.6 308.6,1402.3 309.3,1401.0 310.1,1399.8 310.9,1398.5 311.7,1397.2 312.5,1395.9 313.2,1394.7 314.0,1393.4 314.8,1392.1 315.5,1390.9 316.3,1389.6 317.1,1388.3 317.8,1387.1 318.6,1385.8 319.3,1384.5 320.1,1383.3 320.9,1382.0 321.6,1380.8 322.4,1379.5 323.1,1378.3 323.9,1377.0 324.6,1375.8 325.4,1374.5 326.1,1373.3 326.8,1372.0 327.6,1370.8 328.3,1369.5 329.1,1368.3 329.8,1367.0 330.6,1365.8 331.3,1364.5 332.0,1363.3 332.8,1362.1 333.5,1360.8 334.3,1359.6 335.0,1358.3 335.7,1357.1 336.5,1355.8 337.2,1354.6 338.0,1353.4 338.7,1352.1 339.4,1350.9 340.2,1349.6 340.9,1348.4 341.7,1347.1 342.4,1345.9 343.1,1344.7 343.9,1343.4 344.6,1342.2 345.4,1340.9 346.1,1339.7 346.9,1338.4 347.6,1337.2 348.4,1335.9 349.1,1334.7 349.9,1333.4 350.6,1332.2 351.4,1330.9 352.2,1329.7 352.9,1328.4 353.7,1327.2 354.4,1325.9 355.2,1324.6 356.0,1323.4 356.7,1322.1 357.5,1320.8 358.3,1319.6 359.1,1318.3 359.8,1317.0 360.6,1315.8 361.4,1314.5 362.2,1313.2 363.0,1311.9 363.8,1310.6 364.6,1309.3 365.3,1308.1 366.1,1306.8 366.9,1305.5 367.8,1304.2 368.6,1302.9 369.4,1301.6 370.2,1300.3 371.0,1299.0 371.8,1297.7 372.7,1296.3 373.5,1295.0 374.3,1293.7 375.2,1292.4 376.0,1291.1 376.8,1289.7 377.7,1288.4 378.5,1287.1 379.4,1285.7 380.3,1284.4 381.1,1283.0 382.0,1281.7 382.9,1280.3 383.7,1279.0 384.6,1277.6 385.5,1276.3 386.4,1274.9 387.3,1273.5 388.2,1272.2 389.2,1270.8 390.1,1269.5 391.0,1268.1 391.9,1266.8 392.9,1265.5 393.8,1264.1 394.8,1262.8 395.8,1261.5 396.8,1260.2 397.8,1258.8 398.8,1257.5 399.8,1256.2 400.8,1255.0 401.8,1253.7 402.9,1252.4 403.9,1251.2 405.0,1249.9 406.0,1248.7 407.1,1247.5 408.2,1246.3 409.3,1245.2 410.4,1244.0 411.6,1242.9 412.7,1241.9 413.9,1240.8 415.0,1239.8 416.2,1238.8 417.4,1237.9 418.6,1237.0 419.8,1236.1 421.0,1235.3 422.2,1234.5 423.5,1233.7 424.7,1233.0 426.0,1232.4 427.2,1231.8 428.5,1231.3 429.8,1230.8 431.1,1230.3 432.4,1229.9 433.8,1229.5 435.1,1229.2 436.4,1229.0 437.8,1228.7 439.1,1228.5 440.5,1228.4 441.9,1228.3 443.3,1228.2 444.6,1228.2 446.0,1228.2 447.4,1228.2 448.8,1228.3 450.2,1228.5 451.6,1228.6 453.0,1228.8 454.4,1229.0 455.8,1229.3 457.2,1229.6 458.6,1229.9 460.0,1230.3 461.4,1230.7 462.8,1231.1 464.2,1231.5 465.6,1232.0 467.0,1232.5 468.4,1233.0 469.8,1233.6 471.2,1234.2 472.5,1234.8 473.9,1235.4 475.3,1236.0 476.7,1236.7 478.0,1237.4 479.4,1238.1 480.7,1238.9 482.1,1239.6 483.4,1240.4 484.7,1241.2 486.0,1242.0 487.3,1242.9 488.6,1243.7 489.9,1244.6 491.2,1245.4 492.4,1246.3 493.7,1247.2 494.9,1248.2 496.2,1249.1 497.4,1250.0 498.6,1251.0 499.8,1251.9 500.9,1252.9 502.1,1253.9 503.3,1254.9 504.4,1255.9 505.5,1256.9 506.6,1257.9 507.8,1259.0 508.9,1260.0 510.0,1261.1 511.0,1262.1 512.1,1263.2 513.2,1264.3 514.2,1265.4 515.3,1266.5 516.3,1267.6 517.4,1268.7 518.4,1269.8 519.4,1270.9 520.4,1272.1 521.4,1273.2 522.4,1274.3 523.4,1275.5 524.4,1276.6 525.4,1277.8 526.3,1279.0 527.3,1280.1 528.3,1281.3 529.2,1282.5 530.2,1283.7 531.1,1284.9 532.1,1286.1 533.0,1287.3 533.9,1288.5 534.9,1289.7 535.8,1290.9 536.7,1292.1 537.7,1293.3 538.6,1294.5 539.5,1295.7 540.4,1296.9 541.3,1298.2 542.2,1299.4 543.2,1300.6 544.1,1301.8 545.0,1303.1 545.9,1304.3 546.8,1305.5 547.7,1306.7 548.6,1308.0 549.5,1309.2 550.4,1310.4 551.3,1311.6 552.3,1312.8 553.2,1314.1 554.1,1315.3 555.0,1316.5 555.9,1317.7 556.8,1318.9 557.8,1320.1 558.7,1321.3 559.6,1322.5 560.6,1323.7 561.5,1324.9 562.4,1326.1 563.4,1327.3 564.3,1328.5 565.3,1329.6 566.2,1330.8 567.2,1332.0 568.2,1333.1 569.1,1334.3 570.1,1335.4 571.1,1336.6 572.1,1337.7 573.1,1338.9 574.1,1340.0 575.0,1341.1 576.1,1342.3 577.1,1343.4 578.1,1344.5 579.1,1345.6 580.1,1346.7 581.1,1347.8 582.1,1348.9 583.2,1350.0 584.2,1351.1 585.2,1352.2 586.3,1353.3 587.3,1354.4 588.4,1355.4 589.4,1356.5 590.5,1357.6 591.6,1358.6 592.6,1359.7 593.7,1360.7 594.8,1361.8 595.8,1362.8 596.9,1363.9 598.0,1364.9 599.1,1365.9 600.2,1366.9 601.3,1368.0 602.4,1369.0 603.5,1370.0 604.6,1371.0 605.7,1372.0 606.8,1373.0 607.9,1374.0 609.1,1375.0 610.2,1376.0 611.3,1376.9 612.5,1377.9 613.6,1378.9 614.7,1379.9 615.9,1380.8 617.0,1381.8 618.2,1382.7 619.3,1383.7 620.5,1384.6 621.7,1385.6 622.8,1386.5 624.0,1387.4 625.2,1388.4 626.3,1389.3 627.5,1390.2 628.7,1391.1 629.9,1392.0 631.1,1392.9 632.3,1393.8 633.5,1394.7 634.7,1395.6 635.9,1396.5 637.1,1397.4 638.3,1398.3 639.5,1399.1 640.7,1400.0 641.9,1400.9 643.2,1401.7 644.4,1402.6 645.6,1403.5 646.8,1404.3 648.1,1405.2 649.3,1406.0 650.6,1406.8 651.8,1407.7 653.0,1408.5 654.3,1409.3 655.5,1410.1 656.8,1410.9 658.1,1411.8 659.3,1412.6 660.6,1413.4 661.8,1414.2 663.1,1415.0 664.4,1415.7 665.7,1416.5 666.9,1417.3 668.2,1418.1 669.5,1418.9 670.8,1419.6 672.1,1420.4 673.4,1421.2 674.7,1421.9 676.0,1422.7 677.3,1423.4 678.6,1424.1 679.9,1424.9 681.2,1425.6 682.5,1426.3 683.8,1427.1 685.1,1427.8 686.4,1428.5 687.8,1429.2 689.1,1429.9 690.4,1430.6 691.7,1431.3 693.1,1432.0 694.4,1432.7 695.7,1433.4 697.1,1434.1 698.4,1434.8 699.8,1435.5 701.1,1436.1 702.5,1436.8 703.8,1437.5 705.2,1438.1 706.5,1438.8 707.9,1439.4 709.2,1440.1 710.6,1440.7 712.0,1441.3 713.3,1442.0 714.7,1442.6 716.1,1443.2 717.4,1443.9 718.8,1444.5 720.2,1445.1 721.6,1445.7 723.0,1446.3 724.3,1446.9 725.7,1447.5 727.1,1448.1 728.5,1448.7 729.9,1449.3 731.3,1449.8 732.7,1450.4 734.1,1451.0 735.5,1451.6 736.9,1452.1 738.3,1452.7 739.7,1453.2 741.1,1453.8 742.5,1454.3 743.9,1454.9 745.3,1455.4 746.7,1455.9 748.2,1456.5 749.6,1457.0 751.0,1457.5 752.4,1458.0 753.8,1458.6 755.3,1459.1 756.7,1459.6 758.1,1460.1 759.5,1460.6 761.0,1461.1 762.4,1461.6 763.8,1462.0 765.3,1462.5 766.7,1463.0 768.1,1463.5 769.6,1464.0 771.0,1464.4 772.5,1464.9 773.9,1465.3 775.4,1465.8 776.8,1466.2 778.3,1466.7 779.7,1467.1 781.2,1467.6 782.6,1468.0 784.1,1468.4 785.5,1468.9 787.0,1469.3 788.4,1469.7 789.9,1470.1 791.4,1470.5 792.8,1470.9 794.3,1471.3 795.7,1471.7 797.2,1472.1 798.7,1472.5 800.1,1472.9 801.6,1473.3 803.1,1473.7 804.5,1474.0 806.0,1474.4 807.5,1474.8 809.0,1475.1 810.4,1475.5 811.9,1475.8 813.4,1476.2 814.9,1476.5 816.3,1476.9 817.8,1477.2 819.3,1477.6 820.8,1477.9 822.3,1478.2 823.8,1478.5 825.2,1478.9 826.7,1479.2 828.2,1479.5 829.7,1479.8 831.2,1480.1 832.7,1480.4 834.2,1480.7 835.6,1481.0 837.1,1481.3 838.6,1481.5 840.1,1481.8 841.6,1482.1 843.1,1482.4 844.6,1482.6 846.1,1482.9 847.6,1483.2 849.1,1483.4 850.6,1483.7 852.1,1483.9 853.6,1484.2 855.1,1484.4 856.6,1484.7 858.1,1484.9 859.6,1485.1 861.1,1485.3 862.6,1485.6 864.1,1485.8 865.6,1486.0 867.1,1486.2 868.6,1486.4 870.1,1486.6 871.6,1486.8 873.1,1487.0 874.6,1487.2 876.1,1487.4 877.6,1487.6 879.1,1487.8 880.6,1487.9 882.1,1488.1 883.6,1488.3 885.1,1488.4 886.6,1488.6 888.1,1488.8 889.6,1488.9 891.1,1489.1 892.6,1489.2 894.1,1489.3 895.6,1489.5 897.1,1489.6 898.6,1489.7 900.1,1489.9 901.6,1490.0" fill="none" stroke="#f25020" stroke-width="2.3" stroke-linecap="butt" stroke-linejoin="round"/>
<path d="M123.5,1578.3 125.0,1577.9 126.5,1577.6 127.9,1577.2 129.4,1576.8 130.9,1576.3 132.3,1575.9 133.8,1575.5 135.2,1575.1 136.7,1574.6 138.1,1574.2 139.6,1573.7 141.0,1573.2 142.5,1572.8 143.9,1572.3 145.3,1571.8 146.7,1571.3 148.2,1570.8 149.6,1570.3 151.0,1569.8 152.4,1569.3 153.8,1568.7 155.2,1568.2 156.6,1567.6 158.0,1567.1 159.4,1566.5 160.7,1566.0 162.1,1565.4 163.5,1564.8 164.9,1564.2 166.3,1563.6 167.6,1563.0 169.0,1562.4 170.3,1561.8 171.7,1561.2 173.1,1560.6 174.4,1559.9 175.7,1559.3 177.1,1558.7 178.4,1558.0 179.8,1557.4 181.1,1556.7 182.4,1556.0 183.8,1555.4 185.1,1554.7 186.4,1554.0 187.7,1553.3 189.0,1552.6 190.3,1551.9 191.7,1551.2 193.0,1550.5 194.3,1549.8 195.6,1549.0 196.9,1548.3 198.1,1547.6 199.4,1546.8 200.7,1546.1 202.0,1545.3 203.3,1544.6 204.6,1543.8 205.8,1543.0 207.1,1542.3 208.4,1541.5 209.7,1540.7 210.9,1539.9 212.2,1539.1 213.4,1538.3 214.7,1537.5 216.0,1536.7 217.2,1535.9 218.5,1535.1 219.7,1534.3 220.9,1533.4 222.2,1532.6 223.4,1531.8 224.7,1530.9 225.9,1530.1 227.1,1529.2 228.4,1528.4 229.6,1527.5 230.8,1526.7 232.0,1525.8 233.3,1524.9 234.5,1524.1 235.7,1523.2 236.9,1522.3 238.1,1521.4 239.3,1520.5 240.5,1519.6 241.7,1518.7 242.9,1517.8 244.1,1516.9 245.3,1516.0 246.5,1515.1 247.7,1514.2 248.9,1513.3 250.1,1512.3 251.3,1511.4 252.5,1510.5 253.7,1509.6 254.9,1508.6 256.1,1507.7 257.2,1506.7 258.4,1505.8 259.6,1504.8 260.8,1503.9 261.9,1502.9 263.1,1502.0 264.3,1501.0 265.4,1500.1 266.6,1499.1 267.8,1498.1 268.9,1497.2 270.1,1496.2 271.3,1495.2 272.4,1494.2 273.6,1493.2 274.7,1492.3 275.9,1491.3 277.1,1490.3 278.2,1489.3 279.4,1488.3 280.5,1487.3 281.7,1486.3 282.8,1485.3 284.0,1484.3 285.1,1483.3 286.2,1482.3 287.4,1481.3 288.5,1480.3 289.7,1479.3 290.8,1478.3 292.0,1477.2 293.1,1476.2 294.2,1475.2 295.4,1474.2 296.5,1473.2 297.6,1472.1 298.8,1471.1 299.9,1470.1 301.0,1469.1 302.2,1468.0 303.3,1467.0 304.4,1466.0 305.6,1464.9 306.7,1463.9 307.8,1462.9 308.9,1461.8 310.1,1460.8 311.2,1459.8 312.3,1458.7 313.4,1457.7 314.6,1456.7 315.7,1455.6 316.8,1454.6 317.9,1453.5 319.1,1452.5 320.2,1451.4 321.3,1450.4 322.4,1449.4 323.5,1448.3 324.7,1447.3 325.8,1446.2 326.9,1445.2 328.0,1444.1 329.1,1443.1 330.3,1442.1 331.4,1441.0 332.5,1440.0 333.6,1438.9 334.7,1437.9 335.8,1436.8 337.0,1435.8 338.1,1434.7 339.2,1433.7 340.3,1432.6 341.4,1431.6 342.6,1430.6 343.7,1429.5 344.8,1428.5 345.9,1427.4 347.0,1426.4 348.2,1425.4 349.3,1424.3 350.4,1423.3 351.5,1422.2 352.6,1421.2 353.8,1420.2 354.9,1419.1 356.0,1418.1 357.1,1417.1 358.2,1416.0 359.4,1415.0 360.5,1414.0 361.6,1412.9 362.7,1411.9 363.9,1410.9 365.0,1409.9 366.1,1408.8 367.2,1407.8 368.4,1406.8 369.5,1405.8 370.6,1404.8 371.8,1403.8 372.9,1402.7 374.0,1401.7 375.1,1400.7 376.3,1399.7 377.4,1398.7 378.5,1397.7 379.7,1396.7 380.8,1395.7 382.0,1394.7 383.1,1393.7 384.2,1392.7 385.4,1391.7 386.5,1390.7 387.7,1389.8 388.8,1388.8 390.0,1387.8 391.1,1386.8 392.3,1385.8 393.4,1384.9 394.6,1383.9 395.7,1382.9 396.9,1382.0 398.0,1381.0 399.2,1380.0 400.3,1379.1 401.5,1378.1 402.7,1377.2 403.8,1376.2 405.0,1375.3 406.2,1374.3 407.3,1373.4 408.5,1372.5 409.7,1371.5 410.9,1370.6 412.0,1369.7 413.2,1368.8 414.4,1367.9 415.6,1366.9 416.8,1366.0 418.0,1365.1 419.2,1364.2 420.3,1363.3 421.5,1362.4 422.7,1361.6 423.9,1360.7 425.1,1359.8 426.3,1358.9 427.6,1358.0 428.8,1357.2 430.0,1356.3 431.2,1355.4 432.4,1354.6 433.6,1353.7 434.9,1352.9 436.1,1352.0 437.3,1351.2 438.5,1350.4 439.8,1349.5 441.0,1348.7 442.2,1347.9 443.5,1347.1 444.7,1346.3 446.0,1345.5 447.2,1344.7 448.5,1343.9 449.8,1343.1 451.0,1342.3 452.3,1341.5 453.5,1340.8 454.8,1340.0 456.1,1339.2 457.4,1338.5 458.6,1337.7 459.9,1337.0 461.2,1336.2 462.5,1335.5 463.8,1334.8 465.1,1334.0 466.4,1333.3 467.7,1332.6 469.0,1331.9 470.3,1331.2 471.6,1330.5 473.0,1329.8 474.3,1329.1 475.6,1328.5 476.9,1327.8 478.3,1327.1 479.6,1326.5 481.0,1325.8 482.3,1325.2 483.7,1324.5 485.0,1323.9 486.4,1323.3 487.7,1322.6 489.1,1322.0 490.5,1321.4 491.9,1320.8 493.2,1320.2 494.6,1319.6 496.0,1319.1 497.4,1318.5 498.8,1317.9 500.2,1317.4 501.6,1316.8 503.0,1316.3 504.4,1315.7 505.9,1315.2 507.3,1314.7 508.7,1314.2 510.1,1313.7 511.6,1313.2 513.0,1312.7 514.5,1312.2 515.9,1311.7 517.4,1311.3 518.9,1310.8 520.3,1310.3 521.8,1309.9" fill="none" stroke="#6e0c78" stroke-width="2.3" stroke-linecap="butt" stroke-linejoin="round"/>
<path d="M521.8,1309.9 H904.1" stroke="#6e0c78" stroke-width="2.3" fill="none"/>
<path d="M123.5,1578.3 125.0,1578.0 126.5,1577.7 128.0,1577.4 129.5,1577.1 131.0,1576.8 132.4,1576.4 133.9,1576.1 135.4,1575.7 136.9,1575.4 138.4,1575.0 139.8,1574.6 141.3,1574.3 142.8,1573.9 144.2,1573.5 145.7,1573.1 147.1,1572.7 148.6,1572.3 150.0,1571.9 151.5,1571.5 152.9,1571.0 154.4,1570.6 155.8,1570.2 157.2,1569.7 158.7,1569.3 160.1,1568.8 161.5,1568.4 163.0,1567.9 164.4,1567.4 165.8,1566.9 167.2,1566.5 168.6,1566.0 170.1,1565.5 171.5,1565.0 172.9,1564.5 174.3,1563.9 175.7,1563.4 177.1,1562.9 178.5,1562.4 179.9,1561.8 181.3,1561.3 182.7,1560.7 184.1,1560.2 185.5,1559.6 186.8,1559.1 188.2,1558.5 189.6,1557.9 191.0,1557.4 192.4,1556.8 193.7,1556.2 195.1,1555.6 196.5,1555.0 197.9,1554.4 199.2,1553.8 200.6,1553.2 201.9,1552.6 203.3,1551.9 204.7,1551.3 206.0,1550.7 207.4,1550.0 208.7,1549.4 210.1,1548.8 211.4,1548.1 212.8,1547.5 214.1,1546.8 215.5,1546.2 216.8,1545.5 218.2,1544.8 219.5,1544.2 220.8,1543.5 222.2,1542.8 223.5,1542.1 224.8,1541.4 226.2,1540.7 227.5,1540.0 228.8,1539.3 230.2,1538.6 231.5,1537.9 232.8,1537.2 234.1,1536.5 235.4,1535.8 236.8,1535.1 238.1,1534.3 239.4,1533.6 240.7,1532.9 242.0,1532.2 243.3,1531.4 244.6,1530.7 246.0,1529.9 247.3,1529.2 248.6,1528.4 249.9,1527.7 251.2,1526.9 252.5,1526.2 253.8,1525.4 255.1,1524.7 256.4,1523.9 257.7,1523.1 259.0,1522.3 260.3,1521.6 261.6,1520.8 262.9,1520.0 264.2,1519.2 265.5,1518.5 266.7,1517.7 268.0,1516.9 269.3,1516.1 270.6,1515.3 271.9,1514.5 273.2,1513.7 274.5,1512.9 275.8,1512.1 277.0,1511.3 278.3,1510.5 279.6,1509.7 280.9,1508.9 282.2,1508.1 283.4,1507.3 284.7,1506.4 286.0,1505.6 287.3,1504.8 288.6,1504.0 289.8,1503.2 291.1,1502.4 292.4,1501.5 293.7,1500.7 294.9,1499.9 296.2,1499.1 297.5,1498.2 298.7,1497.4 300.0,1496.6 301.3,1495.7 302.6,1494.9 303.8,1494.1 305.1,1493.2 306.4,1492.4 307.6,1491.6 308.9,1490.7 310.2,1489.9 311.4,1489.0 312.7,1488.2 314.0,1487.4 315.3,1486.5 316.5,1485.7 317.8,1484.8 319.1,1484.0 320.3,1483.2 321.6,1482.3 322.9,1481.5 324.1,1480.6 325.4,1479.8 326.7,1478.9 327.9,1478.1 329.2,1477.3 330.5,1476.4 331.7,1475.6 333.0,1474.7 334.3,1473.9 335.5,1473.0 336.8,1472.2 338.1,1471.4 339.3,1470.5 340.6,1469.7 341.9,1468.8 343.1,1468.0 344.4,1467.1 345.7,1466.3 346.9,1465.5 348.2,1464.6 349.5,1463.8 350.7,1463.0 352.0,1462.1 353.3,1461.3 354.5,1460.5 355.8,1459.6 357.1,1458.8 358.4,1458.0 359.6,1457.1 360.9,1456.3 362.2,1455.5 363.4,1454.6 364.7,1453.8 366.0,1453.0 367.3,1452.2 368.5,1451.3 369.8,1450.5 371.1,1449.7 372.4,1448.9 373.7,1448.1 374.9,1447.3 376.2,1446.4 377.5,1445.6 378.8,1444.8 380.1,1444.0 381.3,1443.2 382.6,1442.4 383.9,1441.6 385.2,1440.8 386.5,1440.0 387.8,1439.2 389.1,1438.4 390.3,1437.6 391.6,1436.8 392.9,1436.1 394.2,1435.3 395.5,1434.5 396.8,1433.7 398.1,1432.9 399.4,1432.2 400.7,1431.4 402.0,1430.6 403.3,1429.9 404.6,1429.1 405.9,1428.3 407.2,1427.6 408.5,1426.8 409.8,1426.1 411.1,1425.3 412.4,1424.6 413.7,1423.8 415.0,1423.1 416.3,1422.4 417.7,1421.6 419.0,1420.9 420.3,1420.2 421.6,1419.4 422.9,1418.7 424.2,1418.0 425.6,1417.3 426.9,1416.6 428.2,1415.9 429.5,1415.2 430.9,1414.5 432.2,1413.8 433.5,1413.1 434.9,1412.4 436.2,1411.7 437.5,1411.0 438.9,1410.3 440.2,1409.7 441.6,1409.0 442.9,1408.3 444.2,1407.7 445.6,1407.0 446.9,1406.4 448.3,1405.7 449.6,1405.1 451.0,1404.4 452.4,1403.8 453.7,1403.2 455.1,1402.6 456.4,1401.9 457.8,1401.3 459.2,1400.7 460.5,1400.1 461.9,1399.5 463.3,1398.9 464.6,1398.3 466.0,1397.7 467.4,1397.1 468.8,1396.6 470.2,1396.0 471.5,1395.4 472.9,1394.9 474.3,1394.3 475.7,1393.7 477.1,1393.2 478.5,1392.7 479.9,1392.1 481.3,1391.6 482.7,1391.1 484.1,1390.5 485.5,1390.0 486.9,1389.5 488.3,1389.0 489.7,1388.5 491.2,1388.0 492.6,1387.5 494.0,1387.1 495.4,1386.6 496.8,1386.1 498.3,1385.7 499.7,1385.2 501.1,1384.7 502.6,1384.3 504.0,1383.9 505.5,1383.4 506.9,1383.0 508.4,1382.6 509.8,1382.2 511.3,1381.8 512.7,1381.4 514.2,1381.0 515.6,1380.6 517.1,1380.2" fill="none" stroke="#d8a332" stroke-width="2.3" stroke-linecap="butt" stroke-linejoin="round"/>
<path d="M517.1,1380.2 H903.9" stroke="#d8a332" stroke-width="2.3" fill="none"/>
<rect x="620" y="1400" width="315" height="197" rx="4" fill="#d3d3d3" fill-opacity="0.8"/>
<text x="708.82" y="1423.10" font-size="19.24" fill="#000000" textLength="137.13" lengthAdjust="spacingAndGlyphs" stroke="#000000" stroke-width="0.22" >Breech Presure</text>
<path d="M628.4,1443.2 H665.3" stroke="#2f8ff0" stroke-width="2.3" fill="none"/>
<text x="678.88" y="1449.82" font-size="19.24" fill="#d8182a" textLength="91.07" lengthAdjust="spacingAndGlyphs" stroke="#d8182a" stroke-width="0.22" >0.02988 L</text>
<path d="M628.4,1468.9 H665.3" stroke="#f020f0" stroke-width="2.3" fill="none"/>
<text x="678.89" y="1475.52" font-size="19.24" fill="#d8182a" textLength="67.98" lengthAdjust="spacingAndGlyphs" stroke="#d8182a" stroke-width="0.22" >0.054 L</text>
<path d="M628.4,1495.4 H665.3" stroke="#107a10" stroke-width="2.3" fill="none"/>
<text x="678.90" y="1502.02" font-size="19.24" fill="#d8182a" textLength="249.30" lengthAdjust="spacingAndGlyphs" stroke="#d8182a" stroke-width="0.22" >0.0735 L (ORNL Test Stand)</text>
<path d="M628.4,1521.8 H665.3" stroke="#f25020" stroke-width="2.3" fill="none"/>
<text x="678.88" y="1528.42" font-size="19.24" fill="#d8182a" textLength="79.53" lengthAdjust="spacingAndGlyphs" stroke="#d8182a" stroke-width="0.22" >0.0946 L</text>
<path d="M628.4,1548.2 H665.3" stroke="#6e0c78" stroke-width="2.3" fill="none"/>
<text x="678.91" y="1554.82" font-size="19.24" fill="#d8182a" textLength="196.04" lengthAdjust="spacingAndGlyphs" stroke="#d8182a" stroke-width="0.22" >0.154 L (ITER Design)</text>
<path d="M628.4,1574.4 H665.3" stroke="#d8a332" stroke-width="2.3" fill="none"/>
<text x="678.89" y="1581.02" font-size="19.24" fill="#d8182a" textLength="67.98" lengthAdjust="spacingAndGlyphs" stroke="#d8182a" stroke-width="0.22" >0.208 L</text>
<text x="678.91" y="1369.50" font-size="43.20" fill="#000000" textLength="224.70" lengthAdjust="spacingAndGlyphs" stroke="#000000" stroke-width="0.8" font-weight="bold" >800V Shot</text>
<path d="M123.5,1599.8 v3 M219.7,1599.8 v3 M315.8,1599.8 v3 M412.0,1599.8 v3 M508.1,1599.8 v3 M604.2,1599.8 v3 M700.4,1599.8 v3 M796.6,1599.8 v3 M892.7,1599.8 v3 M84.8,1578.3 h-3 M84.8,1487.0 h-3 M84.8,1395.7 h-3 M84.8,1304.3 h-3 M84.8,1213.0 h-3 M84.8,1121.7 h-3 M943.0,1578.3 h3 M943.0,1514.8 h3 M943.0,1451.3 h3 M943.0,1387.9 h3 M943.0,1324.4 h3 M943.0,1260.9 h3 M943.0,1197.4 h3 M943.0,1134.0 h3" stroke="#8c8c9c" stroke-width="1" fill="none"/>
<text x="104.68" y="1621.20" font-size="25.76" fill="#000000" textLength="37.51" lengthAdjust="spacingAndGlyphs" stroke="#000000" stroke-width="0.22" >0.0</text>
<text x="201.09" y="1621.20" font-size="25.76" fill="#000000" textLength="37.13" lengthAdjust="spacingAndGlyphs" stroke="#000000" stroke-width="0.22" >0.5</text>
<text x="296.59" y="1621.20" font-size="25.76" fill="#000000" textLength="37.34" lengthAdjust="spacingAndGlyphs" stroke="#000000" stroke-width="0.22" >1.0</text>
<text x="393.01" y="1621.20" font-size="25.76" fill="#000000" textLength="36.96" lengthAdjust="spacingAndGlyphs" stroke="#000000" stroke-width="0.22" >1.5</text>
<text x="489.13" y="1621.20" font-size="25.76" fill="#000000" textLength="37.53" lengthAdjust="spacingAndGlyphs" stroke="#000000" stroke-width="0.22" >2.0</text>
<text x="585.54" y="1621.20" font-size="25.76" fill="#000000" textLength="37.16" lengthAdjust="spacingAndGlyphs" stroke="#000000" stroke-width="0.22" >2.5</text>
<text x="681.71" y="1621.20" font-size="25.76" fill="#000000" textLength="37.25" lengthAdjust="spacingAndGlyphs" stroke="#000000" stroke-width="0.22" >3.0</text>
<text x="778.11" y="1621.20" font-size="25.76" fill="#000000" textLength="36.88" lengthAdjust="spacingAndGlyphs" stroke="#000000" stroke-width="0.22" >3.5</text>
<text x="874.24" y="1621.20" font-size="25.76" fill="#000000" textLength="37.32" lengthAdjust="spacingAndGlyphs" stroke="#000000" stroke-width="0.22" >4.0</text>
<text x="67.01" y="1587.16" font-size="25.76" fill="#1414c8" textLength="14.22" lengthAdjust="spacingAndGlyphs" stroke="#1414c8" stroke-width="0.22" >0</text>
<text x="36.11" y="1495.84" font-size="25.76" fill="#1414c8" textLength="45.24" lengthAdjust="spacingAndGlyphs" stroke="#1414c8" stroke-width="0.22" >100</text>
<text x="35.93" y="1404.52" font-size="25.76" fill="#1414c8" textLength="45.42" lengthAdjust="spacingAndGlyphs" stroke="#1414c8" stroke-width="0.22" >200</text>
<text x="36.21" y="1313.20" font-size="25.76" fill="#1414c8" textLength="45.13" lengthAdjust="spacingAndGlyphs" stroke="#1414c8" stroke-width="0.22" >300</text>
<text x="36.14" y="1221.88" font-size="25.76" fill="#1414c8" textLength="45.20" lengthAdjust="spacingAndGlyphs" stroke="#1414c8" stroke-width="0.22" >400</text>
<text x="36.21" y="1130.56" font-size="25.76" fill="#1414c8" textLength="45.13" lengthAdjust="spacingAndGlyphs" stroke="#1414c8" stroke-width="0.22" >500</text>
<text x="946.02" y="1587.16" font-size="25.76" fill="#d8182a" textLength="37.51" lengthAdjust="spacingAndGlyphs" stroke="#d8182a" stroke-width="0.22" >0.0</text>
<text x="945.76" y="1523.68" font-size="25.76" fill="#d8182a" textLength="37.16" lengthAdjust="spacingAndGlyphs" stroke="#d8182a" stroke-width="0.22" >2.5</text>
<text x="946.03" y="1460.21" font-size="25.76" fill="#d8182a" textLength="37.25" lengthAdjust="spacingAndGlyphs" stroke="#d8182a" stroke-width="0.22" >5.0</text>
<text x="945.77" y="1396.73" font-size="25.76" fill="#d8182a" textLength="37.03" lengthAdjust="spacingAndGlyphs" stroke="#d8182a" stroke-width="0.22" >7.5</text>
<text x="945.06" y="1333.26" font-size="25.76" fill="#d8182a" textLength="52.84" lengthAdjust="spacingAndGlyphs" stroke="#d8182a" stroke-width="0.22" >10.0</text>
<text x="945.08" y="1269.78" font-size="25.76" fill="#d8182a" textLength="52.46" lengthAdjust="spacingAndGlyphs" stroke="#d8182a" stroke-width="0.22" >12.5</text>
<text x="945.06" y="1206.31" font-size="25.76" fill="#d8182a" textLength="52.84" lengthAdjust="spacingAndGlyphs" stroke="#d8182a" stroke-width="0.22" >15.0</text>
<text x="945.08" y="1142.83" font-size="25.76" fill="#d8182a" textLength="52.46" lengthAdjust="spacingAndGlyphs" stroke="#d8182a" stroke-width="0.22" >17.5</text>
<text x="455.57" y="1646.00" font-size="25.44" fill="#000000" textLength="119.30" lengthAdjust="spacingAndGlyphs" stroke="#000000" stroke-width="0.22" >Time (ms)</text>
<text transform="translate(29.10,1468.10) rotate(-90)" x="-2.14" y="0" font-size="25.44" fill="#1414c8" textLength="219.56" lengthAdjust="spacingAndGlyphs" stroke="#1414c8" stroke-width="0.22">Pellet Speed (m/s)</text>
<text transform="translate(1019.70,1495.70) rotate(-90)" x="-2.18" y="0" font-size="25.44" fill="#d8182a" textLength="268.59" lengthAdjust="spacingAndGlyphs" stroke="#d8182a" stroke-width="0.22">Breech Pressure (bar)</text>
</svg></body></html>
